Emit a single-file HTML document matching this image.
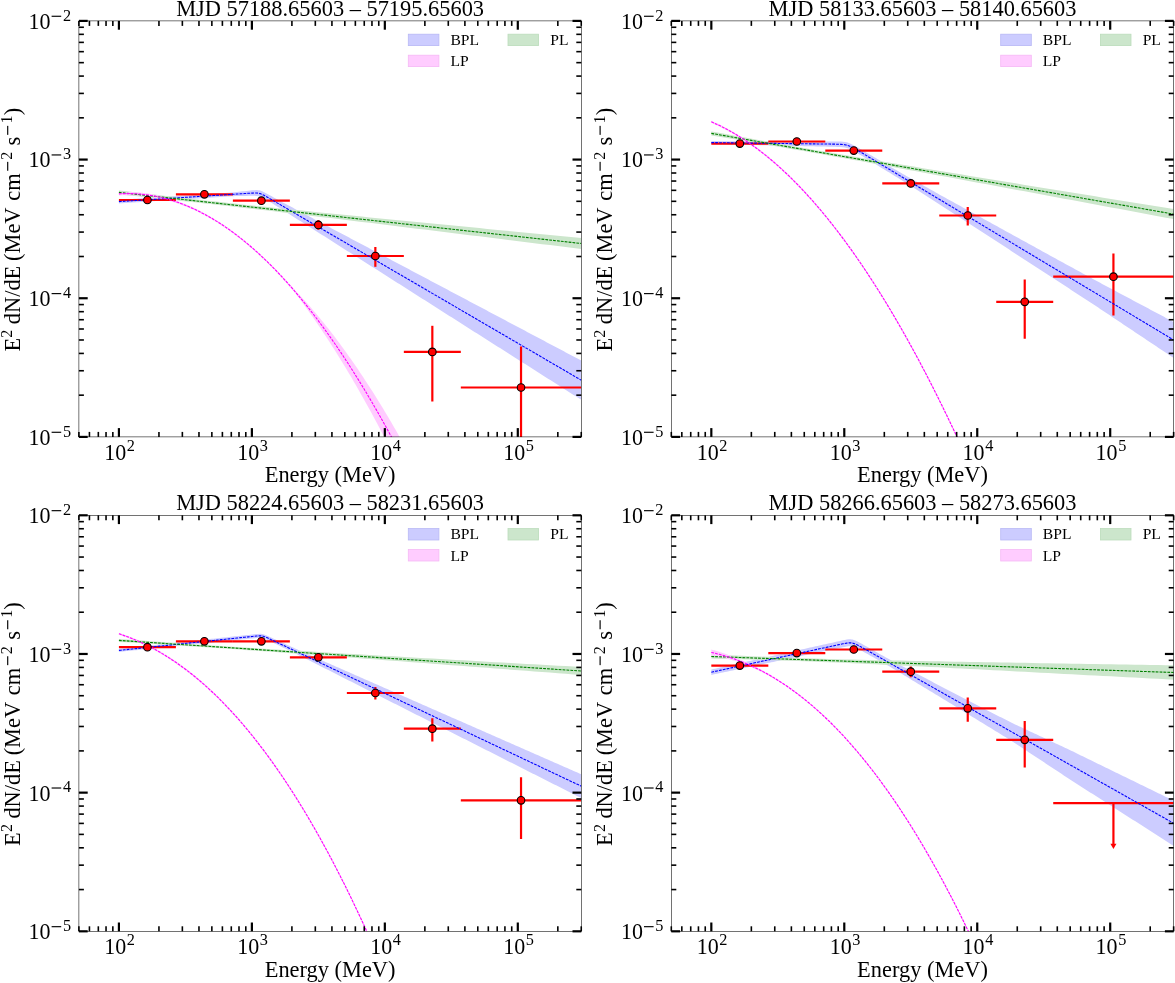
<!DOCTYPE html>
<html><head><meta charset="utf-8"><title>SED</title>
<style>html,body{margin:0;padding:0;background:#fff;}body{width:1175px;height:983px;overflow:hidden;font-family:"Liberation Serif",serif;}svg{display:block;will-change:transform;}</style>
</head><body>
<svg width="1175" height="983" viewBox="0 0 1175 983"><clipPath id="c0"><rect x="78.9" y="20.9" width="502.4" height="416"/></clipPath>
<g clip-path="url(#c0)">
<polygon points="118.92,199.8 120.86,199.67 122.79,199.55 124.73,199.42 126.66,199.3 128.6,199.17 130.53,199.05 132.47,198.92 134.4,198.8 136.34,198.67 138.27,198.54 140.21,198.42 142.14,198.29 144.08,198.17 146.01,198.04 147.94,197.92 149.88,197.79 151.81,197.67 153.75,197.54 155.68,197.41 157.62,197.29 159.55,197.16 161.49,197.04 163.42,196.91 165.36,196.79 167.29,196.66 169.23,196.54 171.16,196.41 173.09,196.28 175.03,196.16 176.96,196.03 178.9,195.91 180.83,195.78 182.77,195.66 184.7,195.53 186.64,195.41 188.57,195.28 190.51,195.15 192.44,195.03 194.38,194.9 196.31,194.78 198.24,194.65 200.18,194.53 202.11,194.4 204.05,194.28 205.98,194.15 207.92,194.03 209.85,193.9 211.79,193.77 213.72,193.65 215.66,193.52 217.59,193.4 219.53,193.27 221.46,193.15 223.39,193.02 225.33,192.9 227.26,192.77 229.2,192.64 231.13,192.52 233.07,192.39 235,192.22 236.94,192.01 238.87,191.8 240.81,191.58 242.74,191.37 244.68,191.16 246.61,190.95 248.54,190.74 250.48,190.53 252.41,190.33 254.35,190.16 256.28,190.06 258.22,190.14 259.5,190.37 260.15,190.54 262.09,191.24 264.02,192.16 265.96,193.18 267.89,194.23 269.83,195.3 271.76,196.37 273.69,197.45 275.63,198.52 277.56,199.6 279.5,200.67 281.43,201.71 283.37,202.74 285.3,203.76 287.24,204.79 289.17,205.81 291.11,206.84 293.04,207.86 294.98,208.89 296.91,209.92 298.84,210.94 300.78,211.97 302.71,212.99 304.65,214.02 306.58,215.04 308.52,216.07 310.45,217.09 312.39,218.12 314.32,219.15 316.26,220.17 318.19,221.2 320.13,222.22 322.06,223.25 324,224.27 325.93,225.3 327.86,226.32 329.8,227.35 331.73,228.38 333.67,229.4 335.6,230.43 337.54,231.45 339.47,232.48 341.41,233.5 343.34,234.53 345.28,235.55 347.21,236.58 349.15,237.61 351.08,238.63 353.01,239.66 354.95,240.68 356.88,241.7 358.82,242.73 360.75,243.75 362.69,244.78 364.62,245.8 366.56,246.83 368.49,247.85 370.43,248.88 372.36,249.9 374.3,250.93 376.23,251.95 378.16,252.98 380.1,254 382.03,255.03 383.97,256.05 385.9,257.07 387.84,258.1 389.77,259.12 391.71,260.15 393.64,261.17 395.58,262.2 397.51,263.22 399.45,264.25 401.38,265.27 403.31,266.3 405.25,267.32 407.18,268.35 409.12,269.37 411.05,270.39 412.99,271.42 414.92,272.44 416.86,273.47 418.79,274.49 420.73,275.52 422.66,276.54 424.6,277.57 426.53,278.59 428.46,279.62 430.4,280.64 432.33,281.67 434.27,282.69 436.2,283.72 438.14,284.74 440.07,285.76 442.01,286.79 443.94,287.81 445.88,288.84 447.81,289.86 449.75,290.89 451.68,291.91 453.61,292.94 455.55,293.96 457.48,294.99 459.42,296.01 461.35,297.04 463.29,298.06 465.22,299.09 467.16,300.11 469.09,301.13 471.03,302.16 472.96,303.18 474.9,304.21 476.83,305.24 478.76,306.26 480.7,307.29 482.63,308.31 484.57,309.34 486.5,310.36 488.44,311.39 490.37,312.41 492.31,313.44 494.24,314.46 496.18,315.49 498.11,316.51 500.05,317.54 501.98,318.56 503.92,319.59 505.85,320.61 507.78,321.64 509.72,322.66 511.65,323.69 513.59,324.72 515.52,325.74 517.46,326.77 519.39,327.79 521.33,328.82 523.26,329.84 525.2,330.87 527.13,331.89 529.07,332.92 531,333.94 532.93,334.97 534.87,335.99 536.8,337.02 538.74,338.04 540.67,339.07 542.61,340.09 544.54,341.12 546.48,342.15 548.41,343.17 550.35,344.2 552.28,345.22 554.22,346.25 556.15,347.27 558.08,348.3 560.02,349.32 561.95,350.35 563.89,351.37 565.82,352.4 567.76,353.42 569.69,354.45 571.63,355.47 573.56,356.5 575.5,357.52 577.43,358.55 579.37,359.57 581.3,360.6 581.3,399.8 579.37,398.57 577.43,397.34 575.5,396.11 573.56,394.88 571.63,393.65 569.69,392.42 567.76,391.19 565.82,389.96 563.89,388.73 561.95,387.5 560.02,386.27 558.08,385.04 556.15,383.81 554.22,382.57 552.28,381.34 550.35,380.11 548.41,378.88 546.48,377.65 544.54,376.42 542.61,375.19 540.67,373.96 538.74,372.73 536.8,371.5 534.87,370.27 532.93,369.04 531,367.81 529.07,366.58 527.13,365.35 525.2,364.12 523.26,362.89 521.33,361.66 519.39,360.43 517.46,359.2 515.52,357.97 513.59,356.74 511.65,355.51 509.72,354.28 507.78,353.05 505.85,351.82 503.92,350.58 501.98,349.35 500.05,348.12 498.11,346.89 496.18,345.66 494.24,344.43 492.31,343.2 490.37,341.97 488.44,340.74 486.5,339.51 484.57,338.28 482.63,337.05 480.7,335.82 478.76,334.59 476.83,333.36 474.9,332.13 472.96,330.9 471.03,329.67 469.09,328.44 467.16,327.21 465.22,325.98 463.29,324.74 461.35,323.51 459.42,322.28 457.48,321.05 455.55,319.82 453.61,318.59 451.68,317.36 449.75,316.13 447.81,314.9 445.88,313.67 443.94,312.43 442.01,311.2 440.07,309.97 438.14,308.74 436.2,307.51 434.27,306.28 432.33,305.05 430.4,303.82 428.46,302.59 426.53,301.36 424.6,300.12 422.66,298.89 420.73,297.66 418.79,296.43 416.86,295.2 414.92,293.97 412.99,292.74 411.05,291.51 409.12,290.28 407.18,289.05 405.25,287.81 403.31,286.58 401.38,285.35 399.45,284.12 397.51,282.89 395.58,281.66 393.64,280.43 391.71,279.2 389.77,277.97 387.84,276.74 385.9,275.5 383.97,274.27 382.03,273.04 380.1,271.81 378.16,270.58 376.23,269.35 374.3,268.12 372.36,266.89 370.43,265.66 368.49,264.43 366.56,263.19 364.62,261.96 362.69,260.73 360.75,259.5 358.82,258.27 356.88,257.04 354.95,255.81 353.01,254.58 351.08,253.35 349.15,252.12 347.21,250.89 345.28,249.66 343.34,248.43 341.41,247.19 339.47,245.96 337.54,244.73 335.6,243.5 333.67,242.27 331.73,241.04 329.8,239.81 327.86,238.58 325.93,237.35 324,236.12 322.06,234.89 320.13,233.66 318.19,232.43 316.26,231.2 314.32,229.97 312.39,228.74 310.45,227.51 308.52,226.28 306.58,225.05 304.65,223.82 302.71,222.59 300.78,221.36 298.84,220.13 296.91,218.9 294.98,217.67 293.04,216.44 291.11,215.21 289.17,213.98 287.24,212.75 285.3,211.52 283.37,210.29 281.43,209.06 279.5,207.85 277.56,206.66 275.63,205.48 273.69,204.3 271.76,203.12 269.83,201.95 267.89,200.77 265.96,199.61 264.02,198.49 262.09,197.47 260.15,196.65 259.5,196.45 258.22,196.15 256.28,195.91 254.35,195.83 252.41,195.82 250.48,195.84 248.54,195.87 246.61,195.9 244.68,195.94 242.74,195.97 240.81,196.01 238.87,196.04 236.94,196.08 235,196.11 233.07,196.19 231.13,196.31 229.2,196.44 227.26,196.56 225.33,196.68 223.39,196.8 221.46,196.92 219.53,197.05 217.59,197.17 215.66,197.29 213.72,197.41 211.79,197.54 209.85,197.66 207.92,197.78 205.98,197.9 204.05,198.02 202.11,198.15 200.18,198.27 198.24,198.39 196.31,198.51 194.38,198.64 192.44,198.76 190.51,198.88 188.57,199 186.64,199.12 184.7,199.25 182.77,199.37 180.83,199.49 178.9,199.61 176.96,199.73 175.03,199.86 173.09,199.98 171.16,200.1 169.23,200.22 167.29,200.35 165.36,200.47 163.42,200.59 161.49,200.71 159.55,200.83 157.62,200.96 155.68,201.08 153.75,201.2 151.81,201.32 149.88,201.45 147.94,201.57 146.01,201.69 144.08,201.81 142.14,201.93 140.21,202.06 138.27,202.18 136.34,202.3 134.4,202.42 132.47,202.54 130.53,202.67 128.6,202.79 126.66,202.91 124.73,203.03 122.79,203.16 120.86,203.28 118.92,203.4" fill="#ccccff"/>
<polygon points="118.92,190.4 126.76,191.33 134.6,192.26 142.44,193.18 150.27,194.1 158.11,195.02 165.95,195.93 173.78,196.83 181.62,197.73 189.46,198.62 197.29,199.5 205.13,200.38 212.97,201.24 220.8,202.1 228.64,202.96 236.48,203.8 244.31,204.64 252.15,205.47 259.99,206.29 267.83,207.11 275.66,207.92 283.5,208.73 291.34,209.53 299.17,210.33 307.01,211.12 314.85,211.91 322.68,212.7 330.52,213.49 338.36,214.27 346.19,215.05 354.03,215.83 361.87,216.6 369.7,217.38 377.54,218.15 385.38,218.92 393.22,219.69 401.05,220.46 408.89,221.23 416.73,222 424.56,222.76 432.4,223.53 440.24,224.3 448.07,225.06 455.91,225.83 463.75,226.59 471.58,227.35 479.42,228.11 487.26,228.88 495.09,229.64 502.93,230.4 510.77,231.16 518.61,231.92 526.44,232.68 534.28,233.44 542.12,234.2 549.95,234.96 557.79,235.72 565.63,236.48 573.46,237.24 581.3,238 581.3,249 573.46,248.03 565.63,247.05 557.79,246.08 549.95,245.11 542.12,244.14 534.28,243.16 526.44,242.19 518.61,241.22 510.77,240.25 502.93,239.28 495.09,238.31 487.26,237.34 479.42,236.37 471.58,235.4 463.75,234.43 455.91,233.46 448.07,232.49 440.24,231.52 432.4,230.56 424.56,229.59 416.73,228.63 408.89,227.66 401.05,226.7 393.22,225.73 385.38,224.77 377.54,223.81 369.7,222.85 361.87,221.9 354.03,220.94 346.19,219.99 338.36,219.03 330.52,218.08 322.68,217.14 314.85,216.19 307.01,215.25 299.17,214.31 291.34,213.38 283.5,212.45 275.66,211.52 267.83,210.6 259.99,209.69 252.15,208.78 244.31,207.88 236.48,206.98 228.64,206.09 220.8,205.21 212.97,204.34 205.13,203.48 197.29,202.62 189.46,201.77 181.62,200.93 173.78,200.1 165.95,199.27 158.11,198.44 150.27,197.62 142.44,196.81 134.6,196 126.76,195.2 118.92,194.4" fill="#cce6cc"/>
<polygon points="118.92,192.14 120.47,192.07 122.02,192.01 123.56,191.97 125.11,191.95 126.66,191.95 128.2,191.96 129.75,191.99 131.3,192.03 132.84,192.09 134.39,192.17 135.94,192.27 137.48,192.38 139.03,192.51 140.57,192.65 142.12,192.81 143.67,192.99 145.21,193.19 146.76,193.4 148.31,193.63 149.85,193.87 151.4,194.14 152.95,194.41 154.49,194.71 156.04,195.02 157.59,195.35 159.13,195.7 160.68,196.06 162.22,196.44 163.77,196.84 165.32,197.25 166.86,197.68 168.41,198.12 169.96,198.59 171.5,199.07 173.05,199.56 174.6,200.08 176.14,200.61 177.69,201.15 179.23,201.72 180.78,202.3 182.33,202.89 183.87,203.51 185.42,204.14 186.97,204.78 188.51,205.45 190.06,206.13 191.61,206.82 193.15,207.54 194.7,208.27 196.25,209.01 197.79,209.78 199.34,210.56 200.88,211.35 202.43,212.15 203.98,212.97 205.52,213.8 207.07,214.65 208.62,215.52 210.16,216.4 211.71,217.3 213.26,218.22 214.8,219.16 216.35,220.11 217.89,221.07 219.44,222.06 220.99,223.06 222.53,224.08 224.08,225.11 225.63,226.16 227.17,227.23 228.72,228.32 230.27,229.42 231.81,230.54 233.36,231.67 234.91,232.82 236.45,233.99 238,235.18 239.54,236.38 241.09,237.6 242.64,238.83 244.18,240.09 245.73,241.35 247.28,242.64 248.82,243.94 250.37,245.26 251.92,246.6 253.46,247.95 255.01,249.32 256.55,250.7 258.1,252.11 259.65,253.53 261.19,254.96 262.74,256.41 264.29,257.88 265.83,259.37 267.38,260.87 268.93,262.39 270.47,263.92 272.02,265.46 273.57,267.01 275.11,268.58 276.66,270.16 278.2,271.76 279.75,273.38 281.3,275.02 282.84,276.67 284.39,278.33 285.94,280.02 287.48,281.72 289.03,283.44 290.58,285.17 292.12,286.93 293.67,288.7 295.22,290.45 296.76,292.07 298.31,293.7 299.85,295.35 301.4,297.01 302.95,298.69 304.49,300.39 306.04,302.1 307.59,303.83 309.13,305.58 310.68,307.34 312.23,309.13 313.77,310.92 315.32,312.74 316.86,314.57 318.41,316.42 319.96,318.28 321.5,320.16 323.05,322.06 324.6,323.97 326.14,325.91 327.69,327.85 329.24,329.82 330.78,331.8 332.33,333.8 333.88,335.81 335.42,337.85 336.97,339.89 338.51,341.96 340.06,344.04 341.61,346.14 343.15,348.26 344.7,350.39 346.25,352.54 347.79,354.7 349.34,356.88 350.89,359.08 352.43,361.3 353.98,363.53 355.52,365.78 357.07,368.05 358.62,370.33 360.16,372.63 361.71,374.94 363.26,377.28 364.8,379.63 366.35,381.99 367.9,384.38 369.44,386.77 370.99,389.19 372.54,391.62 374.08,394.07 375.63,396.54 377.17,399.02 378.72,401.52 380.27,404.04 381.81,406.57 383.36,409.12 384.91,411.69 386.45,414.27 388,416.87 389.55,419.49 391.09,422.12 392.64,424.77 394.19,427.44 395.73,430.12 397.28,432.82 398.82,435.53 400.37,438.26 401.92,441.01 403.46,443.77 405.01,446.55 406.56,449.35 408.1,452.16 409.65,454.99 411.2,457.84 412.74,460.71 414.29,463.59 415.83,466.48 417.38,469.4 418.93,472.33 420.47,475.28 422.02,478.24 423.57,481.22 425.11,484.22 426.66,487.24 428.21,490.27 429.75,493.32 431.3,496.38 432.85,499.46 434.39,502.56 435.94,505.67 437.48,508.81 439.03,511.95 440.58,515.12 442.12,518.3 443.67,521.5 445.22,524.72 446.76,527.95 448.31,531.2 449.86,534.46 451.4,537.74 452.95,541.04 454.49,544.36 456.04,547.69 457.59,551.04 459.13,554.41 460.68,557.79 462.23,561.19 463.77,564.6 465.32,568.04 466.87,571.48 468.41,574.95 469.96,578.43 471.51,581.93 473.05,585.45 474.6,588.98 476.14,592.53 477.69,596.1 479.24,599.68 480.78,603.28 482.33,606.9 483.88,610.53 485.42,614.18 486.97,617.85 488.52,621.53 490.06,625.23 491.61,628.95 493.15,632.68 494.7,636.43 496.25,640.2 497.79,643.98 499.34,647.78 500.89,651.6 502.43,655.43 503.98,659.28 505.53,663.15 507.07,667.04 508.62,670.94 510.17,674.85 511.71,678.79 513.26,682.74 514.8,686.71 516.35,690.69 517.9,694.69 519.44,698.71 520.99,702.74 522.54,706.8 524.08,710.86 525.63,714.95 527.18,719.05 528.72,723.17 530.27,727.3 531.82,731.45 533.36,735.62 534.91,739.81 536.45,744.01 538,748.23 539.55,752.46 541.09,756.71 542.64,760.98 544.19,765.27 545.73,769.57 547.28,773.89 548.83,778.22 550.37,782.58 551.92,786.95 553.46,791.33 555.01,795.73 556.56,800.15 558.1,804.59 559.65,809.04 561.2,813.51 562.74,818 564.29,822.5 565.84,827.02 567.38,831.55 568.93,836.11 570.48,840.68 572.02,845.26 573.57,849.87 575.11,854.49 576.66,859.12 578.21,863.77 579.75,868.44 581.3,873.13 581.3,953.13 579.75,948.02 578.21,942.93 576.66,937.86 575.11,932.8 573.57,927.76 572.02,922.74 570.48,917.73 568.93,912.74 567.38,907.77 565.84,902.81 564.29,897.87 562.74,892.95 561.2,888.04 559.65,883.15 558.1,878.28 556.56,873.42 555.01,868.59 553.46,863.76 551.92,858.96 550.37,854.17 548.83,849.39 547.28,844.64 545.73,839.9 544.19,835.18 542.64,830.47 541.09,825.78 539.55,821.11 538,816.45 536.45,811.82 534.91,807.19 533.36,802.59 531.82,798 530.27,793.43 528.72,788.87 527.18,784.33 525.63,779.81 524.08,775.31 522.54,770.82 520.99,766.35 519.44,761.89 517.9,757.45 516.35,753.03 514.8,748.63 513.26,744.24 511.71,739.87 510.17,735.51 508.62,731.17 507.07,726.85 505.53,722.55 503.98,718.26 502.43,713.99 500.89,709.74 499.34,705.5 497.79,701.28 496.25,697.07 494.7,692.89 493.15,688.71 491.61,684.56 490.06,680.42 488.52,676.3 486.97,672.2 485.42,668.11 483.88,664.04 482.33,659.99 480.78,655.95 479.24,651.93 477.69,647.93 476.14,643.94 474.6,639.97 473.05,636.02 471.51,632.08 469.96,628.16 468.41,624.26 466.87,620.37 465.32,616.5 463.77,612.65 462.23,608.81 460.68,604.99 459.13,601.19 457.59,597.4 456.04,593.63 454.49,589.88 452.95,586.14 451.4,582.42 449.86,578.72 448.31,575.04 446.76,571.37 445.22,567.71 443.67,564.08 442.12,560.46 440.58,556.86 439.03,553.27 437.48,549.7 435.94,546.15 434.39,542.61 432.85,539.1 431.3,535.59 429.75,532.11 428.21,528.64 426.66,525.19 425.11,521.75 423.57,518.33 422.02,514.93 420.47,511.55 418.93,508.18 417.38,504.83 415.83,501.49 414.29,498.17 412.74,494.87 411.2,491.59 409.65,488.32 408.1,485.07 406.56,481.84 405.01,478.62 403.46,475.42 401.92,472.23 400.37,469.06 398.82,465.91 397.28,462.78 395.73,459.66 394.19,456.56 392.64,453.48 391.09,450.41 389.55,447.37 388,444.34 386.45,441.32 384.91,438.33 383.36,435.35 381.81,432.38 380.27,429.44 378.72,426.51 377.17,423.59 375.63,420.7 374.08,417.82 372.54,414.95 370.99,412.11 369.44,409.28 367.9,406.46 366.35,403.67 364.8,400.89 363.26,398.13 361.71,395.38 360.16,392.65 358.62,389.94 357.07,387.24 355.52,384.56 353.98,381.9 352.43,379.25 350.89,376.62 349.34,374.01 347.79,371.42 346.25,368.84 344.7,366.27 343.15,363.73 341.61,361.2 340.06,358.69 338.51,356.19 336.97,353.71 335.42,351.25 333.88,348.81 332.33,346.38 330.78,343.97 329.24,341.57 327.69,339.19 326.14,336.83 324.6,334.49 323.05,332.16 321.5,329.85 319.96,327.55 318.41,325.28 316.86,323.01 315.32,320.77 313.77,318.54 312.23,316.33 310.68,314.14 309.13,311.96 307.59,309.8 306.04,307.65 304.49,305.53 302.95,303.41 301.4,301.32 299.85,299.24 298.31,297.18 296.76,295.14 295.22,293.11 293.67,291.26 292.12,289.46 290.58,287.67 289.03,285.9 287.48,284.14 285.94,282.4 284.39,280.68 282.84,278.97 281.3,277.29 279.75,275.61 278.2,273.96 276.66,272.32 275.11,270.7 273.57,269.09 272.02,267.51 270.47,265.93 268.93,264.39 267.38,262.87 265.83,261.37 264.29,259.88 262.74,258.41 261.19,256.96 259.65,255.53 258.1,254.11 256.55,252.7 255.01,251.32 253.46,249.95 251.92,248.6 250.37,247.26 248.82,245.94 247.28,244.64 245.73,243.35 244.18,242.09 242.64,240.83 241.09,239.6 239.54,238.38 238,237.18 236.45,235.99 234.91,234.82 233.36,233.67 231.81,232.54 230.27,231.42 228.72,230.32 227.17,229.23 225.63,228.16 224.08,227.11 222.53,226.08 220.99,225.06 219.44,224.06 217.89,223.07 216.35,222.11 214.8,221.16 213.26,220.22 211.71,219.3 210.16,218.4 208.62,217.52 207.07,216.65 205.52,215.8 203.98,214.97 202.43,214.15 200.88,213.35 199.34,212.57 197.79,211.82 196.25,211.08 194.7,210.36 193.15,209.65 191.61,208.97 190.06,208.3 188.51,207.64 186.97,207.01 185.42,206.39 183.87,205.78 182.33,205.2 180.78,204.63 179.23,204.07 177.69,203.54 176.14,203.02 174.6,202.51 173.05,202.03 171.5,201.56 169.96,201.11 168.41,200.67 166.86,200.25 165.32,199.85 163.77,199.46 162.22,199.09 160.68,198.74 159.13,198.4 157.59,198.08 156.04,197.78 154.49,197.5 152.95,197.23 151.4,196.97 149.85,196.74 148.31,196.52 146.76,196.32 145.21,196.13 143.67,195.96 142.12,195.81 140.57,195.68 139.03,195.56 137.48,195.46 135.94,195.37 134.39,195.3 132.84,195.25 131.3,195.22 129.75,195.2 128.2,195.2 126.66,195.21 125.11,195.24 123.56,195.29 122.02,195.36 120.47,195.44 118.92,195.54" fill="#ffccff"/>
<line x1="118.92" y1="200" x2="175.91" y2="200" stroke="#ff0000" stroke-width="2.2"/>
<line x1="175.91" y1="194.3" x2="232.89" y2="194.3" stroke="#ff0000" stroke-width="2.2"/>
<line x1="232.89" y1="200.7" x2="289.87" y2="200.7" stroke="#ff0000" stroke-width="2.2"/>
<line x1="289.87" y1="224.9" x2="346.86" y2="224.9" stroke="#ff0000" stroke-width="2.2"/>
<line x1="318.36" y1="220.1" x2="318.36" y2="229.8" stroke="#ff0000" stroke-width="2.2"/>
<line x1="346.86" y1="256" x2="403.84" y2="256" stroke="#ff0000" stroke-width="2.2"/>
<line x1="375.35" y1="246.9" x2="375.35" y2="266.8" stroke="#ff0000" stroke-width="2.2"/>
<line x1="403.84" y1="351.9" x2="460.82" y2="351.9" stroke="#ff0000" stroke-width="2.2"/>
<line x1="432.33" y1="325.8" x2="432.33" y2="401.5" stroke="#ff0000" stroke-width="2.2"/>
<line x1="460.82" y1="387.5" x2="581.24" y2="387.5" stroke="#ff0000" stroke-width="2.2"/>
<line x1="521.03" y1="346.5" x2="521.03" y2="445" stroke="#ff0000" stroke-width="2.2"/>
<path d="M118.92,201.6 L120.86,201.48 L122.79,201.35 L124.73,201.23 L126.66,201.1 L128.6,200.98 L130.53,200.86 L132.47,200.73 L134.4,200.61 L136.34,200.49 L138.27,200.36 L140.21,200.24 L142.14,200.11 L144.08,199.99 L146.01,199.87 L147.94,199.74 L149.88,199.62 L151.81,199.49 L153.75,199.37 L155.68,199.25 L157.62,199.12 L159.55,199 L161.49,198.88 L163.42,198.75 L165.36,198.63 L167.29,198.5 L169.23,198.38 L171.16,198.26 L173.09,198.13 L175.03,198.01 L176.96,197.88 L178.9,197.76 L180.83,197.64 L182.77,197.51 L184.7,197.39 L186.64,197.26 L188.57,197.14 L190.51,197.02 L192.44,196.89 L194.38,196.77 L196.31,196.65 L198.24,196.52 L200.18,196.4 L202.11,196.27 L204.05,196.15 L205.98,196.03 L207.92,195.9 L209.85,195.78 L211.79,195.65 L213.72,195.53 L215.66,195.41 L217.59,195.28 L219.53,195.16 L221.46,195.04 L223.39,194.91 L225.33,194.79 L227.26,194.66 L229.2,194.54 L231.13,194.42 L233.07,194.29 L235,194.17 L236.94,194.04 L238.87,193.92 L240.81,193.8 L242.74,193.67 L244.68,193.55 L246.61,193.43 L248.54,193.3 L250.48,193.19 L252.41,193.08 L254.35,192.99 L256.28,192.99 L258.22,193.15 L259.5,193.41 L260.15,193.6 L262.09,194.36 L264.02,195.33 L265.96,196.4 L267.89,197.5 L269.83,198.62 L271.76,199.75 L273.69,200.88 L275.63,202 L277.56,203.13 L279.5,204.26 L281.43,205.39 L283.37,206.51 L285.3,207.64 L287.24,208.77 L289.17,209.9 L291.11,211.03 L293.04,212.15 L294.98,213.28 L296.91,214.41 L298.84,215.54 L300.78,216.66 L302.71,217.79 L304.65,218.92 L306.58,220.05 L308.52,221.18 L310.45,222.3 L312.39,223.43 L314.32,224.56 L316.26,225.69 L318.19,226.82 L320.13,227.94 L322.06,229.07 L324,230.2 L325.93,231.33 L327.86,232.45 L329.8,233.58 L331.73,234.71 L333.67,235.84 L335.6,236.97 L337.54,238.09 L339.47,239.22 L341.41,240.35 L343.34,241.48 L345.28,242.6 L347.21,243.73 L349.15,244.86 L351.08,245.99 L353.01,247.12 L354.95,248.24 L356.88,249.37 L358.82,250.5 L360.75,251.63 L362.69,252.76 L364.62,253.88 L366.56,255.01 L368.49,256.14 L370.43,257.27 L372.36,258.39 L374.3,259.52 L376.23,260.65 L378.16,261.78 L380.1,262.91 L382.03,264.03 L383.97,265.16 L385.9,266.29 L387.84,267.42 L389.77,268.54 L391.71,269.67 L393.64,270.8 L395.58,271.93 L397.51,273.06 L399.45,274.18 L401.38,275.31 L403.31,276.44 L405.25,277.57 L407.18,278.7 L409.12,279.82 L411.05,280.95 L412.99,282.08 L414.92,283.21 L416.86,284.33 L418.79,285.46 L420.73,286.59 L422.66,287.72 L424.6,288.85 L426.53,289.97 L428.46,291.1 L430.4,292.23 L432.33,293.36 L434.27,294.48 L436.2,295.61 L438.14,296.74 L440.07,297.87 L442.01,299 L443.94,300.12 L445.88,301.25 L447.81,302.38 L449.75,303.51 L451.68,304.64 L453.61,305.76 L455.55,306.89 L457.48,308.02 L459.42,309.15 L461.35,310.27 L463.29,311.4 L465.22,312.53 L467.16,313.66 L469.09,314.79 L471.03,315.91 L472.96,317.04 L474.9,318.17 L476.83,319.3 L478.76,320.43 L480.7,321.55 L482.63,322.68 L484.57,323.81 L486.5,324.94 L488.44,326.06 L490.37,327.19 L492.31,328.32 L494.24,329.45 L496.18,330.58 L498.11,331.7 L500.05,332.83 L501.98,333.96 L503.92,335.09 L505.85,336.21 L507.78,337.34 L509.72,338.47 L511.65,339.6 L513.59,340.73 L515.52,341.85 L517.46,342.98 L519.39,344.11 L521.33,345.24 L523.26,346.37 L525.2,347.49 L527.13,348.62 L529.07,349.75 L531,350.88 L532.93,352 L534.87,353.13 L536.8,354.26 L538.74,355.39 L540.67,356.52 L542.61,357.64 L544.54,358.77 L546.48,359.9 L548.41,361.03 L550.35,362.15 L552.28,363.28 L554.22,364.41 L556.15,365.54 L558.08,366.67 L560.02,367.79 L561.95,368.92 L563.89,370.05 L565.82,371.18 L567.76,372.31 L569.69,373.43 L571.63,374.56 L573.56,375.69 L575.5,376.82 L577.43,377.94 L579.37,379.07 L581.3,380.2" fill="none" stroke="#0000ff" stroke-width="1.1" stroke-dasharray="2.8,1.1"/>
<path d="M118.92,192.4 L581.3,243.5" fill="none" stroke="#008000" stroke-width="1.1" stroke-dasharray="2.8,1.1"/>
<path d="M118.92,193.84 L120.47,193.75 L122.02,193.68 L123.56,193.63 L125.11,193.6 L126.66,193.58 L128.2,193.58 L129.75,193.59 L131.3,193.62 L132.84,193.67 L134.39,193.74 L135.94,193.82 L137.48,193.92 L139.03,194.03 L140.57,194.16 L142.12,194.31 L143.67,194.48 L145.21,194.66 L146.76,194.86 L148.31,195.07 L149.85,195.31 L151.4,195.56 L152.95,195.82 L154.49,196.1 L156.04,196.4 L157.59,196.72 L159.13,197.05 L160.68,197.4 L162.22,197.77 L163.77,198.15 L165.32,198.55 L166.86,198.96 L168.41,199.4 L169.96,199.85 L171.5,200.31 L173.05,200.8 L174.6,201.3 L176.14,201.81 L177.69,202.34 L179.23,202.89 L180.78,203.46 L182.33,204.04 L183.87,204.64 L185.42,205.26 L186.97,205.89 L188.51,206.54 L190.06,207.21 L191.61,207.9 L193.15,208.6 L194.7,209.31 L196.25,210.05 L197.79,210.8 L199.34,211.56 L200.88,212.35 L202.43,213.15 L203.98,213.97 L205.52,214.8 L207.07,215.65 L208.62,216.52 L210.16,217.4 L211.71,218.3 L213.26,219.22 L214.8,220.16 L216.35,221.11 L217.89,222.07 L219.44,223.06 L220.99,224.06 L222.53,225.08 L224.08,226.11 L225.63,227.16 L227.17,228.23 L228.72,229.32 L230.27,230.42 L231.81,231.54 L233.36,232.67 L234.91,233.82 L236.45,234.99 L238,236.18 L239.54,237.38 L241.09,238.6 L242.64,239.83 L244.18,241.09 L245.73,242.35 L247.28,243.64 L248.82,244.94 L250.37,246.26 L251.92,247.6 L253.46,248.95 L255.01,250.32 L256.55,251.7 L258.1,253.11 L259.65,254.53 L261.19,255.96 L262.74,257.41 L264.29,258.88 L265.83,260.37 L267.38,261.87 L268.93,263.39 L270.47,264.93 L272.02,266.48 L273.57,268.05 L275.11,269.64 L276.66,271.24 L278.2,272.86 L279.75,274.5 L281.3,276.15 L282.84,277.82 L284.39,279.51 L285.94,281.21 L287.48,282.93 L289.03,284.67 L290.58,286.42 L292.12,288.19 L293.67,289.98 L295.22,291.78 L296.76,293.6 L298.31,295.44 L299.85,297.29 L301.4,299.17 L302.95,301.05 L304.49,302.96 L306.04,304.88 L307.59,306.82 L309.13,308.77 L310.68,310.74 L312.23,312.73 L313.77,314.73 L315.32,316.75 L316.86,318.79 L318.41,320.85 L319.96,322.92 L321.5,325.01 L323.05,327.11 L324.6,329.23 L326.14,331.37 L327.69,333.52 L329.24,335.7 L330.78,337.88 L332.33,340.09 L333.88,342.31 L335.42,344.55 L336.97,346.8 L338.51,349.08 L340.06,351.37 L341.61,353.67 L343.15,355.99 L344.7,358.33 L346.25,360.69 L347.79,363.06 L349.34,365.45 L350.89,367.85 L352.43,370.28 L353.98,372.72 L355.52,375.17 L357.07,377.64 L358.62,380.13 L360.16,382.64 L361.71,385.16 L363.26,387.7 L364.8,390.26 L366.35,392.83 L367.9,395.42 L369.44,398.03 L370.99,400.65 L372.54,403.29 L374.08,405.94 L375.63,408.62 L377.17,411.31 L378.72,414.01 L380.27,416.74 L381.81,419.48 L383.36,422.23 L384.91,425.01 L386.45,427.8 L388,430.61 L389.55,433.43 L391.09,436.27 L392.64,439.13 L394.19,442 L395.73,444.89 L397.28,447.8 L398.82,450.72 L400.37,453.66 L401.92,456.62 L403.46,459.59 L405.01,462.58 L406.56,465.59 L408.1,468.62 L409.65,471.66 L411.2,474.72 L412.74,477.79 L414.29,480.88 L415.83,483.99 L417.38,487.11 L418.93,490.25 L420.47,493.41 L422.02,496.59 L423.57,499.78 L425.11,502.99 L426.66,506.21 L428.21,509.45 L429.75,512.71 L431.3,515.99 L432.85,519.28 L434.39,522.59 L435.94,525.91 L437.48,529.25 L439.03,532.61 L440.58,535.99 L442.12,539.38 L443.67,542.79 L445.22,546.21 L446.76,549.66 L448.31,553.12 L449.86,556.59 L451.4,560.08 L452.95,563.59 L454.49,567.12 L456.04,570.66 L457.59,574.22 L459.13,577.8 L460.68,581.39 L462.23,585 L463.77,588.62 L465.32,592.27 L466.87,595.93 L468.41,599.6 L469.96,603.3 L471.51,607.01 L473.05,610.73 L474.6,614.48 L476.14,618.24 L477.69,622.01 L479.24,625.81 L480.78,629.62 L482.33,633.44 L483.88,637.29 L485.42,641.15 L486.97,645.02 L488.52,648.92 L490.06,652.83 L491.61,656.75 L493.15,660.7 L494.7,664.66 L496.25,668.64 L497.79,672.63 L499.34,676.64 L500.89,680.67 L502.43,684.71 L503.98,688.77 L505.53,692.85 L507.07,696.94 L508.62,701.06 L510.17,705.18 L511.71,709.33 L513.26,713.49 L514.8,717.67 L516.35,721.86 L517.9,726.07 L519.44,730.3 L520.99,734.55 L522.54,738.81 L524.08,743.08 L525.63,747.38 L527.18,751.69 L528.72,756.02 L530.27,760.36 L531.82,764.73 L533.36,769.11 L534.91,773.5 L536.45,777.91 L538,782.34 L539.55,786.79 L541.09,791.25 L542.64,795.73 L544.19,800.22 L545.73,804.73 L547.28,809.26 L548.83,813.81 L550.37,818.37 L551.92,822.95 L553.46,827.55 L555.01,832.16 L556.56,836.79 L558.1,841.43 L559.65,846.1 L561.2,850.78 L562.74,855.47 L564.29,860.19 L565.84,864.92 L567.38,869.66 L568.93,874.42 L570.48,879.2 L572.02,884 L573.57,888.81 L575.11,893.64 L576.66,898.49 L578.21,903.35 L579.75,908.23 L581.3,913.13" fill="none" stroke="#ff00ff" stroke-width="1.1" stroke-dasharray="2.8,1.1"/>
<circle cx="147.42" cy="200" r="3.8" fill="#ff0000" stroke="#000" stroke-width="1.1"/>
<circle cx="204.4" cy="194.3" r="3.8" fill="#ff0000" stroke="#000" stroke-width="1.1"/>
<circle cx="261.38" cy="200.7" r="3.8" fill="#ff0000" stroke="#000" stroke-width="1.1"/>
<circle cx="318.36" cy="224.9" r="3.8" fill="#ff0000" stroke="#000" stroke-width="1.1"/>
<circle cx="375.35" cy="256" r="3.8" fill="#ff0000" stroke="#000" stroke-width="1.1"/>
<circle cx="432.33" cy="351.9" r="3.8" fill="#ff0000" stroke="#000" stroke-width="1.1"/>
<circle cx="521.03" cy="387.5" r="3.8" fill="#ff0000" stroke="#000" stroke-width="1.1"/>
</g>
<rect x="78.9" y="20.9" width="502.4" height="416" fill="none" stroke="#000" stroke-width="0.55"/>
<g stroke="#000">
<line x1="78.9" y1="436.9" x2="78.9" y2="431.9" stroke-width="1.6"/>
<line x1="78.9" y1="20.9" x2="78.9" y2="25.9" stroke-width="1.6"/>
<line x1="89.43" y1="436.9" x2="89.43" y2="431.9" stroke-width="1.6"/>
<line x1="89.43" y1="20.9" x2="89.43" y2="25.9" stroke-width="1.6"/>
<line x1="98.33" y1="436.9" x2="98.33" y2="431.9" stroke-width="1.6"/>
<line x1="98.33" y1="20.9" x2="98.33" y2="25.9" stroke-width="1.6"/>
<line x1="106.04" y1="436.9" x2="106.04" y2="431.9" stroke-width="1.6"/>
<line x1="106.04" y1="20.9" x2="106.04" y2="25.9" stroke-width="1.6"/>
<line x1="112.84" y1="436.9" x2="112.84" y2="431.9" stroke-width="1.6"/>
<line x1="112.84" y1="20.9" x2="112.84" y2="25.9" stroke-width="1.6"/>
<line x1="118.92" y1="436.9" x2="118.92" y2="428.1" stroke-width="2.2"/>
<line x1="118.92" y1="20.9" x2="118.92" y2="29.7" stroke-width="2.2"/>
<line x1="158.95" y1="436.9" x2="158.95" y2="431.9" stroke-width="1.6"/>
<line x1="158.95" y1="20.9" x2="158.95" y2="25.9" stroke-width="1.6"/>
<line x1="182.36" y1="436.9" x2="182.36" y2="431.9" stroke-width="1.6"/>
<line x1="182.36" y1="20.9" x2="182.36" y2="25.9" stroke-width="1.6"/>
<line x1="198.97" y1="436.9" x2="198.97" y2="431.9" stroke-width="1.6"/>
<line x1="198.97" y1="20.9" x2="198.97" y2="25.9" stroke-width="1.6"/>
<line x1="211.86" y1="436.9" x2="211.86" y2="431.9" stroke-width="1.6"/>
<line x1="211.86" y1="20.9" x2="211.86" y2="25.9" stroke-width="1.6"/>
<line x1="222.39" y1="436.9" x2="222.39" y2="431.9" stroke-width="1.6"/>
<line x1="222.39" y1="20.9" x2="222.39" y2="25.9" stroke-width="1.6"/>
<line x1="231.29" y1="436.9" x2="231.29" y2="431.9" stroke-width="1.6"/>
<line x1="231.29" y1="20.9" x2="231.29" y2="25.9" stroke-width="1.6"/>
<line x1="239" y1="436.9" x2="239" y2="431.9" stroke-width="1.6"/>
<line x1="239" y1="20.9" x2="239" y2="25.9" stroke-width="1.6"/>
<line x1="245.8" y1="436.9" x2="245.8" y2="431.9" stroke-width="1.6"/>
<line x1="245.8" y1="20.9" x2="245.8" y2="25.9" stroke-width="1.6"/>
<line x1="251.88" y1="436.9" x2="251.88" y2="428.1" stroke-width="2.2"/>
<line x1="251.88" y1="20.9" x2="251.88" y2="29.7" stroke-width="2.2"/>
<line x1="291.91" y1="436.9" x2="291.91" y2="431.9" stroke-width="1.6"/>
<line x1="291.91" y1="20.9" x2="291.91" y2="25.9" stroke-width="1.6"/>
<line x1="315.32" y1="436.9" x2="315.32" y2="431.9" stroke-width="1.6"/>
<line x1="315.32" y1="20.9" x2="315.32" y2="25.9" stroke-width="1.6"/>
<line x1="331.93" y1="436.9" x2="331.93" y2="431.9" stroke-width="1.6"/>
<line x1="331.93" y1="20.9" x2="331.93" y2="25.9" stroke-width="1.6"/>
<line x1="344.82" y1="436.9" x2="344.82" y2="431.9" stroke-width="1.6"/>
<line x1="344.82" y1="20.9" x2="344.82" y2="25.9" stroke-width="1.6"/>
<line x1="355.35" y1="436.9" x2="355.35" y2="431.9" stroke-width="1.6"/>
<line x1="355.35" y1="20.9" x2="355.35" y2="25.9" stroke-width="1.6"/>
<line x1="364.25" y1="436.9" x2="364.25" y2="431.9" stroke-width="1.6"/>
<line x1="364.25" y1="20.9" x2="364.25" y2="25.9" stroke-width="1.6"/>
<line x1="371.96" y1="436.9" x2="371.96" y2="431.9" stroke-width="1.6"/>
<line x1="371.96" y1="20.9" x2="371.96" y2="25.9" stroke-width="1.6"/>
<line x1="378.76" y1="436.9" x2="378.76" y2="431.9" stroke-width="1.6"/>
<line x1="378.76" y1="20.9" x2="378.76" y2="25.9" stroke-width="1.6"/>
<line x1="384.84" y1="436.9" x2="384.84" y2="428.1" stroke-width="2.2"/>
<line x1="384.84" y1="20.9" x2="384.84" y2="29.7" stroke-width="2.2"/>
<line x1="424.87" y1="436.9" x2="424.87" y2="431.9" stroke-width="1.6"/>
<line x1="424.87" y1="20.9" x2="424.87" y2="25.9" stroke-width="1.6"/>
<line x1="448.28" y1="436.9" x2="448.28" y2="431.9" stroke-width="1.6"/>
<line x1="448.28" y1="20.9" x2="448.28" y2="25.9" stroke-width="1.6"/>
<line x1="464.89" y1="436.9" x2="464.89" y2="431.9" stroke-width="1.6"/>
<line x1="464.89" y1="20.9" x2="464.89" y2="25.9" stroke-width="1.6"/>
<line x1="477.78" y1="436.9" x2="477.78" y2="431.9" stroke-width="1.6"/>
<line x1="477.78" y1="20.9" x2="477.78" y2="25.9" stroke-width="1.6"/>
<line x1="488.31" y1="436.9" x2="488.31" y2="431.9" stroke-width="1.6"/>
<line x1="488.31" y1="20.9" x2="488.31" y2="25.9" stroke-width="1.6"/>
<line x1="497.21" y1="436.9" x2="497.21" y2="431.9" stroke-width="1.6"/>
<line x1="497.21" y1="20.9" x2="497.21" y2="25.9" stroke-width="1.6"/>
<line x1="504.92" y1="436.9" x2="504.92" y2="431.9" stroke-width="1.6"/>
<line x1="504.92" y1="20.9" x2="504.92" y2="25.9" stroke-width="1.6"/>
<line x1="511.72" y1="436.9" x2="511.72" y2="431.9" stroke-width="1.6"/>
<line x1="511.72" y1="20.9" x2="511.72" y2="25.9" stroke-width="1.6"/>
<line x1="517.8" y1="436.9" x2="517.8" y2="428.1" stroke-width="2.2"/>
<line x1="517.8" y1="20.9" x2="517.8" y2="29.7" stroke-width="2.2"/>
<line x1="557.83" y1="436.9" x2="557.83" y2="431.9" stroke-width="1.6"/>
<line x1="557.83" y1="20.9" x2="557.83" y2="25.9" stroke-width="1.6"/>
<line x1="581.24" y1="436.9" x2="581.24" y2="431.9" stroke-width="1.6"/>
<line x1="581.24" y1="20.9" x2="581.24" y2="25.9" stroke-width="1.6"/>
<line x1="78.9" y1="436.91" x2="87.7" y2="436.91" stroke-width="2.2"/>
<line x1="581.3" y1="436.91" x2="572.5" y2="436.91" stroke-width="2.2"/>
<line x1="78.9" y1="395.17" x2="83.9" y2="395.17" stroke-width="1.6"/>
<line x1="581.3" y1="395.17" x2="576.3" y2="395.17" stroke-width="1.6"/>
<line x1="78.9" y1="370.75" x2="83.9" y2="370.75" stroke-width="1.6"/>
<line x1="581.3" y1="370.75" x2="576.3" y2="370.75" stroke-width="1.6"/>
<line x1="78.9" y1="353.42" x2="83.9" y2="353.42" stroke-width="1.6"/>
<line x1="581.3" y1="353.42" x2="576.3" y2="353.42" stroke-width="1.6"/>
<line x1="78.9" y1="339.98" x2="83.9" y2="339.98" stroke-width="1.6"/>
<line x1="581.3" y1="339.98" x2="576.3" y2="339.98" stroke-width="1.6"/>
<line x1="78.9" y1="329" x2="83.9" y2="329" stroke-width="1.6"/>
<line x1="581.3" y1="329" x2="576.3" y2="329" stroke-width="1.6"/>
<line x1="78.9" y1="319.72" x2="83.9" y2="319.72" stroke-width="1.6"/>
<line x1="581.3" y1="319.72" x2="576.3" y2="319.72" stroke-width="1.6"/>
<line x1="78.9" y1="311.68" x2="83.9" y2="311.68" stroke-width="1.6"/>
<line x1="581.3" y1="311.68" x2="576.3" y2="311.68" stroke-width="1.6"/>
<line x1="78.9" y1="304.59" x2="83.9" y2="304.59" stroke-width="1.6"/>
<line x1="581.3" y1="304.59" x2="576.3" y2="304.59" stroke-width="1.6"/>
<line x1="78.9" y1="298.24" x2="87.7" y2="298.24" stroke-width="2.2"/>
<line x1="581.3" y1="298.24" x2="572.5" y2="298.24" stroke-width="2.2"/>
<line x1="78.9" y1="256.5" x2="83.9" y2="256.5" stroke-width="1.6"/>
<line x1="581.3" y1="256.5" x2="576.3" y2="256.5" stroke-width="1.6"/>
<line x1="78.9" y1="232.08" x2="83.9" y2="232.08" stroke-width="1.6"/>
<line x1="581.3" y1="232.08" x2="576.3" y2="232.08" stroke-width="1.6"/>
<line x1="78.9" y1="214.75" x2="83.9" y2="214.75" stroke-width="1.6"/>
<line x1="581.3" y1="214.75" x2="576.3" y2="214.75" stroke-width="1.6"/>
<line x1="78.9" y1="201.31" x2="83.9" y2="201.31" stroke-width="1.6"/>
<line x1="581.3" y1="201.31" x2="576.3" y2="201.31" stroke-width="1.6"/>
<line x1="78.9" y1="190.33" x2="83.9" y2="190.33" stroke-width="1.6"/>
<line x1="581.3" y1="190.33" x2="576.3" y2="190.33" stroke-width="1.6"/>
<line x1="78.9" y1="181.05" x2="83.9" y2="181.05" stroke-width="1.6"/>
<line x1="581.3" y1="181.05" x2="576.3" y2="181.05" stroke-width="1.6"/>
<line x1="78.9" y1="173.01" x2="83.9" y2="173.01" stroke-width="1.6"/>
<line x1="581.3" y1="173.01" x2="576.3" y2="173.01" stroke-width="1.6"/>
<line x1="78.9" y1="165.92" x2="83.9" y2="165.92" stroke-width="1.6"/>
<line x1="581.3" y1="165.92" x2="576.3" y2="165.92" stroke-width="1.6"/>
<line x1="78.9" y1="159.57" x2="87.7" y2="159.57" stroke-width="2.2"/>
<line x1="581.3" y1="159.57" x2="572.5" y2="159.57" stroke-width="2.2"/>
<line x1="78.9" y1="117.83" x2="83.9" y2="117.83" stroke-width="1.6"/>
<line x1="581.3" y1="117.83" x2="576.3" y2="117.83" stroke-width="1.6"/>
<line x1="78.9" y1="93.41" x2="83.9" y2="93.41" stroke-width="1.6"/>
<line x1="581.3" y1="93.41" x2="576.3" y2="93.41" stroke-width="1.6"/>
<line x1="78.9" y1="76.08" x2="83.9" y2="76.08" stroke-width="1.6"/>
<line x1="581.3" y1="76.08" x2="576.3" y2="76.08" stroke-width="1.6"/>
<line x1="78.9" y1="62.64" x2="83.9" y2="62.64" stroke-width="1.6"/>
<line x1="581.3" y1="62.64" x2="576.3" y2="62.64" stroke-width="1.6"/>
<line x1="78.9" y1="51.66" x2="83.9" y2="51.66" stroke-width="1.6"/>
<line x1="581.3" y1="51.66" x2="576.3" y2="51.66" stroke-width="1.6"/>
<line x1="78.9" y1="42.38" x2="83.9" y2="42.38" stroke-width="1.6"/>
<line x1="581.3" y1="42.38" x2="576.3" y2="42.38" stroke-width="1.6"/>
<line x1="78.9" y1="34.34" x2="83.9" y2="34.34" stroke-width="1.6"/>
<line x1="581.3" y1="34.34" x2="576.3" y2="34.34" stroke-width="1.6"/>
<line x1="78.9" y1="27.25" x2="83.9" y2="27.25" stroke-width="1.6"/>
<line x1="581.3" y1="27.25" x2="576.3" y2="27.25" stroke-width="1.6"/>
<line x1="78.9" y1="20.9" x2="87.7" y2="20.9" stroke-width="2.2"/>
<line x1="581.3" y1="20.9" x2="572.5" y2="20.9" stroke-width="2.2"/>
</g>
<g transform="translate(104.29,459.9) scale(1,1.08)"><text x="0" y="0" font-family='"Liberation Serif", serif' font-size="22.0">10<tspan font-size="16.3" dx="0.6" dy="-8.24">2</tspan></text></g>
<g transform="translate(237.25,459.9) scale(1,1.08)"><text x="0" y="0" font-family='"Liberation Serif", serif' font-size="22.0">10<tspan font-size="16.3" dx="0.6" dy="-8.24">3</tspan></text></g>
<g transform="translate(370.21,459.9) scale(1,1.08)"><text x="0" y="0" font-family='"Liberation Serif", serif' font-size="22.0">10<tspan font-size="16.3" dx="0.6" dy="-8.24">4</tspan></text></g>
<g transform="translate(503.17,459.9) scale(1,1.08)"><text x="0" y="0" font-family='"Liberation Serif", serif' font-size="22.0">10<tspan font-size="16.3" dx="0.6" dy="-8.24">5</tspan></text></g>
<g transform="translate(0,444.81) scale(1,1.08)">
<text x="50.54" y="0" text-anchor="end" font-family='"Liberation Serif", serif' font-size="22.0">10</text>
<text x="71.1" y="-7.59" text-anchor="end" font-family='"Liberation Serif", serif' font-size="16.3">5</text>
<rect x="51.6" y="-12.13" width="9.6" height="1.06" fill="#000"/>
</g>
<g transform="translate(0,306.14) scale(1,1.08)">
<text x="50.54" y="0" text-anchor="end" font-family='"Liberation Serif", serif' font-size="22.0">10</text>
<text x="71.1" y="-7.59" text-anchor="end" font-family='"Liberation Serif", serif' font-size="16.3">4</text>
<rect x="51.6" y="-12.13" width="9.6" height="1.06" fill="#000"/>
</g>
<g transform="translate(0,167.47) scale(1,1.08)">
<text x="50.54" y="0" text-anchor="end" font-family='"Liberation Serif", serif' font-size="22.0">10</text>
<text x="71.1" y="-7.59" text-anchor="end" font-family='"Liberation Serif", serif' font-size="16.3">3</text>
<rect x="51.6" y="-12.13" width="9.6" height="1.06" fill="#000"/>
</g>
<g transform="translate(0,28.8) scale(1,1.08)">
<text x="50.54" y="0" text-anchor="end" font-family='"Liberation Serif", serif' font-size="22.0">10</text>
<text x="71.1" y="-7.59" text-anchor="end" font-family='"Liberation Serif", serif' font-size="16.3">2</text>
<rect x="51.6" y="-12.13" width="9.6" height="1.06" fill="#000"/>
</g>
<g font-family='"Liberation Serif", serif' font-size="22.4" fill="#000">
<text x="330.1" y="16" text-anchor="middle">MJD 57188.65603 – 57195.65603</text>
<text x="330.1" y="482.2" text-anchor="middle">Energy (MeV)</text>
<g transform="translate(19.55,351.55) rotate(-90)">
<text x="0" y="0" font-size="22.4">E</text>
<text x="13.9" y="-7.4" font-size="16">2</text>
<text x="27.39" y="0" font-size="22.4">dN/dE</text>
<text x="90.61" y="0" font-size="22.4">(MeV</text>
<text x="150.75" y="0" font-size="22.4">cm</text>
<text x="191.8" y="-7.4" font-size="16">2</text>
<text x="206.18" y="0" font-size="22.4">s</text>
<text x="228.09" y="-7.4" font-size="16">1</text>
<text x="236.21" y="0" font-size="22.4">)</text>
<rect x="180.8" y="-12.42" width="8.9" height="1.15" fill="#000"/>
<rect x="216.7" y="-12.42" width="9" height="1.15" fill="#000"/>
</g>
</g>
<rect x="408.3" y="34.2" width="30.6" height="11.4" fill="#ccccff" stroke="#b8b8f5" stroke-width="0.8"/>
<rect x="408.3" y="55.2" width="30.6" height="11.4" fill="#ffccff" stroke="#f5b8f5" stroke-width="0.8"/>
<rect x="508" y="34.2" width="30.6" height="11.4" fill="#cce6cc" stroke="#bcdcbc" stroke-width="0.8"/>
<g font-family='"Liberation Serif", serif' font-size="15.6" fill="#000">
<text x="450.45" y="45">BPL</text>
<text x="450.45" y="66.4">LP</text>
<text x="550.25" y="45">PL</text>
</g>
<clipPath id="c1"><rect x="671.3" y="20.9" width="502.4" height="416"/></clipPath>
<g clip-path="url(#c1)">
<polygon points="711.32,141.1 713.26,141.11 715.19,141.11 717.13,141.12 719.06,141.12 721,141.13 722.93,141.13 724.87,141.14 726.8,141.15 728.74,141.15 730.67,141.16 732.61,141.16 734.54,141.17 736.48,141.17 738.41,141.18 740.34,141.18 742.28,141.19 744.21,141.2 746.15,141.2 748.08,141.21 750.02,141.21 751.95,141.22 753.89,141.22 755.82,141.23 757.76,141.24 759.69,141.24 761.63,141.25 763.56,141.25 765.49,141.26 767.43,141.26 769.36,141.27 771.3,141.28 773.23,141.28 775.17,141.29 777.1,141.29 779.04,141.3 780.97,141.3 782.91,141.31 784.84,141.32 786.78,141.32 788.71,141.33 790.64,141.33 792.58,141.34 794.51,141.34 796.45,141.35 798.38,141.36 800.32,141.36 802.25,141.37 804.19,141.37 806.12,141.38 808.06,141.38 809.99,141.39 811.93,141.4 813.86,141.4 815.79,141.41 817.73,141.41 819.66,141.42 821.6,141.42 823.53,141.43 825.47,141.44 827.4,141.44 829.34,141.45 831.27,141.46 833.21,141.47 835.14,141.48 837.08,141.5 839.01,141.54 840.94,141.61 842.88,141.74 844.81,141.98 846.75,142.37 847.6,142.6 848.68,142.95 850.62,143.73 852.55,144.65 854.49,145.67 856.42,146.75 858.36,147.86 860.29,148.99 862.23,150.12 864.16,151.25 866.09,152.39 868.03,153.53 869.96,154.67 871.9,155.8 873.83,156.94 875.77,158.08 877.7,159.22 879.64,160.36 881.57,161.5 883.51,162.64 885.44,163.78 887.38,164.91 889.31,166.05 891.24,167.19 893.18,168.33 895.11,169.47 897.05,170.61 898.98,171.75 900.92,172.86 902.85,173.95 904.79,175.04 906.72,176.13 908.66,177.22 910.59,178.31 912.53,179.39 914.46,180.48 916.4,181.57 918.33,182.66 920.26,183.75 922.2,184.84 924.13,185.92 926.07,187.01 928,188.1 929.94,189.19 931.87,190.28 933.81,191.37 935.74,192.46 937.68,193.54 939.61,194.63 941.55,195.7 943.48,196.77 945.41,197.83 947.35,198.9 949.28,199.97 951.22,201.03 953.15,202.1 955.09,203.16 957.02,204.23 958.96,205.3 960.89,206.36 962.83,207.43 964.76,208.49 966.7,209.56 968.63,210.63 970.56,211.69 972.5,212.76 974.43,213.82 976.37,214.89 978.3,215.95 980.24,217.02 982.17,218.09 984.11,219.15 986.04,220.22 987.98,221.28 989.91,222.35 991.85,223.42 993.78,224.48 995.71,225.55 997.65,226.61 999.58,227.68 1001.52,228.75 1003.45,229.81 1005.39,230.88 1007.32,231.94 1009.26,233.01 1011.19,234.07 1013.13,235.14 1015.06,236.21 1017,237.27 1018.93,238.34 1020.86,239.4 1022.8,240.47 1024.73,241.54 1026.67,242.6 1028.6,243.67 1030.54,244.73 1032.47,245.8 1034.41,246.87 1036.34,247.93 1038.28,249 1040.21,250.06 1042.15,251.13 1044.08,252.19 1046.01,253.26 1047.95,254.33 1049.88,255.39 1051.82,256.46 1053.75,257.52 1055.69,258.59 1057.62,259.66 1059.56,260.72 1061.49,261.78 1063.43,262.83 1065.36,263.89 1067.3,264.94 1069.23,266 1071.16,267.05 1073.1,268.11 1075.03,269.16 1076.97,270.22 1078.9,271.27 1080.84,272.33 1082.77,273.38 1084.71,274.43 1086.64,275.49 1088.58,276.54 1090.51,277.6 1092.45,278.65 1094.38,279.71 1096.32,280.76 1098.25,281.82 1100.18,282.87 1102.12,283.9 1104.05,284.93 1105.99,285.96 1107.92,286.99 1109.86,288.02 1111.79,289.05 1113.73,290.08 1115.66,291.11 1117.6,292.14 1119.53,293.17 1121.47,294.2 1123.4,295.23 1125.33,296.26 1127.27,297.29 1129.2,298.32 1131.14,299.35 1133.07,300.38 1135.01,301.4 1136.94,302.43 1138.88,303.46 1140.81,304.49 1142.75,305.52 1144.68,306.55 1146.62,307.58 1148.55,308.61 1150.48,309.64 1152.42,310.67 1154.35,311.7 1156.29,312.73 1158.22,313.76 1160.16,314.79 1162.09,315.82 1164.03,316.85 1165.96,317.88 1167.9,318.91 1169.83,319.94 1171.77,320.97 1173.7,322 1173.7,358 1171.77,356.71 1169.83,355.42 1167.9,354.12 1165.96,352.83 1164.03,351.54 1162.09,350.25 1160.16,348.95 1158.22,347.66 1156.29,346.37 1154.35,345.08 1152.42,343.79 1150.48,342.49 1148.55,341.2 1146.62,339.91 1144.68,338.62 1142.75,337.32 1140.81,336.03 1138.88,334.74 1136.94,333.45 1135.01,332.15 1133.07,330.86 1131.14,329.57 1129.2,328.28 1127.27,326.99 1125.33,325.69 1123.4,324.4 1121.47,323.11 1119.53,321.82 1117.6,320.52 1115.66,319.23 1113.73,317.94 1111.79,316.65 1109.86,315.36 1107.92,314.06 1105.99,312.77 1104.05,311.48 1102.12,310.19 1100.18,308.89 1098.25,307.62 1096.32,306.36 1094.38,305.09 1092.45,303.82 1090.51,302.55 1088.58,301.29 1086.64,300.02 1084.71,298.75 1082.77,297.48 1080.84,296.22 1078.9,294.95 1076.97,293.68 1075.03,292.42 1073.1,291.15 1071.16,289.88 1069.23,288.61 1067.3,287.35 1065.36,286.08 1063.43,284.81 1061.49,283.54 1059.56,282.28 1057.62,281.02 1055.69,279.77 1053.75,278.51 1051.82,277.25 1049.88,276 1047.95,274.74 1046.01,273.49 1044.08,272.23 1042.15,270.97 1040.21,269.72 1038.28,268.46 1036.34,267.2 1034.41,265.95 1032.47,264.69 1030.54,263.44 1028.6,262.18 1026.67,260.92 1024.73,259.67 1022.8,258.41 1020.86,257.16 1018.93,255.9 1017,254.64 1015.06,253.39 1013.13,252.13 1011.19,250.88 1009.26,249.62 1007.32,248.36 1005.39,247.11 1003.45,245.85 1001.52,244.59 999.58,243.34 997.65,242.08 995.71,240.83 993.78,239.57 991.85,238.31 989.91,237.06 987.98,235.8 986.04,234.55 984.11,233.29 982.17,232.03 980.24,230.78 978.3,229.52 976.37,228.26 974.43,227.01 972.5,225.75 970.56,224.5 968.63,223.24 966.7,221.98 964.76,220.73 962.83,219.47 960.89,218.22 958.96,216.96 957.02,215.7 955.09,214.45 953.15,213.19 951.22,211.94 949.28,210.68 947.35,209.42 945.41,208.17 943.48,206.91 941.55,205.65 939.61,204.4 937.68,203.17 935.74,201.94 933.81,200.7 931.87,199.47 929.94,198.24 928,197 926.07,195.77 924.13,194.53 922.2,193.3 920.26,192.07 918.33,190.83 916.4,189.6 914.46,188.37 912.53,187.13 910.59,185.9 908.66,184.67 906.72,183.43 904.79,182.2 902.85,180.97 900.92,179.73 898.98,178.52 897.05,177.34 895.11,176.16 893.18,174.98 891.24,173.79 889.31,172.61 887.38,171.43 885.44,170.24 883.51,169.06 881.57,167.88 879.64,166.69 877.7,165.51 875.77,164.33 873.83,163.14 871.9,161.96 869.96,160.78 868.03,159.59 866.09,158.41 864.16,157.23 862.23,156.05 860.29,154.88 858.36,153.71 856.42,152.55 854.49,151.43 852.55,150.36 850.62,149.39 848.68,148.58 847.6,148.2 846.75,147.95 844.81,147.52 842.88,147.25 840.94,147.08 839.01,146.98 837.08,146.9 835.14,146.84 833.21,146.79 831.27,146.74 829.34,146.7 827.4,146.66 825.47,146.61 823.53,146.57 821.6,146.53 819.66,146.49 817.73,146.44 815.79,146.4 813.86,146.36 811.93,146.31 809.99,146.27 808.06,146.23 806.12,146.19 804.19,146.14 802.25,146.1 800.32,146.06 798.38,146.02 796.45,145.97 794.51,145.93 792.58,145.89 790.64,145.85 788.71,145.8 786.78,145.76 784.84,145.72 782.91,145.68 780.97,145.63 779.04,145.59 777.1,145.55 775.17,145.51 773.23,145.46 771.3,145.42 769.36,145.38 767.43,145.34 765.49,145.29 763.56,145.25 761.63,145.21 759.69,145.16 757.76,145.12 755.82,145.08 753.89,145.04 751.95,144.99 750.02,144.95 748.08,144.91 746.15,144.87 744.21,144.82 742.28,144.78 740.34,144.74 738.41,144.7 736.48,144.65 734.54,144.61 732.61,144.57 730.67,144.53 728.74,144.48 726.8,144.44 724.87,144.4 722.93,144.36 721,144.31 719.06,144.27 717.13,144.23 715.19,144.19 713.26,144.14 711.32,144.1" fill="#ccccff"/>
<polygon points="711.32,131.4 719.16,132.83 727,134.26 734.84,135.69 742.67,137.11 750.51,138.53 758.35,139.94 766.18,141.34 774.02,142.74 781.86,144.13 789.69,145.52 797.53,146.89 805.37,148.26 813.2,149.63 821.04,150.98 828.88,152.33 836.71,153.68 844.55,155.02 852.39,156.35 860.23,157.68 868.06,159 875.9,160.32 883.74,161.63 891.57,162.94 899.41,164.25 907.25,165.55 915.08,166.85 922.92,168.15 930.76,169.45 938.59,170.74 946.43,172.03 954.27,173.32 962.1,174.61 969.94,175.9 977.78,177.18 985.62,178.47 993.45,179.75 1001.29,181.03 1009.13,182.32 1016.96,183.6 1024.8,184.88 1032.64,186.16 1040.47,187.43 1048.31,188.71 1056.15,189.99 1063.98,191.27 1071.82,192.54 1079.66,193.82 1087.49,195.09 1095.33,196.37 1103.17,197.64 1111.01,198.92 1118.84,200.19 1126.68,201.46 1134.52,202.74 1142.35,204.01 1150.19,205.28 1158.03,206.56 1165.86,207.83 1173.7,209.1 1173.7,219.1 1165.86,217.64 1158.03,216.17 1150.19,214.71 1142.35,213.25 1134.52,211.78 1126.68,210.32 1118.84,208.86 1111.01,207.4 1103.17,205.94 1095.33,204.48 1087.49,203.02 1079.66,201.56 1071.82,200.1 1063.98,198.64 1056.15,197.18 1048.31,195.72 1040.47,194.26 1032.64,192.8 1024.8,191.35 1016.96,189.89 1009.13,188.44 1001.29,186.98 993.45,185.53 985.62,184.08 977.78,182.63 969.94,181.18 962.1,179.73 954.27,178.28 946.43,176.83 938.59,175.39 930.76,173.95 922.92,172.51 915.08,171.07 907.25,169.64 899.41,168.2 891.57,166.78 883.74,165.35 875.9,163.93 868.06,162.51 860.23,161.1 852.39,159.69 844.55,158.29 836.71,156.89 828.88,155.5 821.04,154.11 813.2,152.74 805.37,151.36 797.53,150 789.69,148.64 781.86,147.29 774.02,145.94 766.18,144.61 758.35,143.28 750.51,141.95 742.67,140.63 734.84,139.32 727,138.01 719.16,136.7 711.32,135.4" fill="#cce6cc"/>
<polygon points="711.32,120.84 712.87,121.51 714.42,122.2 715.96,122.9 717.51,123.62 719.06,124.35 720.6,125.1 722.15,125.87 723.7,126.65 725.24,127.45 726.79,128.27 728.34,129.11 729.88,129.96 731.43,130.83 732.97,131.71 734.52,132.61 736.07,133.53 737.61,134.46 739.16,135.41 740.71,136.38 742.25,137.36 743.8,138.36 745.35,139.38 746.89,140.42 748.44,141.47 749.99,142.53 751.53,143.62 753.08,144.72 754.62,145.84 756.17,146.97 757.72,148.12 759.26,149.29 760.81,150.47 762.36,151.67 763.9,152.89 765.45,154.12 767,155.37 768.54,156.64 770.09,157.92 771.63,159.22 773.18,160.54 774.73,161.87 776.27,163.22 777.82,164.59 779.37,165.97 780.91,167.37 782.46,168.79 784.01,170.22 785.55,171.67 787.1,173.14 788.65,174.62 790.19,176.12 791.74,177.64 793.28,179.17 794.83,180.72 796.38,182.29 797.92,183.87 799.47,185.47 801.02,187.09 802.56,188.72 804.11,190.37 805.66,192.04 807.2,193.72 808.75,195.42 810.29,197.14 811.84,198.87 813.39,200.62 814.93,202.39 816.48,204.17 818.03,205.97 819.57,207.78 821.12,209.62 822.67,211.47 824.21,213.33 825.76,215.22 827.31,217.11 828.85,219.03 830.4,220.96 831.94,222.91 833.49,224.88 835.04,226.86 836.58,228.86 838.13,230.88 839.68,232.91 841.22,234.96 842.77,237.02 844.32,239.11 845.86,241.2 847.41,243.32 848.95,245.45 850.5,247.6 852.05,249.77 853.59,251.95 855.14,254.15 856.69,256.36 858.23,258.6 859.78,260.84 861.33,263.11 862.87,265.39 864.42,267.69 865.97,270.01 867.51,272.34 869.06,274.69 870.6,277.05 872.15,279.43 873.7,281.83 875.24,284.25 876.79,286.68 878.34,289.13 879.88,291.59 881.43,294.08 882.98,296.57 884.52,299.09 886.07,301.62 887.62,304.17 889.16,306.73 890.71,309.32 892.25,311.91 893.8,314.53 895.35,317.16 896.89,319.81 898.44,322.47 899.99,325.15 901.53,327.85 903.08,330.57 904.63,333.3 906.17,336.05 907.72,338.81 909.26,341.59 910.81,344.39 912.36,347.21 913.9,350.04 915.45,352.88 917,355.75 918.54,358.63 920.09,361.53 921.64,364.44 923.18,367.37 924.73,370.32 926.28,373.29 927.82,376.27 929.37,379.26 930.91,382.28 932.46,385.31 934.01,388.36 935.55,391.42 937.1,394.5 938.65,397.6 940.19,400.71 941.74,403.84 943.29,406.99 944.83,410.16 946.38,413.34 947.92,416.53 949.47,419.75 951.02,422.98 952.56,426.23 954.11,429.49 955.66,432.77 957.2,436.07 958.75,439.38 960.3,442.71 961.84,446.06 963.39,449.42 964.94,452.8 966.48,456.2 968.03,459.61 969.57,463.04 971.12,466.49 972.67,469.96 974.21,473.44 975.76,476.93 977.31,480.45 978.85,483.98 980.4,487.52 981.95,491.09 983.49,494.67 985.04,498.26 986.59,501.88 988.13,505.51 989.68,509.15 991.22,512.82 992.77,516.5 994.32,520.19 995.86,523.91 997.41,527.64 998.96,531.38 1000.5,535.15 1002.05,538.93 1003.6,542.72 1005.14,546.54 1006.69,550.37 1008.23,554.21 1009.78,558.07 1011.33,561.95 1012.87,565.85 1014.42,569.76 1015.97,573.69 1017.51,577.64 1019.06,581.6 1020.61,585.58 1022.15,589.58 1023.7,593.59 1025.25,597.62 1026.79,601.67 1028.34,605.73 1029.88,609.81 1031.43,613.9 1032.98,618.02 1034.52,622.15 1036.07,626.29 1037.62,630.45 1039.16,634.63 1040.71,638.83 1042.26,643.04 1043.8,647.27 1045.35,651.52 1046.89,655.78 1048.44,660.06 1049.99,664.35 1051.53,668.67 1053.08,672.99 1054.63,677.34 1056.17,681.7 1057.72,686.08 1059.27,690.48 1060.81,694.89 1062.36,699.32 1063.91,703.76 1065.45,708.23 1067,712.7 1068.54,717.2 1070.09,721.71 1071.64,726.24 1073.18,730.79 1074.73,735.35 1076.28,739.93 1077.82,744.52 1079.37,749.13 1080.92,753.76 1082.46,758.41 1084.01,763.07 1085.55,767.75 1087.1,772.44 1088.65,777.15 1090.19,781.88 1091.74,786.63 1093.29,791.39 1094.83,796.17 1096.38,800.96 1097.93,805.77 1099.47,810.6 1101.02,815.45 1102.57,820.31 1104.11,825.19 1105.66,830.08 1107.2,834.99 1108.75,839.92 1110.3,844.87 1111.84,849.83 1113.39,854.8 1114.94,859.8 1116.48,864.81 1118.03,869.84 1119.58,874.88 1121.12,879.94 1122.67,885.02 1124.22,890.12 1125.76,895.23 1127.31,900.36 1128.85,905.5 1130.4,910.66 1131.95,915.84 1133.49,921.03 1135.04,926.24 1136.59,931.47 1138.13,936.72 1139.68,941.98 1141.23,947.25 1142.77,952.55 1144.32,957.86 1145.86,963.19 1147.41,968.53 1148.96,973.89 1150.5,979.27 1152.05,984.66 1153.6,990.07 1155.14,995.5 1156.69,1000.94 1158.24,1006.4 1159.78,1011.88 1161.33,1017.38 1162.88,1022.89 1164.42,1028.41 1165.97,1033.96 1167.51,1039.52 1169.06,1045.09 1170.61,1050.69 1172.15,1056.3 1173.7,1061.93 1173.7,1064.93 1172.15,1059.3 1170.61,1053.68 1169.06,1048.08 1167.51,1042.5 1165.97,1036.94 1164.42,1031.39 1162.88,1025.86 1161.33,1020.35 1159.78,1014.85 1158.24,1009.37 1156.69,1003.91 1155.14,998.46 1153.6,993.03 1152.05,987.62 1150.5,982.22 1148.96,976.84 1147.41,971.47 1145.86,966.13 1144.32,960.8 1142.77,955.48 1141.23,950.18 1139.68,944.9 1138.13,939.64 1136.59,934.39 1135.04,929.16 1133.49,923.95 1131.95,918.75 1130.4,913.57 1128.85,908.4 1127.31,903.25 1125.76,898.12 1124.22,893.01 1122.67,887.91 1121.12,882.83 1119.58,877.77 1118.03,872.72 1116.48,867.69 1114.94,862.67 1113.39,857.67 1111.84,852.69 1110.3,847.73 1108.75,842.78 1107.2,837.85 1105.66,832.93 1104.11,828.04 1102.57,823.15 1101.02,818.29 1099.47,813.44 1097.93,808.61 1096.38,803.79 1094.83,799 1093.29,794.22 1091.74,789.45 1090.19,784.7 1088.65,779.97 1087.1,775.26 1085.55,770.56 1084.01,765.87 1082.46,761.21 1080.92,756.56 1079.37,751.93 1077.82,747.31 1076.28,742.72 1074.73,738.13 1073.18,733.57 1071.64,729.02 1070.09,724.49 1068.54,719.97 1067,715.47 1065.45,710.99 1063.91,706.53 1062.36,702.08 1060.81,697.65 1059.27,693.23 1057.72,688.83 1056.17,684.45 1054.63,680.08 1053.08,675.73 1051.53,671.4 1049.99,667.09 1048.44,662.79 1046.89,658.5 1045.35,654.24 1043.8,649.99 1042.26,645.76 1040.71,641.54 1039.16,637.34 1037.62,633.16 1036.07,628.99 1034.52,624.84 1032.98,620.71 1031.43,616.6 1029.88,612.5 1028.34,608.41 1026.79,604.35 1025.25,600.3 1023.7,596.27 1022.15,592.25 1020.61,588.25 1019.06,584.27 1017.51,580.3 1015.97,576.35 1014.42,572.42 1012.87,568.5 1011.33,564.6 1009.78,560.72 1008.23,556.85 1006.69,553 1005.14,549.17 1003.6,545.35 1002.05,541.55 1000.5,537.77 998.96,534 997.41,530.26 995.86,526.52 994.32,522.81 992.77,519.11 991.22,515.42 989.68,511.76 988.13,508.11 986.59,504.47 985.04,500.86 983.49,497.26 981.95,493.67 980.4,490.1 978.85,486.55 977.31,483.02 975.76,479.5 974.21,476 972.67,472.52 971.12,469.05 969.57,465.6 968.03,462.17 966.48,458.75 964.94,455.35 963.39,451.97 961.84,448.6 960.3,445.25 958.75,441.92 957.2,438.6 955.66,435.3 954.11,432.02 952.56,428.75 951.02,425.5 949.47,422.26 947.92,419.05 946.38,415.85 944.83,412.66 943.29,409.49 941.74,406.34 940.19,403.21 938.65,400.09 937.1,396.99 935.55,393.91 934.01,390.84 932.46,387.79 930.91,384.75 929.37,381.74 927.82,378.74 926.28,375.75 924.73,372.78 923.18,369.83 921.64,366.9 920.09,363.98 918.54,361.08 917,358.19 915.45,355.33 913.9,352.48 912.36,349.64 910.81,346.82 909.26,344.02 907.72,341.24 906.17,338.47 904.63,335.72 903.08,332.98 901.53,330.26 899.99,327.56 898.44,324.88 896.89,322.21 895.35,319.56 893.8,316.92 892.25,314.31 890.71,311.7 889.16,309.12 887.62,306.55 886.07,304 884.52,301.46 882.98,298.95 881.43,296.44 879.88,293.96 878.34,291.49 876.79,289.04 875.24,286.6 873.7,284.18 872.15,281.78 870.6,279.4 869.06,277.03 867.51,274.68 865.97,272.34 864.42,270.02 862.87,267.72 861.33,265.43 859.78,263.17 858.23,260.91 856.69,258.68 855.14,256.46 853.59,254.26 852.05,252.07 850.5,249.9 848.95,247.75 847.41,245.61 845.86,243.5 844.32,241.39 842.77,239.31 841.22,237.24 839.68,235.19 838.13,233.15 836.58,231.13 835.04,229.13 833.49,227.14 831.94,225.17 830.4,223.22 828.85,221.29 827.31,219.37 825.76,217.46 824.21,215.58 822.67,213.71 821.12,211.85 819.57,210.02 818.03,208.2 816.48,206.4 814.93,204.61 813.39,202.84 811.84,201.09 810.29,199.35 808.75,197.63 807.2,195.93 805.66,194.24 804.11,192.57 802.56,190.92 801.02,189.28 799.47,187.66 797.92,186.06 796.38,184.47 794.83,182.9 793.28,181.35 791.74,179.81 790.19,178.29 788.65,176.79 787.1,175.3 785.55,173.83 784.01,172.38 782.46,170.94 780.91,169.52 779.37,168.12 777.82,166.73 776.27,165.36 774.73,164.01 773.18,162.67 771.63,161.35 770.09,160.05 768.54,158.76 767,157.49 765.45,156.24 763.9,155 762.36,153.78 760.81,152.58 759.26,151.39 757.72,150.22 756.17,149.07 754.62,147.93 753.08,146.81 751.53,145.7 749.99,144.62 748.44,143.55 746.89,142.49 745.35,141.46 743.8,140.44 742.25,139.43 740.71,138.44 739.16,137.47 737.61,136.52 736.07,135.58 734.52,134.66 732.97,133.76 731.43,132.87 729.88,132 728.34,131.14 726.79,130.31 725.24,129.48 723.7,128.68 722.15,127.89 720.6,127.12 719.06,126.37 717.51,125.63 715.96,124.91 714.42,124.2 712.87,123.52 711.32,122.84" fill="#ffccff"/>
<line x1="711.32" y1="143.6" x2="768.31" y2="143.6" stroke="#ff0000" stroke-width="2.2"/>
<line x1="768.31" y1="141.5" x2="825.29" y2="141.5" stroke="#ff0000" stroke-width="2.2"/>
<line x1="825.29" y1="150.6" x2="882.27" y2="150.6" stroke="#ff0000" stroke-width="2.2"/>
<line x1="882.27" y1="183.4" x2="939.26" y2="183.4" stroke="#ff0000" stroke-width="2.2"/>
<line x1="939.26" y1="215.5" x2="996.24" y2="215.5" stroke="#ff0000" stroke-width="2.2"/>
<line x1="967.75" y1="207" x2="967.75" y2="225.5" stroke="#ff0000" stroke-width="2.2"/>
<line x1="996.24" y1="301.8" x2="1053.22" y2="301.8" stroke="#ff0000" stroke-width="2.2"/>
<line x1="1024.73" y1="279.6" x2="1024.73" y2="338.8" stroke="#ff0000" stroke-width="2.2"/>
<line x1="1053.22" y1="276.7" x2="1173.64" y2="276.7" stroke="#ff0000" stroke-width="2.2"/>
<line x1="1113.43" y1="253.4" x2="1113.43" y2="315.5" stroke="#ff0000" stroke-width="2.2"/>
<path d="M711.32,142.6 L713.26,142.62 L715.19,142.65 L717.13,142.67 L719.06,142.7 L721,142.72 L722.93,142.74 L724.87,142.77 L726.8,142.79 L728.74,142.82 L730.67,142.84 L732.61,142.87 L734.54,142.89 L736.48,142.91 L738.41,142.94 L740.34,142.96 L742.28,142.99 L744.21,143.01 L746.15,143.03 L748.08,143.06 L750.02,143.08 L751.95,143.11 L753.89,143.13 L755.82,143.16 L757.76,143.18 L759.69,143.2 L761.63,143.23 L763.56,143.25 L765.49,143.28 L767.43,143.3 L769.36,143.32 L771.3,143.35 L773.23,143.37 L775.17,143.4 L777.1,143.42 L779.04,143.44 L780.97,143.47 L782.91,143.49 L784.84,143.52 L786.78,143.54 L788.71,143.57 L790.64,143.59 L792.58,143.61 L794.51,143.64 L796.45,143.66 L798.38,143.69 L800.32,143.71 L802.25,143.73 L804.19,143.76 L806.12,143.78 L808.06,143.81 L809.99,143.83 L811.93,143.85 L813.86,143.88 L815.79,143.9 L817.73,143.93 L819.66,143.95 L821.6,143.98 L823.53,144 L825.47,144.02 L827.4,144.05 L829.34,144.07 L831.27,144.1 L833.21,144.13 L835.14,144.16 L837.08,144.2 L839.01,144.26 L840.94,144.35 L842.88,144.5 L844.81,144.75 L846.75,145.16 L847.6,145.4 L848.68,145.76 L850.62,146.56 L852.55,147.51 L854.49,148.55 L856.42,149.65 L858.36,150.78 L860.29,151.93 L862.23,153.08 L864.16,154.24 L866.09,155.4 L868.03,156.56 L869.96,157.72 L871.9,158.88 L873.83,160.04 L875.77,161.2 L877.7,162.37 L879.64,163.53 L881.57,164.69 L883.51,165.85 L885.44,167.01 L887.38,168.17 L889.31,169.33 L891.24,170.49 L893.18,171.65 L895.11,172.81 L897.05,173.98 L898.98,175.14 L900.92,176.3 L902.85,177.46 L904.79,178.62 L906.72,179.78 L908.66,180.94 L910.59,182.1 L912.53,183.26 L914.46,184.42 L916.4,185.59 L918.33,186.75 L920.26,187.91 L922.2,189.07 L924.13,190.23 L926.07,191.39 L928,192.55 L929.94,193.71 L931.87,194.87 L933.81,196.03 L935.74,197.2 L937.68,198.36 L939.61,199.52 L941.55,200.68 L943.48,201.84 L945.41,203 L947.35,204.16 L949.28,205.32 L951.22,206.48 L953.15,207.64 L955.09,208.81 L957.02,209.97 L958.96,211.13 L960.89,212.29 L962.83,213.45 L964.76,214.61 L966.7,215.77 L968.63,216.93 L970.56,218.09 L972.5,219.25 L974.43,220.42 L976.37,221.58 L978.3,222.74 L980.24,223.9 L982.17,225.06 L984.11,226.22 L986.04,227.38 L987.98,228.54 L989.91,229.7 L991.85,230.86 L993.78,232.03 L995.71,233.19 L997.65,234.35 L999.58,235.51 L1001.52,236.67 L1003.45,237.83 L1005.39,238.99 L1007.32,240.15 L1009.26,241.31 L1011.19,242.48 L1013.13,243.64 L1015.06,244.8 L1017,245.96 L1018.93,247.12 L1020.86,248.28 L1022.8,249.44 L1024.73,250.6 L1026.67,251.76 L1028.6,252.92 L1030.54,254.09 L1032.47,255.25 L1034.41,256.41 L1036.34,257.57 L1038.28,258.73 L1040.21,259.89 L1042.15,261.05 L1044.08,262.21 L1046.01,263.37 L1047.95,264.53 L1049.88,265.7 L1051.82,266.86 L1053.75,268.02 L1055.69,269.18 L1057.62,270.34 L1059.56,271.5 L1061.49,272.66 L1063.43,273.82 L1065.36,274.98 L1067.3,276.14 L1069.23,277.31 L1071.16,278.47 L1073.1,279.63 L1075.03,280.79 L1076.97,281.95 L1078.9,283.11 L1080.84,284.27 L1082.77,285.43 L1084.71,286.59 L1086.64,287.75 L1088.58,288.92 L1090.51,290.08 L1092.45,291.24 L1094.38,292.4 L1096.32,293.56 L1098.25,294.72 L1100.18,295.88 L1102.12,297.04 L1104.05,298.2 L1105.99,299.36 L1107.92,300.53 L1109.86,301.69 L1111.79,302.85 L1113.73,304.01 L1115.66,305.17 L1117.6,306.33 L1119.53,307.49 L1121.47,308.65 L1123.4,309.81 L1125.33,310.97 L1127.27,312.14 L1129.2,313.3 L1131.14,314.46 L1133.07,315.62 L1135.01,316.78 L1136.94,317.94 L1138.88,319.1 L1140.81,320.26 L1142.75,321.42 L1144.68,322.58 L1146.62,323.75 L1148.55,324.91 L1150.48,326.07 L1152.42,327.23 L1154.35,328.39 L1156.29,329.55 L1158.22,330.71 L1160.16,331.87 L1162.09,333.03 L1164.03,334.19 L1165.96,335.36 L1167.9,336.52 L1169.83,337.68 L1171.77,338.84 L1173.7,340" fill="none" stroke="#0000ff" stroke-width="1.1" stroke-dasharray="2.8,1.1"/>
<path d="M711.32,133.4 L1173.7,214.1" fill="none" stroke="#008000" stroke-width="1.1" stroke-dasharray="2.8,1.1"/>
<path d="M711.32,121.84 L712.87,122.51 L714.42,123.2 L715.96,123.9 L717.51,124.62 L719.06,125.36 L720.6,126.11 L722.15,126.88 L723.7,127.67 L725.24,128.47 L726.79,129.29 L728.34,130.13 L729.88,130.98 L731.43,131.85 L732.97,132.73 L734.52,133.64 L736.07,134.55 L737.61,135.49 L739.16,136.44 L740.71,137.41 L742.25,138.4 L743.8,139.4 L745.35,140.42 L746.89,141.45 L748.44,142.51 L749.99,143.58 L751.53,144.66 L753.08,145.76 L754.62,146.88 L756.17,148.02 L757.72,149.17 L759.26,150.34 L760.81,151.52 L762.36,152.73 L763.9,153.95 L765.45,155.18 L767,156.43 L768.54,157.7 L770.09,158.99 L771.63,160.29 L773.18,161.61 L774.73,162.94 L776.27,164.29 L777.82,165.66 L779.37,167.05 L780.91,168.45 L782.46,169.87 L784.01,171.3 L785.55,172.75 L787.1,174.22 L788.65,175.71 L790.19,177.21 L791.74,178.73 L793.28,180.26 L794.83,181.81 L796.38,183.38 L797.92,184.97 L799.47,186.57 L801.02,188.19 L802.56,189.82 L804.11,191.47 L805.66,193.14 L807.2,194.83 L808.75,196.53 L810.29,198.24 L811.84,199.98 L813.39,201.73 L814.93,203.5 L816.48,205.28 L818.03,207.08 L819.57,208.9 L821.12,210.74 L822.67,212.59 L824.21,214.45 L825.76,216.34 L827.31,218.24 L828.85,220.16 L830.4,222.09 L831.94,224.04 L833.49,226.01 L835.04,227.99 L836.58,230 L838.13,232.01 L839.68,234.05 L841.22,236.1 L842.77,238.17 L844.32,240.25 L845.86,242.35 L847.41,244.47 L848.95,246.6 L850.5,248.75 L852.05,250.92 L853.59,253.1 L855.14,255.3 L856.69,257.52 L858.23,259.76 L859.78,262.01 L861.33,264.27 L862.87,266.56 L864.42,268.86 L865.97,271.17 L867.51,273.51 L869.06,275.86 L870.6,278.22 L872.15,280.61 L873.7,283.01 L875.24,285.43 L876.79,287.86 L878.34,290.31 L879.88,292.78 L881.43,295.26 L882.98,297.76 L884.52,300.28 L886.07,302.81 L887.62,305.36 L889.16,307.93 L890.71,310.51 L892.25,313.11 L893.8,315.73 L895.35,318.36 L896.89,321.01 L898.44,323.68 L899.99,326.36 L901.53,329.06 L903.08,331.78 L904.63,334.51 L906.17,337.26 L907.72,340.02 L909.26,342.81 L910.81,345.61 L912.36,348.42 L913.9,351.26 L915.45,354.11 L917,356.97 L918.54,359.85 L920.09,362.75 L921.64,365.67 L923.18,368.6 L924.73,371.55 L926.28,374.52 L927.82,377.5 L929.37,380.5 L930.91,383.52 L932.46,386.55 L934.01,389.6 L935.55,392.66 L937.1,395.75 L938.65,398.85 L940.19,401.96 L941.74,405.09 L943.29,408.24 L944.83,411.41 L946.38,414.59 L947.92,417.79 L949.47,421.01 L951.02,424.24 L952.56,427.49 L954.11,430.75 L955.66,434.04 L957.2,437.33 L958.75,440.65 L960.3,443.98 L961.84,447.33 L963.39,450.7 L964.94,454.08 L966.48,457.48 L968.03,460.89 L969.57,464.32 L971.12,467.77 L972.67,471.24 L974.21,474.72 L975.76,478.22 L977.31,481.73 L978.85,485.27 L980.4,488.81 L981.95,492.38 L983.49,495.96 L985.04,499.56 L986.59,503.17 L988.13,506.81 L989.68,510.45 L991.22,514.12 L992.77,517.8 L994.32,521.5 L995.86,525.21 L997.41,528.95 L998.96,532.69 L1000.5,536.46 L1002.05,540.24 L1003.6,544.04 L1005.14,547.85 L1006.69,551.68 L1008.23,555.53 L1009.78,559.4 L1011.33,563.28 L1012.87,567.18 L1014.42,571.09 L1015.97,575.02 L1017.51,578.97 L1019.06,582.93 L1020.61,586.92 L1022.15,590.91 L1023.7,594.93 L1025.25,598.96 L1026.79,603.01 L1028.34,607.07 L1029.88,611.15 L1031.43,615.25 L1032.98,619.36 L1034.52,623.5 L1036.07,627.64 L1037.62,631.81 L1039.16,635.99 L1040.71,640.19 L1042.26,644.4 L1043.8,648.63 L1045.35,652.88 L1046.89,657.14 L1048.44,661.42 L1049.99,665.72 L1051.53,670.03 L1053.08,674.36 L1054.63,678.71 L1056.17,683.08 L1057.72,687.46 L1059.27,691.85 L1060.81,696.27 L1062.36,700.7 L1063.91,705.14 L1065.45,709.61 L1067,714.09 L1068.54,718.59 L1070.09,723.1 L1071.64,727.63 L1073.18,732.18 L1074.73,736.74 L1076.28,741.32 L1077.82,745.92 L1079.37,750.53 L1080.92,755.16 L1082.46,759.81 L1084.01,764.47 L1085.55,769.15 L1087.1,773.85 L1088.65,778.56 L1090.19,783.29 L1091.74,788.04 L1093.29,792.8 L1094.83,797.58 L1096.38,802.38 L1097.93,807.19 L1099.47,812.02 L1101.02,816.87 L1102.57,821.73 L1104.11,826.61 L1105.66,831.51 L1107.2,836.42 L1108.75,841.35 L1110.3,846.3 L1111.84,851.26 L1113.39,856.24 L1114.94,861.24 L1116.48,866.25 L1118.03,871.28 L1119.58,876.32 L1121.12,881.39 L1122.67,886.47 L1124.22,891.56 L1125.76,896.68 L1127.31,901.81 L1128.85,906.95 L1130.4,912.11 L1131.95,917.29 L1133.49,922.49 L1135.04,927.7 L1136.59,932.93 L1138.13,938.18 L1139.68,943.44 L1141.23,948.72 L1142.77,954.01 L1144.32,959.33 L1145.86,964.66 L1147.41,970 L1148.96,975.36 L1150.5,980.74 L1152.05,986.14 L1153.6,991.55 L1155.14,996.98 L1156.69,1002.43 L1158.24,1007.89 L1159.78,1013.37 L1161.33,1018.86 L1162.88,1024.37 L1164.42,1029.9 L1165.97,1035.45 L1167.51,1041.01 L1169.06,1046.59 L1170.61,1052.19 L1172.15,1057.8 L1173.7,1063.43" fill="none" stroke="#ff00ff" stroke-width="1.1" stroke-dasharray="2.8,1.1"/>
<circle cx="739.82" cy="143.6" r="3.8" fill="#ff0000" stroke="#000" stroke-width="1.1"/>
<circle cx="796.8" cy="141.5" r="3.8" fill="#ff0000" stroke="#000" stroke-width="1.1"/>
<circle cx="853.78" cy="150.6" r="3.8" fill="#ff0000" stroke="#000" stroke-width="1.1"/>
<circle cx="910.76" cy="183.4" r="3.8" fill="#ff0000" stroke="#000" stroke-width="1.1"/>
<circle cx="967.75" cy="215.5" r="3.8" fill="#ff0000" stroke="#000" stroke-width="1.1"/>
<circle cx="1024.73" cy="301.8" r="3.8" fill="#ff0000" stroke="#000" stroke-width="1.1"/>
<circle cx="1113.43" cy="276.7" r="3.8" fill="#ff0000" stroke="#000" stroke-width="1.1"/>
</g>
<rect x="671.3" y="20.9" width="502.4" height="416" fill="none" stroke="#000" stroke-width="0.55"/>
<g stroke="#000">
<line x1="671.3" y1="436.9" x2="671.3" y2="431.9" stroke-width="1.6"/>
<line x1="671.3" y1="20.9" x2="671.3" y2="25.9" stroke-width="1.6"/>
<line x1="681.83" y1="436.9" x2="681.83" y2="431.9" stroke-width="1.6"/>
<line x1="681.83" y1="20.9" x2="681.83" y2="25.9" stroke-width="1.6"/>
<line x1="690.73" y1="436.9" x2="690.73" y2="431.9" stroke-width="1.6"/>
<line x1="690.73" y1="20.9" x2="690.73" y2="25.9" stroke-width="1.6"/>
<line x1="698.44" y1="436.9" x2="698.44" y2="431.9" stroke-width="1.6"/>
<line x1="698.44" y1="20.9" x2="698.44" y2="25.9" stroke-width="1.6"/>
<line x1="705.24" y1="436.9" x2="705.24" y2="431.9" stroke-width="1.6"/>
<line x1="705.24" y1="20.9" x2="705.24" y2="25.9" stroke-width="1.6"/>
<line x1="711.32" y1="436.9" x2="711.32" y2="428.1" stroke-width="2.2"/>
<line x1="711.32" y1="20.9" x2="711.32" y2="29.7" stroke-width="2.2"/>
<line x1="751.35" y1="436.9" x2="751.35" y2="431.9" stroke-width="1.6"/>
<line x1="751.35" y1="20.9" x2="751.35" y2="25.9" stroke-width="1.6"/>
<line x1="774.76" y1="436.9" x2="774.76" y2="431.9" stroke-width="1.6"/>
<line x1="774.76" y1="20.9" x2="774.76" y2="25.9" stroke-width="1.6"/>
<line x1="791.37" y1="436.9" x2="791.37" y2="431.9" stroke-width="1.6"/>
<line x1="791.37" y1="20.9" x2="791.37" y2="25.9" stroke-width="1.6"/>
<line x1="804.26" y1="436.9" x2="804.26" y2="431.9" stroke-width="1.6"/>
<line x1="804.26" y1="20.9" x2="804.26" y2="25.9" stroke-width="1.6"/>
<line x1="814.79" y1="436.9" x2="814.79" y2="431.9" stroke-width="1.6"/>
<line x1="814.79" y1="20.9" x2="814.79" y2="25.9" stroke-width="1.6"/>
<line x1="823.69" y1="436.9" x2="823.69" y2="431.9" stroke-width="1.6"/>
<line x1="823.69" y1="20.9" x2="823.69" y2="25.9" stroke-width="1.6"/>
<line x1="831.4" y1="436.9" x2="831.4" y2="431.9" stroke-width="1.6"/>
<line x1="831.4" y1="20.9" x2="831.4" y2="25.9" stroke-width="1.6"/>
<line x1="838.2" y1="436.9" x2="838.2" y2="431.9" stroke-width="1.6"/>
<line x1="838.2" y1="20.9" x2="838.2" y2="25.9" stroke-width="1.6"/>
<line x1="844.28" y1="436.9" x2="844.28" y2="428.1" stroke-width="2.2"/>
<line x1="844.28" y1="20.9" x2="844.28" y2="29.7" stroke-width="2.2"/>
<line x1="884.31" y1="436.9" x2="884.31" y2="431.9" stroke-width="1.6"/>
<line x1="884.31" y1="20.9" x2="884.31" y2="25.9" stroke-width="1.6"/>
<line x1="907.72" y1="436.9" x2="907.72" y2="431.9" stroke-width="1.6"/>
<line x1="907.72" y1="20.9" x2="907.72" y2="25.9" stroke-width="1.6"/>
<line x1="924.33" y1="436.9" x2="924.33" y2="431.9" stroke-width="1.6"/>
<line x1="924.33" y1="20.9" x2="924.33" y2="25.9" stroke-width="1.6"/>
<line x1="937.22" y1="436.9" x2="937.22" y2="431.9" stroke-width="1.6"/>
<line x1="937.22" y1="20.9" x2="937.22" y2="25.9" stroke-width="1.6"/>
<line x1="947.75" y1="436.9" x2="947.75" y2="431.9" stroke-width="1.6"/>
<line x1="947.75" y1="20.9" x2="947.75" y2="25.9" stroke-width="1.6"/>
<line x1="956.65" y1="436.9" x2="956.65" y2="431.9" stroke-width="1.6"/>
<line x1="956.65" y1="20.9" x2="956.65" y2="25.9" stroke-width="1.6"/>
<line x1="964.36" y1="436.9" x2="964.36" y2="431.9" stroke-width="1.6"/>
<line x1="964.36" y1="20.9" x2="964.36" y2="25.9" stroke-width="1.6"/>
<line x1="971.16" y1="436.9" x2="971.16" y2="431.9" stroke-width="1.6"/>
<line x1="971.16" y1="20.9" x2="971.16" y2="25.9" stroke-width="1.6"/>
<line x1="977.24" y1="436.9" x2="977.24" y2="428.1" stroke-width="2.2"/>
<line x1="977.24" y1="20.9" x2="977.24" y2="29.7" stroke-width="2.2"/>
<line x1="1017.27" y1="436.9" x2="1017.27" y2="431.9" stroke-width="1.6"/>
<line x1="1017.27" y1="20.9" x2="1017.27" y2="25.9" stroke-width="1.6"/>
<line x1="1040.68" y1="436.9" x2="1040.68" y2="431.9" stroke-width="1.6"/>
<line x1="1040.68" y1="20.9" x2="1040.68" y2="25.9" stroke-width="1.6"/>
<line x1="1057.29" y1="436.9" x2="1057.29" y2="431.9" stroke-width="1.6"/>
<line x1="1057.29" y1="20.9" x2="1057.29" y2="25.9" stroke-width="1.6"/>
<line x1="1070.18" y1="436.9" x2="1070.18" y2="431.9" stroke-width="1.6"/>
<line x1="1070.18" y1="20.9" x2="1070.18" y2="25.9" stroke-width="1.6"/>
<line x1="1080.71" y1="436.9" x2="1080.71" y2="431.9" stroke-width="1.6"/>
<line x1="1080.71" y1="20.9" x2="1080.71" y2="25.9" stroke-width="1.6"/>
<line x1="1089.61" y1="436.9" x2="1089.61" y2="431.9" stroke-width="1.6"/>
<line x1="1089.61" y1="20.9" x2="1089.61" y2="25.9" stroke-width="1.6"/>
<line x1="1097.32" y1="436.9" x2="1097.32" y2="431.9" stroke-width="1.6"/>
<line x1="1097.32" y1="20.9" x2="1097.32" y2="25.9" stroke-width="1.6"/>
<line x1="1104.12" y1="436.9" x2="1104.12" y2="431.9" stroke-width="1.6"/>
<line x1="1104.12" y1="20.9" x2="1104.12" y2="25.9" stroke-width="1.6"/>
<line x1="1110.2" y1="436.9" x2="1110.2" y2="428.1" stroke-width="2.2"/>
<line x1="1110.2" y1="20.9" x2="1110.2" y2="29.7" stroke-width="2.2"/>
<line x1="1150.23" y1="436.9" x2="1150.23" y2="431.9" stroke-width="1.6"/>
<line x1="1150.23" y1="20.9" x2="1150.23" y2="25.9" stroke-width="1.6"/>
<line x1="1173.64" y1="436.9" x2="1173.64" y2="431.9" stroke-width="1.6"/>
<line x1="1173.64" y1="20.9" x2="1173.64" y2="25.9" stroke-width="1.6"/>
<line x1="671.3" y1="436.91" x2="680.1" y2="436.91" stroke-width="2.2"/>
<line x1="1173.7" y1="436.91" x2="1164.9" y2="436.91" stroke-width="2.2"/>
<line x1="671.3" y1="395.17" x2="676.3" y2="395.17" stroke-width="1.6"/>
<line x1="1173.7" y1="395.17" x2="1168.7" y2="395.17" stroke-width="1.6"/>
<line x1="671.3" y1="370.75" x2="676.3" y2="370.75" stroke-width="1.6"/>
<line x1="1173.7" y1="370.75" x2="1168.7" y2="370.75" stroke-width="1.6"/>
<line x1="671.3" y1="353.42" x2="676.3" y2="353.42" stroke-width="1.6"/>
<line x1="1173.7" y1="353.42" x2="1168.7" y2="353.42" stroke-width="1.6"/>
<line x1="671.3" y1="339.98" x2="676.3" y2="339.98" stroke-width="1.6"/>
<line x1="1173.7" y1="339.98" x2="1168.7" y2="339.98" stroke-width="1.6"/>
<line x1="671.3" y1="329" x2="676.3" y2="329" stroke-width="1.6"/>
<line x1="1173.7" y1="329" x2="1168.7" y2="329" stroke-width="1.6"/>
<line x1="671.3" y1="319.72" x2="676.3" y2="319.72" stroke-width="1.6"/>
<line x1="1173.7" y1="319.72" x2="1168.7" y2="319.72" stroke-width="1.6"/>
<line x1="671.3" y1="311.68" x2="676.3" y2="311.68" stroke-width="1.6"/>
<line x1="1173.7" y1="311.68" x2="1168.7" y2="311.68" stroke-width="1.6"/>
<line x1="671.3" y1="304.59" x2="676.3" y2="304.59" stroke-width="1.6"/>
<line x1="1173.7" y1="304.59" x2="1168.7" y2="304.59" stroke-width="1.6"/>
<line x1="671.3" y1="298.24" x2="680.1" y2="298.24" stroke-width="2.2"/>
<line x1="1173.7" y1="298.24" x2="1164.9" y2="298.24" stroke-width="2.2"/>
<line x1="671.3" y1="256.5" x2="676.3" y2="256.5" stroke-width="1.6"/>
<line x1="1173.7" y1="256.5" x2="1168.7" y2="256.5" stroke-width="1.6"/>
<line x1="671.3" y1="232.08" x2="676.3" y2="232.08" stroke-width="1.6"/>
<line x1="1173.7" y1="232.08" x2="1168.7" y2="232.08" stroke-width="1.6"/>
<line x1="671.3" y1="214.75" x2="676.3" y2="214.75" stroke-width="1.6"/>
<line x1="1173.7" y1="214.75" x2="1168.7" y2="214.75" stroke-width="1.6"/>
<line x1="671.3" y1="201.31" x2="676.3" y2="201.31" stroke-width="1.6"/>
<line x1="1173.7" y1="201.31" x2="1168.7" y2="201.31" stroke-width="1.6"/>
<line x1="671.3" y1="190.33" x2="676.3" y2="190.33" stroke-width="1.6"/>
<line x1="1173.7" y1="190.33" x2="1168.7" y2="190.33" stroke-width="1.6"/>
<line x1="671.3" y1="181.05" x2="676.3" y2="181.05" stroke-width="1.6"/>
<line x1="1173.7" y1="181.05" x2="1168.7" y2="181.05" stroke-width="1.6"/>
<line x1="671.3" y1="173.01" x2="676.3" y2="173.01" stroke-width="1.6"/>
<line x1="1173.7" y1="173.01" x2="1168.7" y2="173.01" stroke-width="1.6"/>
<line x1="671.3" y1="165.92" x2="676.3" y2="165.92" stroke-width="1.6"/>
<line x1="1173.7" y1="165.92" x2="1168.7" y2="165.92" stroke-width="1.6"/>
<line x1="671.3" y1="159.57" x2="680.1" y2="159.57" stroke-width="2.2"/>
<line x1="1173.7" y1="159.57" x2="1164.9" y2="159.57" stroke-width="2.2"/>
<line x1="671.3" y1="117.83" x2="676.3" y2="117.83" stroke-width="1.6"/>
<line x1="1173.7" y1="117.83" x2="1168.7" y2="117.83" stroke-width="1.6"/>
<line x1="671.3" y1="93.41" x2="676.3" y2="93.41" stroke-width="1.6"/>
<line x1="1173.7" y1="93.41" x2="1168.7" y2="93.41" stroke-width="1.6"/>
<line x1="671.3" y1="76.08" x2="676.3" y2="76.08" stroke-width="1.6"/>
<line x1="1173.7" y1="76.08" x2="1168.7" y2="76.08" stroke-width="1.6"/>
<line x1="671.3" y1="62.64" x2="676.3" y2="62.64" stroke-width="1.6"/>
<line x1="1173.7" y1="62.64" x2="1168.7" y2="62.64" stroke-width="1.6"/>
<line x1="671.3" y1="51.66" x2="676.3" y2="51.66" stroke-width="1.6"/>
<line x1="1173.7" y1="51.66" x2="1168.7" y2="51.66" stroke-width="1.6"/>
<line x1="671.3" y1="42.38" x2="676.3" y2="42.38" stroke-width="1.6"/>
<line x1="1173.7" y1="42.38" x2="1168.7" y2="42.38" stroke-width="1.6"/>
<line x1="671.3" y1="34.34" x2="676.3" y2="34.34" stroke-width="1.6"/>
<line x1="1173.7" y1="34.34" x2="1168.7" y2="34.34" stroke-width="1.6"/>
<line x1="671.3" y1="27.25" x2="676.3" y2="27.25" stroke-width="1.6"/>
<line x1="1173.7" y1="27.25" x2="1168.7" y2="27.25" stroke-width="1.6"/>
<line x1="671.3" y1="20.9" x2="680.1" y2="20.9" stroke-width="2.2"/>
<line x1="1173.7" y1="20.9" x2="1164.9" y2="20.9" stroke-width="2.2"/>
</g>
<g transform="translate(696.69,459.9) scale(1,1.08)"><text x="0" y="0" font-family='"Liberation Serif", serif' font-size="22.0">10<tspan font-size="16.3" dx="0.6" dy="-8.24">2</tspan></text></g>
<g transform="translate(829.65,459.9) scale(1,1.08)"><text x="0" y="0" font-family='"Liberation Serif", serif' font-size="22.0">10<tspan font-size="16.3" dx="0.6" dy="-8.24">3</tspan></text></g>
<g transform="translate(962.61,459.9) scale(1,1.08)"><text x="0" y="0" font-family='"Liberation Serif", serif' font-size="22.0">10<tspan font-size="16.3" dx="0.6" dy="-8.24">4</tspan></text></g>
<g transform="translate(1095.57,459.9) scale(1,1.08)"><text x="0" y="0" font-family='"Liberation Serif", serif' font-size="22.0">10<tspan font-size="16.3" dx="0.6" dy="-8.24">5</tspan></text></g>
<g transform="translate(0,444.81) scale(1,1.08)">
<text x="642.94" y="0" text-anchor="end" font-family='"Liberation Serif", serif' font-size="22.0">10</text>
<text x="663.5" y="-7.59" text-anchor="end" font-family='"Liberation Serif", serif' font-size="16.3">5</text>
<rect x="644" y="-12.13" width="9.6" height="1.06" fill="#000"/>
</g>
<g transform="translate(0,306.14) scale(1,1.08)">
<text x="642.94" y="0" text-anchor="end" font-family='"Liberation Serif", serif' font-size="22.0">10</text>
<text x="663.5" y="-7.59" text-anchor="end" font-family='"Liberation Serif", serif' font-size="16.3">4</text>
<rect x="644" y="-12.13" width="9.6" height="1.06" fill="#000"/>
</g>
<g transform="translate(0,167.47) scale(1,1.08)">
<text x="642.94" y="0" text-anchor="end" font-family='"Liberation Serif", serif' font-size="22.0">10</text>
<text x="663.5" y="-7.59" text-anchor="end" font-family='"Liberation Serif", serif' font-size="16.3">3</text>
<rect x="644" y="-12.13" width="9.6" height="1.06" fill="#000"/>
</g>
<g transform="translate(0,28.8) scale(1,1.08)">
<text x="642.94" y="0" text-anchor="end" font-family='"Liberation Serif", serif' font-size="22.0">10</text>
<text x="663.5" y="-7.59" text-anchor="end" font-family='"Liberation Serif", serif' font-size="16.3">2</text>
<rect x="644" y="-12.13" width="9.6" height="1.06" fill="#000"/>
</g>
<g font-family='"Liberation Serif", serif' font-size="22.4" fill="#000">
<text x="922.5" y="16" text-anchor="middle">MJD 58133.65603 – 58140.65603</text>
<text x="922.5" y="482.2" text-anchor="middle">Energy (MeV)</text>
<g transform="translate(611.95,351.55) rotate(-90)">
<text x="0" y="0" font-size="22.4">E</text>
<text x="13.9" y="-7.4" font-size="16">2</text>
<text x="27.39" y="0" font-size="22.4">dN/dE</text>
<text x="90.61" y="0" font-size="22.4">(MeV</text>
<text x="150.75" y="0" font-size="22.4">cm</text>
<text x="191.8" y="-7.4" font-size="16">2</text>
<text x="206.18" y="0" font-size="22.4">s</text>
<text x="228.09" y="-7.4" font-size="16">1</text>
<text x="236.21" y="0" font-size="22.4">)</text>
<rect x="180.8" y="-12.42" width="8.9" height="1.15" fill="#000"/>
<rect x="216.7" y="-12.42" width="9" height="1.15" fill="#000"/>
</g>
</g>
<rect x="1000.7" y="34.2" width="30.6" height="11.4" fill="#ccccff" stroke="#b8b8f5" stroke-width="0.8"/>
<rect x="1000.7" y="55.2" width="30.6" height="11.4" fill="#ffccff" stroke="#f5b8f5" stroke-width="0.8"/>
<rect x="1100.4" y="34.2" width="30.6" height="11.4" fill="#cce6cc" stroke="#bcdcbc" stroke-width="0.8"/>
<g font-family='"Liberation Serif", serif' font-size="15.6" fill="#000">
<text x="1042.85" y="45">BPL</text>
<text x="1042.85" y="66.4">LP</text>
<text x="1142.65" y="45">PL</text>
</g>
<clipPath id="c2"><rect x="78.9" y="515.3" width="502.4" height="416"/></clipPath>
<g clip-path="url(#c2)">
<polygon points="118.92,648.9 120.86,648.69 122.79,648.48 124.73,648.27 126.66,648.06 128.6,647.85 130.53,647.64 132.47,647.43 134.4,647.23 136.34,647.02 138.27,646.81 140.21,646.6 142.14,646.39 144.08,646.18 146.01,645.97 147.94,645.76 149.88,645.55 151.81,645.34 153.75,645.13 155.68,644.92 157.62,644.71 159.55,644.5 161.49,644.3 163.42,644.09 165.36,643.88 167.29,643.67 169.23,643.46 171.16,643.25 173.09,643.04 175.03,642.83 176.96,642.62 178.9,642.41 180.83,642.2 182.77,641.99 184.7,641.78 186.64,641.57 188.57,641.37 190.51,641.16 192.44,640.95 194.38,640.74 196.31,640.53 198.24,640.32 200.18,640.11 202.11,639.9 204.05,639.69 205.98,639.48 207.92,639.27 209.85,639.06 211.79,638.85 213.72,638.64 215.66,638.43 217.59,638.23 219.53,638.02 221.46,637.81 223.39,637.6 225.33,637.39 227.26,637.18 229.2,636.97 231.13,636.76 233.07,636.55 235,636.34 236.94,636.13 238.87,635.92 240.81,635.71 242.74,635.5 244.68,635.3 246.61,635.09 248.54,634.88 250.48,634.67 252.41,634.46 254.35,634.25 256.28,634.06 258.22,633.89 260.15,633.82 262.09,633.98 262.2,634 264.02,634.46 265.96,635.19 267.89,636.03 269.83,636.91 271.76,637.79 273.69,638.68 275.63,639.57 277.56,640.46 279.5,641.34 281.43,642.23 283.37,643.12 285.3,644.01 287.24,644.9 289.17,645.79 291.11,646.68 293.04,647.57 294.98,648.46 296.91,649.34 298.84,650.23 300.78,651.11 302.71,651.96 304.65,652.81 306.58,653.65 308.52,654.5 310.45,655.35 312.39,656.2 314.32,657.05 316.26,657.9 318.19,658.75 320.13,659.6 322.06,660.45 324,661.3 325.93,662.15 327.86,663 329.8,663.85 331.73,664.7 333.67,665.55 335.6,666.4 337.54,667.25 339.47,668.1 341.41,668.95 343.34,669.8 345.28,670.65 347.21,671.5 349.15,672.35 351.08,673.2 353.01,674.05 354.95,674.9 356.88,675.74 358.82,676.59 360.75,677.44 362.69,678.29 364.62,679.14 366.56,679.99 368.49,680.84 370.43,681.69 372.36,682.54 374.3,683.39 376.23,684.24 378.16,685.09 380.1,685.94 382.03,686.79 383.97,687.64 385.9,688.49 387.84,689.34 389.77,690.19 391.71,691.04 393.64,691.89 395.58,692.74 397.51,693.59 399.45,694.44 401.38,695.29 403.31,696.14 405.25,696.99 407.18,697.83 409.12,698.68 411.05,699.53 412.99,700.38 414.92,701.23 416.86,702.08 418.79,702.93 420.73,703.78 422.66,704.63 424.6,705.48 426.53,706.33 428.46,707.18 430.4,708.03 432.33,708.88 434.27,709.73 436.2,710.58 438.14,711.43 440.07,712.28 442.01,713.13 443.94,713.98 445.88,714.83 447.81,715.68 449.75,716.53 451.68,717.38 453.61,718.23 455.55,719.08 457.48,719.92 459.42,720.77 461.35,721.62 463.29,722.47 465.22,723.32 467.16,724.17 469.09,725.02 471.03,725.87 472.96,726.72 474.9,727.57 476.83,728.42 478.76,729.27 480.7,730.12 482.63,730.97 484.57,731.82 486.5,732.67 488.44,733.52 490.37,734.37 492.31,735.22 494.24,736.07 496.18,736.92 498.11,737.77 500.05,738.62 501.98,739.47 503.92,740.32 505.85,741.17 507.78,742.01 509.72,742.86 511.65,743.71 513.59,744.56 515.52,745.41 517.46,746.26 519.39,747.11 521.33,747.96 523.26,748.81 525.2,749.66 527.13,750.51 529.07,751.36 531,752.21 532.93,753.06 534.87,753.91 536.8,754.76 538.74,755.61 540.67,756.46 542.61,757.31 544.54,758.16 546.48,759.01 548.41,759.86 550.35,760.71 552.28,761.56 554.22,762.41 556.15,763.26 558.08,764.1 560.02,764.95 561.95,765.8 563.89,766.65 565.82,767.5 567.76,768.35 569.69,769.2 571.63,770.05 573.56,770.9 575.5,771.75 577.43,772.6 579.37,773.45 581.3,774.3 581.3,798.1 579.37,797.12 577.43,796.14 575.5,795.16 573.56,794.18 571.63,793.21 569.69,792.23 567.76,791.25 565.82,790.27 563.89,789.29 561.95,788.31 560.02,787.33 558.08,786.35 556.15,785.37 554.22,784.4 552.28,783.42 550.35,782.44 548.41,781.46 546.48,780.48 544.54,779.5 542.61,778.52 540.67,777.54 538.74,776.56 536.8,775.59 534.87,774.61 532.93,773.63 531,772.65 529.07,771.67 527.13,770.69 525.2,769.71 523.26,768.73 521.33,767.75 519.39,766.77 517.46,765.8 515.52,764.82 513.59,763.84 511.65,762.86 509.72,761.88 507.78,760.9 505.85,759.92 503.92,758.94 501.98,757.96 500.05,756.99 498.11,756.01 496.18,755.03 494.24,754.05 492.31,753.07 490.37,752.09 488.44,751.11 486.5,750.13 484.57,749.15 482.63,748.18 480.7,747.2 478.76,746.22 476.83,745.24 474.9,744.26 472.96,743.28 471.03,742.3 469.09,741.32 467.16,740.34 465.22,739.37 463.29,738.39 461.35,737.41 459.42,736.43 457.48,735.45 455.55,734.47 453.61,733.49 451.68,732.51 449.75,731.53 447.81,730.56 445.88,729.58 443.94,728.6 442.01,727.62 440.07,726.64 438.14,725.66 436.2,724.68 434.27,723.7 432.33,722.72 430.4,721.74 428.46,720.77 426.53,719.79 424.6,718.81 422.66,717.83 420.73,716.85 418.79,715.87 416.86,714.89 414.92,713.91 412.99,712.93 411.05,711.96 409.12,710.98 407.18,710 405.25,709.02 403.31,708.04 401.38,707.06 399.45,706.08 397.51,705.1 395.58,704.12 393.64,703.15 391.71,702.17 389.77,701.19 387.84,700.21 385.9,699.23 383.97,698.25 382.03,697.27 380.1,696.29 378.16,695.31 376.23,694.34 374.3,693.36 372.36,692.38 370.43,691.4 368.49,690.42 366.56,689.44 364.62,688.46 362.69,687.48 360.75,686.5 358.82,685.53 356.88,684.55 354.95,683.57 353.01,682.59 351.08,681.61 349.15,680.63 347.21,679.65 345.28,678.67 343.34,677.69 341.41,676.72 339.47,675.74 337.54,674.76 335.6,673.78 333.67,672.8 331.73,671.82 329.8,670.84 327.86,669.86 325.93,668.88 324,667.9 322.06,666.93 320.13,665.95 318.19,664.97 316.26,663.99 314.32,663.01 312.39,662.03 310.45,661.05 308.52,660.07 306.58,659.09 304.65,658.12 302.71,657.14 300.78,656.16 298.84,655.2 296.91,654.26 294.98,653.32 293.04,652.38 291.11,651.44 289.17,650.5 287.24,649.56 285.3,648.62 283.37,647.68 281.43,646.74 279.5,645.81 277.56,644.87 275.63,643.93 273.69,642.99 271.76,642.05 269.83,641.11 267.89,640.19 265.96,639.3 264.02,638.51 262.2,638 262.09,637.98 260.15,637.8 258.22,637.86 256.28,638.02 254.35,638.2 252.41,638.39 250.48,638.59 248.54,638.78 246.61,638.98 244.68,639.17 242.74,639.37 240.81,639.57 238.87,639.76 236.94,639.96 235,640.15 233.07,640.35 231.13,640.54 229.2,640.74 227.26,640.94 225.33,641.13 223.39,641.33 221.46,641.52 219.53,641.72 217.59,641.92 215.66,642.11 213.72,642.31 211.79,642.5 209.85,642.7 207.92,642.89 205.98,643.09 204.05,643.29 202.11,643.48 200.18,643.68 198.24,643.87 196.31,644.07 194.38,644.26 192.44,644.46 190.51,644.66 188.57,644.85 186.64,645.05 184.7,645.24 182.77,645.44 180.83,645.64 178.9,645.83 176.96,646.03 175.03,646.22 173.09,646.42 171.16,646.61 169.23,646.81 167.29,647.01 165.36,647.2 163.42,647.4 161.49,647.59 159.55,647.79 157.62,647.98 155.68,648.18 153.75,648.38 151.81,648.57 149.88,648.77 147.94,648.96 146.01,649.16 144.08,649.35 142.14,649.55 140.21,649.75 138.27,649.94 136.34,650.14 134.4,650.33 132.47,650.53 130.53,650.73 128.6,650.92 126.66,651.12 124.73,651.31 122.79,651.51 120.86,651.7 118.92,651.9" fill="#ccccff"/>
<polygon points="118.92,638.9 126.76,639.47 134.6,640.03 142.44,640.6 150.27,641.15 158.11,641.71 165.95,642.26 173.78,642.81 181.62,643.35 189.46,643.88 197.29,644.42 205.13,644.94 212.97,645.46 220.8,645.98 228.64,646.49 236.48,646.99 244.31,647.49 252.15,647.98 259.99,648.47 267.83,648.95 275.66,649.43 283.5,649.91 291.34,650.38 299.17,650.85 307.01,651.32 314.85,651.79 322.68,652.25 330.52,652.71 338.36,653.17 346.19,653.63 354.03,654.08 361.87,654.54 369.7,654.99 377.54,655.44 385.38,655.89 393.22,656.34 401.05,656.79 408.89,657.24 416.73,657.69 424.56,658.13 432.4,658.58 440.24,659.03 448.07,659.47 455.91,659.92 463.75,660.36 471.58,660.81 479.42,661.25 487.26,661.69 495.09,662.14 502.93,662.58 510.77,663.02 518.61,663.47 526.44,663.91 534.28,664.35 542.12,664.79 549.95,665.23 557.79,665.68 565.63,666.12 573.46,666.56 581.3,667 581.3,675 573.46,674.4 565.63,673.81 557.79,673.21 549.95,672.62 542.12,672.02 534.28,671.43 526.44,670.83 518.61,670.24 510.77,669.64 502.93,669.05 495.09,668.45 487.26,667.86 479.42,667.26 471.58,666.67 463.75,666.08 455.91,665.49 448.07,664.89 440.24,664.3 432.4,663.71 424.56,663.12 416.73,662.53 408.89,661.94 401.05,661.35 393.22,660.76 385.38,660.18 377.54,659.59 369.7,659 361.87,658.42 354.03,657.84 346.19,657.26 338.36,656.68 330.52,656.1 322.68,655.52 314.85,654.95 307.01,654.37 299.17,653.8 291.34,653.24 283.5,652.67 275.66,652.11 267.83,651.55 259.99,651 252.15,650.45 244.31,649.91 236.48,649.37 228.64,648.84 220.8,648.31 212.97,647.79 205.13,647.27 197.29,646.76 189.46,646.25 181.62,645.75 173.78,645.25 165.95,644.76 158.11,644.28 150.27,643.79 142.44,643.32 134.6,642.84 126.76,642.37 118.92,641.9" fill="#cce6cc"/>
<polygon points="118.92,632.83 120.47,633.33 122.02,633.85 123.56,634.38 125.11,634.92 126.66,635.48 128.2,636.06 129.75,636.65 131.3,637.25 132.84,637.87 134.39,638.51 135.94,639.16 137.48,639.82 139.03,640.5 140.57,641.2 142.12,641.91 143.67,642.63 145.21,643.37 146.76,644.13 148.31,644.9 149.85,645.69 151.4,646.49 152.95,647.31 154.49,648.14 156.04,648.99 157.59,649.86 159.13,650.74 160.68,651.64 162.22,652.55 163.77,653.48 165.32,654.42 166.86,655.38 168.41,656.36 169.96,657.35 171.5,658.36 173.05,659.39 174.6,660.43 176.14,661.49 177.69,662.56 179.23,663.65 180.78,664.76 182.33,665.88 183.87,667.02 185.42,668.17 186.97,669.35 188.51,670.54 190.06,671.74 191.61,672.96 193.15,674.2 194.7,675.46 196.25,676.73 197.79,678.02 199.34,679.32 200.88,680.65 202.43,681.99 203.98,683.34 205.52,684.72 207.07,686.11 208.62,687.52 210.16,688.94 211.71,690.39 213.26,691.85 214.8,693.32 216.35,694.82 217.89,696.33 219.44,697.86 220.99,699.41 222.53,700.97 224.08,702.55 225.63,704.15 227.17,705.77 228.72,707.41 230.27,709.06 231.81,710.73 233.36,712.42 234.91,714.13 236.45,715.85 238,717.59 239.54,719.35 241.09,721.13 242.64,722.93 244.18,724.74 245.73,726.57 247.28,728.43 248.82,730.3 250.37,732.18 251.92,734.09 253.46,736.01 255.01,737.96 256.55,739.92 258.1,741.9 259.65,743.9 261.19,745.91 262.74,747.95 264.29,750 265.83,752.08 267.38,754.17 268.93,756.28 270.47,758.41 272.02,760.56 273.57,762.73 275.11,764.91 276.66,767.12 278.2,769.34 279.75,771.59 281.3,773.85 282.84,776.13 284.39,778.43 285.94,780.75 287.48,783.09 289.03,785.45 290.58,787.83 292.12,790.23 293.67,792.65 295.22,795.09 296.76,797.55 298.31,800.02 299.85,802.52 301.4,805.04 302.95,807.57 304.49,810.13 306.04,812.7 307.59,815.3 309.13,817.92 310.68,820.55 312.23,823.21 313.77,825.88 315.32,828.58 316.86,831.3 318.41,834.03 319.96,836.79 321.5,839.57 323.05,842.37 324.6,845.18 326.14,848.02 327.69,850.88 329.24,853.76 330.78,856.66 332.33,859.58 333.88,862.52 335.42,865.48 336.97,868.47 338.51,871.47 340.06,874.5 341.61,877.54 343.15,880.61 344.7,883.69 346.25,886.8 347.79,889.93 349.34,893.08 350.89,896.25 352.43,899.45 353.98,902.66 355.52,905.9 357.07,909.15 358.62,912.43 360.16,915.73 361.71,919.05 363.26,922.39 364.8,925.76 366.35,929.14 367.9,932.55 369.44,935.98 370.99,939.43 372.54,942.9 374.08,946.39 375.63,949.91 377.17,953.45 378.72,957.01 380.27,960.59 381.81,964.19 383.36,967.82 384.91,971.46 386.45,975.13 388,978.83 389.55,982.54 391.09,986.28 392.64,990.04 394.19,993.82 395.73,997.62 397.28,1001.45 398.82,1005.3 400.37,1009.17 401.92,1013.06 403.46,1016.98 405.01,1020.92 406.56,1024.88 408.1,1028.86 409.65,1032.87 411.2,1036.9 412.74,1040.95 414.29,1045.03 415.83,1049.13 417.38,1053.25 418.93,1057.39 420.47,1061.56 422.02,1065.75 423.57,1069.97 425.11,1074.2 426.66,1078.46 428.21,1082.75 429.75,1087.06 431.3,1091.39 432.85,1095.74 434.39,1100.12 435.94,1104.52 437.48,1108.94 439.03,1113.39 440.58,1117.87 442.12,1122.36 443.67,1126.88 445.22,1131.42 446.76,1135.99 448.31,1140.58 449.86,1145.2 451.4,1149.84 452.95,1154.5 454.49,1159.19 456.04,1163.9 457.59,1168.63 459.13,1173.39 460.68,1178.18 462.23,1182.98 463.77,1187.82 465.32,1192.67 466.87,1197.55 468.41,1202.46 469.96,1207.39 471.51,1212.34 473.05,1217.32 474.6,1222.33 476.14,1227.36 477.69,1232.41 479.24,1237.49 480.78,1242.59 482.33,1247.72 483.88,1252.87 485.42,1258.05 486.97,1263.25 488.52,1268.48 490.06,1273.73 491.61,1279.01 493.15,1284.31 494.7,1289.64 496.25,1294.99 497.79,1300.37 499.34,1305.77 500.89,1311.2 502.43,1316.65 503.98,1322.13 505.53,1327.64 507.07,1333.17 508.62,1338.73 510.17,1344.31 511.71,1349.92 513.26,1355.55 514.8,1361.21 516.35,1366.89 517.9,1372.6 519.44,1378.34 520.99,1384.1 522.54,1389.89 524.08,1395.71 525.63,1401.55 527.18,1407.41 528.72,1413.31 530.27,1419.23 531.82,1425.17 533.36,1431.14 534.91,1437.14 536.45,1443.16 538,1449.21 539.55,1455.29 541.09,1461.4 542.64,1467.53 544.19,1473.68 545.73,1479.87 547.28,1486.07 548.83,1492.31 550.37,1498.57 551.92,1504.86 553.46,1511.18 555.01,1517.53 556.56,1523.9 558.1,1530.29 559.65,1536.72 561.2,1543.17 562.74,1549.65 564.29,1556.16 565.84,1562.69 567.38,1569.25 568.93,1575.84 570.48,1582.45 572.02,1589.09 573.57,1595.76 575.11,1602.46 576.66,1609.19 578.21,1615.94 579.75,1622.72 581.3,1629.53 581.3,1632.53 579.75,1625.71 578.21,1618.93 576.66,1612.18 575.11,1605.45 573.57,1598.75 572.02,1592.07 570.48,1585.43 568.93,1578.81 567.38,1572.22 565.84,1565.66 564.29,1559.12 562.74,1552.61 561.2,1546.13 559.65,1539.67 558.1,1533.24 556.56,1526.84 555.01,1520.47 553.46,1514.12 551.92,1507.8 550.37,1501.51 548.83,1495.24 547.28,1489 545.73,1482.79 544.19,1476.6 542.64,1470.44 541.09,1464.31 539.55,1458.2 538,1452.12 536.45,1446.07 534.91,1440.04 533.36,1434.04 531.82,1428.06 530.27,1422.12 528.72,1416.19 527.18,1410.3 525.63,1404.43 524.08,1398.58 522.54,1392.76 520.99,1386.97 519.44,1381.21 517.9,1375.47 516.35,1369.75 514.8,1364.06 513.26,1358.4 511.71,1352.77 510.17,1347.15 508.62,1341.57 507.07,1336.01 505.53,1330.48 503.98,1324.97 502.43,1319.48 500.89,1314.03 499.34,1308.59 497.79,1303.19 496.25,1297.81 494.7,1292.45 493.15,1287.12 491.61,1281.81 490.06,1276.53 488.52,1271.28 486.97,1266.04 485.42,1260.84 483.88,1255.66 482.33,1250.5 480.78,1245.37 479.24,1240.27 477.69,1235.18 476.14,1230.13 474.6,1225.1 473.05,1220.09 471.51,1215.11 469.96,1210.15 468.41,1205.22 466.87,1200.31 465.32,1195.42 463.77,1190.56 462.23,1185.73 460.68,1180.92 459.13,1176.13 457.59,1171.37 456.04,1166.63 454.49,1161.91 452.95,1157.22 451.4,1152.56 449.86,1147.91 448.31,1143.29 446.76,1138.7 445.22,1134.13 443.67,1129.58 442.12,1125.06 440.58,1120.56 439.03,1116.09 437.48,1111.63 435.94,1107.21 434.39,1102.8 432.85,1098.42 431.3,1094.06 429.75,1089.73 428.21,1085.42 426.66,1081.13 425.11,1076.87 423.57,1072.62 422.02,1068.41 420.47,1064.21 418.93,1060.04 417.38,1055.89 415.83,1051.77 414.29,1047.67 412.74,1043.59 411.2,1039.53 409.65,1035.5 408.1,1031.49 406.56,1027.5 405.01,1023.53 403.46,1019.59 401.92,1015.67 400.37,1011.78 398.82,1007.9 397.28,1004.05 395.73,1000.22 394.19,996.41 392.64,992.63 391.09,988.87 389.55,985.13 388,981.41 386.45,977.71 384.91,974.04 383.36,970.39 381.81,966.76 380.27,963.15 378.72,959.57 377.17,956.01 375.63,952.46 374.08,948.95 372.54,945.45 370.99,941.97 369.44,938.52 367.9,935.09 366.35,931.68 364.8,928.29 363.26,924.92 361.71,921.58 360.16,918.25 358.62,914.95 357.07,911.67 355.52,908.41 353.98,905.17 352.43,901.95 350.89,898.76 349.34,895.58 347.79,892.43 346.25,889.29 344.7,886.18 343.15,883.09 341.61,880.02 340.06,876.97 338.51,873.95 336.97,870.94 335.42,867.95 333.88,864.99 332.33,862.04 330.78,859.12 329.24,856.22 327.69,853.33 326.14,850.47 324.6,847.63 323.05,844.81 321.5,842.01 319.96,839.23 318.41,836.47 316.86,833.73 315.32,831.01 313.77,828.31 312.23,825.63 310.68,822.97 309.13,820.33 307.59,817.71 306.04,815.11 304.49,812.53 302.95,809.97 301.4,807.43 299.85,804.91 298.31,802.41 296.76,799.93 295.22,797.47 293.67,795.03 292.12,792.61 290.58,790.21 289.03,787.82 287.48,785.46 285.94,783.12 284.39,780.79 282.84,778.49 281.3,776.2 279.75,773.93 278.2,771.69 276.66,769.46 275.11,767.25 273.57,765.06 272.02,762.89 270.47,760.74 268.93,758.6 267.38,756.49 265.83,754.39 264.29,752.32 262.74,750.26 261.19,748.22 259.65,746.2 258.1,744.2 256.55,742.22 255.01,740.25 253.46,738.3 251.92,736.38 250.37,734.47 248.82,732.58 247.28,730.7 245.73,728.85 244.18,727.01 242.64,725.19 241.09,723.4 239.54,721.61 238,719.85 236.45,718.1 234.91,716.38 233.36,714.67 231.81,712.97 230.27,711.3 228.72,709.64 227.17,708.01 225.63,706.38 224.08,704.78 222.53,703.2 220.99,701.63 219.44,700.08 217.89,698.55 216.35,697.03 214.8,695.53 213.26,694.05 211.71,692.59 210.16,691.14 208.62,689.71 207.07,688.3 205.52,686.91 203.98,685.53 202.43,684.17 200.88,682.83 199.34,681.5 197.79,680.19 196.25,678.9 194.7,677.62 193.15,676.36 191.61,675.12 190.06,673.89 188.51,672.69 186.97,671.49 185.42,670.32 183.87,669.16 182.33,668.02 180.78,666.89 179.23,665.78 177.69,664.69 176.14,663.61 174.6,662.55 173.05,661.5 171.5,660.48 169.96,659.46 168.41,658.47 166.86,657.49 165.32,656.52 163.77,655.58 162.22,654.64 160.68,653.73 159.13,652.83 157.59,651.94 156.04,651.07 154.49,650.22 152.95,649.38 151.4,648.56 149.85,647.75 148.31,646.96 146.76,646.19 145.21,645.43 143.67,644.68 142.12,643.96 140.57,643.24 139.03,642.54 137.48,641.86 135.94,641.19 134.39,640.54 132.84,639.9 131.3,639.28 129.75,638.67 128.2,638.08 126.66,637.5 125.11,636.94 123.56,636.39 122.02,635.86 120.47,635.34 118.92,634.83" fill="#ffccff"/>
<line x1="118.92" y1="647.2" x2="175.91" y2="647.2" stroke="#ff0000" stroke-width="2.2"/>
<line x1="175.91" y1="641.3" x2="232.89" y2="641.3" stroke="#ff0000" stroke-width="2.2"/>
<line x1="232.89" y1="641.3" x2="289.87" y2="641.3" stroke="#ff0000" stroke-width="2.2"/>
<line x1="289.87" y1="657.3" x2="346.86" y2="657.3" stroke="#ff0000" stroke-width="2.2"/>
<line x1="346.86" y1="693" x2="403.84" y2="693" stroke="#ff0000" stroke-width="2.2"/>
<line x1="375.35" y1="687" x2="375.35" y2="699.5" stroke="#ff0000" stroke-width="2.2"/>
<line x1="403.84" y1="728.7" x2="460.82" y2="728.7" stroke="#ff0000" stroke-width="2.2"/>
<line x1="432.33" y1="718.3" x2="432.33" y2="741.4" stroke="#ff0000" stroke-width="2.2"/>
<line x1="460.82" y1="800.3" x2="581.24" y2="800.3" stroke="#ff0000" stroke-width="2.2"/>
<line x1="521.03" y1="777.3" x2="521.03" y2="839.1" stroke="#ff0000" stroke-width="2.2"/>
<path d="M118.92,650.4 L120.86,650.2 L122.79,649.99 L124.73,649.79 L126.66,649.59 L128.6,649.39 L130.53,649.18 L132.47,648.98 L134.4,648.78 L136.34,648.58 L138.27,648.37 L140.21,648.17 L142.14,647.97 L144.08,647.77 L146.01,647.56 L147.94,647.36 L149.88,647.16 L151.81,646.96 L153.75,646.75 L155.68,646.55 L157.62,646.35 L159.55,646.15 L161.49,645.94 L163.42,645.74 L165.36,645.54 L167.29,645.34 L169.23,645.13 L171.16,644.93 L173.09,644.73 L175.03,644.53 L176.96,644.32 L178.9,644.12 L180.83,643.92 L182.77,643.72 L184.7,643.51 L186.64,643.31 L188.57,643.11 L190.51,642.91 L192.44,642.7 L194.38,642.5 L196.31,642.3 L198.24,642.1 L200.18,641.89 L202.11,641.69 L204.05,641.49 L205.98,641.29 L207.92,641.08 L209.85,640.88 L211.79,640.68 L213.72,640.48 L215.66,640.27 L217.59,640.07 L219.53,639.87 L221.46,639.67 L223.39,639.46 L225.33,639.26 L227.26,639.06 L229.2,638.86 L231.13,638.65 L233.07,638.45 L235,638.25 L236.94,638.04 L238.87,637.84 L240.81,637.64 L242.74,637.44 L244.68,637.23 L246.61,637.03 L248.54,636.83 L250.48,636.63 L252.41,636.43 L254.35,636.23 L256.28,636.04 L258.22,635.88 L260.15,635.81 L262.09,635.98 L262.2,636 L264.02,636.49 L265.96,637.24 L267.89,638.11 L269.83,639.01 L271.76,639.92 L273.69,640.83 L275.63,641.75 L277.56,642.66 L279.5,643.58 L281.43,644.49 L283.37,645.4 L285.3,646.32 L287.24,647.23 L289.17,648.15 L291.11,649.06 L293.04,649.97 L294.98,650.89 L296.91,651.8 L298.84,652.72 L300.78,653.63 L302.71,654.55 L304.65,655.46 L306.58,656.37 L308.52,657.29 L310.45,658.2 L312.39,659.12 L314.32,660.03 L316.26,660.95 L318.19,661.86 L320.13,662.77 L322.06,663.69 L324,664.6 L325.93,665.52 L327.86,666.43 L329.8,667.35 L331.73,668.26 L333.67,669.17 L335.6,670.09 L337.54,671 L339.47,671.92 L341.41,672.83 L343.34,673.75 L345.28,674.66 L347.21,675.57 L349.15,676.49 L351.08,677.4 L353.01,678.32 L354.95,679.23 L356.88,680.15 L358.82,681.06 L360.75,681.97 L362.69,682.89 L364.62,683.8 L366.56,684.72 L368.49,685.63 L370.43,686.55 L372.36,687.46 L374.3,688.37 L376.23,689.29 L378.16,690.2 L380.1,691.12 L382.03,692.03 L383.97,692.95 L385.9,693.86 L387.84,694.77 L389.77,695.69 L391.71,696.6 L393.64,697.52 L395.58,698.43 L397.51,699.35 L399.45,700.26 L401.38,701.17 L403.31,702.09 L405.25,703 L407.18,703.92 L409.12,704.83 L411.05,705.74 L412.99,706.66 L414.92,707.57 L416.86,708.49 L418.79,709.4 L420.73,710.32 L422.66,711.23 L424.6,712.14 L426.53,713.06 L428.46,713.97 L430.4,714.89 L432.33,715.8 L434.27,716.72 L436.2,717.63 L438.14,718.54 L440.07,719.46 L442.01,720.37 L443.94,721.29 L445.88,722.2 L447.81,723.12 L449.75,724.03 L451.68,724.94 L453.61,725.86 L455.55,726.77 L457.48,727.69 L459.42,728.6 L461.35,729.52 L463.29,730.43 L465.22,731.34 L467.16,732.26 L469.09,733.17 L471.03,734.09 L472.96,735 L474.9,735.92 L476.83,736.83 L478.76,737.74 L480.7,738.66 L482.63,739.57 L484.57,740.49 L486.5,741.4 L488.44,742.32 L490.37,743.23 L492.31,744.14 L494.24,745.06 L496.18,745.97 L498.11,746.89 L500.05,747.8 L501.98,748.72 L503.92,749.63 L505.85,750.54 L507.78,751.46 L509.72,752.37 L511.65,753.29 L513.59,754.2 L515.52,755.12 L517.46,756.03 L519.39,756.94 L521.33,757.86 L523.26,758.77 L525.2,759.69 L527.13,760.6 L529.07,761.51 L531,762.43 L532.93,763.34 L534.87,764.26 L536.8,765.17 L538.74,766.09 L540.67,767 L542.61,767.91 L544.54,768.83 L546.48,769.74 L548.41,770.66 L550.35,771.57 L552.28,772.49 L554.22,773.4 L556.15,774.31 L558.08,775.23 L560.02,776.14 L561.95,777.06 L563.89,777.97 L565.82,778.89 L567.76,779.8 L569.69,780.71 L571.63,781.63 L573.56,782.54 L575.5,783.46 L577.43,784.37 L579.37,785.29 L581.3,786.2" fill="none" stroke="#0000ff" stroke-width="1.1" stroke-dasharray="2.8,1.1"/>
<path d="M118.92,640.4 L581.3,671" fill="none" stroke="#008000" stroke-width="1.1" stroke-dasharray="2.8,1.1"/>
<path d="M118.92,633.83 L120.47,634.34 L122.02,634.85 L123.56,635.38 L125.11,635.93 L126.66,636.49 L128.2,637.07 L129.75,637.66 L131.3,638.27 L132.84,638.89 L134.39,639.52 L135.94,640.17 L137.48,640.84 L139.03,641.52 L140.57,642.22 L142.12,642.93 L143.67,643.66 L145.21,644.4 L146.76,645.16 L148.31,645.93 L149.85,646.72 L151.4,647.53 L152.95,648.35 L154.49,649.18 L156.04,650.03 L157.59,650.9 L159.13,651.78 L160.68,652.68 L162.22,653.6 L163.77,654.53 L165.32,655.47 L166.86,656.44 L168.41,657.41 L169.96,658.41 L171.5,659.42 L173.05,660.45 L174.6,661.49 L176.14,662.55 L177.69,663.62 L179.23,664.72 L180.78,665.82 L182.33,666.95 L183.87,668.09 L185.42,669.25 L186.97,670.42 L188.51,671.61 L190.06,672.82 L191.61,674.04 L193.15,675.28 L194.7,676.54 L196.25,677.81 L197.79,679.1 L199.34,680.41 L200.88,681.74 L202.43,683.08 L203.98,684.44 L205.52,685.81 L207.07,687.21 L208.62,688.62 L210.16,690.04 L211.71,691.49 L213.26,692.95 L214.8,694.43 L216.35,695.92 L217.89,697.44 L219.44,698.97 L220.99,700.52 L222.53,702.08 L224.08,703.67 L225.63,705.27 L227.17,706.89 L228.72,708.53 L230.27,710.18 L231.81,711.85 L233.36,713.54 L234.91,715.25 L236.45,716.98 L238,718.72 L239.54,720.48 L241.09,722.26 L242.64,724.06 L244.18,725.88 L245.73,727.71 L247.28,729.56 L248.82,731.44 L250.37,733.33 L251.92,735.23 L253.46,737.16 L255.01,739.1 L256.55,741.07 L258.1,743.05 L259.65,745.05 L261.19,747.07 L262.74,749.1 L264.29,751.16 L265.83,753.24 L267.38,755.33 L268.93,757.44 L270.47,759.57 L272.02,761.72 L273.57,763.89 L275.11,766.08 L276.66,768.29 L278.2,770.51 L279.75,772.76 L281.3,775.03 L282.84,777.31 L284.39,779.61 L285.94,781.94 L287.48,784.28 L289.03,786.64 L290.58,789.02 L292.12,791.42 L293.67,793.84 L295.22,796.28 L296.76,798.74 L298.31,801.22 L299.85,803.72 L301.4,806.23 L302.95,808.77 L304.49,811.33 L306.04,813.91 L307.59,816.5 L309.13,819.12 L310.68,821.76 L312.23,824.42 L313.77,827.1 L315.32,829.79 L316.86,832.51 L318.41,835.25 L319.96,838.01 L321.5,840.79 L323.05,843.59 L324.6,846.41 L326.14,849.25 L327.69,852.11 L329.24,854.99 L330.78,857.89 L332.33,860.81 L333.88,863.76 L335.42,866.72 L336.97,869.7 L338.51,872.71 L340.06,875.73 L341.61,878.78 L343.15,881.85 L344.7,884.94 L346.25,888.05 L347.79,891.18 L349.34,894.33 L350.89,897.5 L352.43,900.7 L353.98,903.91 L355.52,907.15 L357.07,910.41 L358.62,913.69 L360.16,916.99 L361.71,920.31 L363.26,923.66 L364.8,927.02 L366.35,930.41 L367.9,933.82 L369.44,937.25 L370.99,940.7 L372.54,944.17 L374.08,947.67 L375.63,951.19 L377.17,954.73 L378.72,958.29 L380.27,961.87 L381.81,965.48 L383.36,969.1 L384.91,972.75 L386.45,976.42 L388,980.12 L389.55,983.83 L391.09,987.57 L392.64,991.33 L394.19,995.11 L395.73,998.92 L397.28,1002.75 L398.82,1006.6 L400.37,1010.47 L401.92,1014.37 L403.46,1018.28 L405.01,1022.22 L406.56,1026.19 L408.1,1030.17 L409.65,1034.18 L411.2,1038.21 L412.74,1042.27 L414.29,1046.35 L415.83,1050.45 L417.38,1054.57 L418.93,1058.72 L420.47,1062.89 L422.02,1067.08 L423.57,1071.3 L425.11,1075.53 L426.66,1079.8 L428.21,1084.08 L429.75,1088.39 L431.3,1092.72 L432.85,1097.08 L434.39,1101.46 L435.94,1105.86 L437.48,1110.29 L439.03,1114.74 L440.58,1119.21 L442.12,1123.71 L443.67,1128.23 L445.22,1132.78 L446.76,1137.35 L448.31,1141.94 L449.86,1146.56 L451.4,1151.2 L452.95,1155.86 L454.49,1160.55 L456.04,1165.26 L457.59,1170 L459.13,1174.76 L460.68,1179.55 L462.23,1184.36 L463.77,1189.19 L465.32,1194.05 L466.87,1198.93 L468.41,1203.84 L469.96,1208.77 L471.51,1213.73 L473.05,1218.71 L474.6,1223.71 L476.14,1228.74 L477.69,1233.8 L479.24,1238.88 L480.78,1243.98 L482.33,1249.11 L483.88,1254.26 L485.42,1259.44 L486.97,1264.65 L488.52,1269.88 L490.06,1275.13 L491.61,1280.41 L493.15,1285.71 L494.7,1291.04 L496.25,1296.4 L497.79,1301.78 L499.34,1307.18 L500.89,1312.61 L502.43,1318.07 L503.98,1323.55 L505.53,1329.06 L507.07,1334.59 L508.62,1340.15 L510.17,1345.73 L511.71,1351.34 L513.26,1356.98 L514.8,1362.64 L516.35,1368.32 L517.9,1374.04 L519.44,1379.77 L520.99,1385.54 L522.54,1391.33 L524.08,1397.14 L525.63,1402.99 L527.18,1408.86 L528.72,1414.75 L530.27,1420.67 L531.82,1426.62 L533.36,1432.59 L534.91,1438.59 L536.45,1444.62 L538,1450.67 L539.55,1456.75 L541.09,1462.85 L542.64,1468.98 L544.19,1475.14 L545.73,1481.33 L547.28,1487.54 L548.83,1493.78 L550.37,1500.04 L551.92,1506.33 L553.46,1512.65 L555.01,1519 L556.56,1525.37 L558.1,1531.77 L559.65,1538.2 L561.2,1544.65 L562.74,1551.13 L564.29,1557.64 L565.84,1564.17 L567.38,1570.73 L568.93,1577.32 L570.48,1583.94 L572.02,1590.58 L573.57,1597.26 L575.11,1603.95 L576.66,1610.68 L578.21,1617.44 L579.75,1624.22 L581.3,1631.03" fill="none" stroke="#ff00ff" stroke-width="1.1" stroke-dasharray="2.8,1.1"/>
<circle cx="147.42" cy="647.2" r="3.8" fill="#ff0000" stroke="#000" stroke-width="1.1"/>
<circle cx="204.4" cy="641.3" r="3.8" fill="#ff0000" stroke="#000" stroke-width="1.1"/>
<circle cx="261.38" cy="641.3" r="3.8" fill="#ff0000" stroke="#000" stroke-width="1.1"/>
<circle cx="318.36" cy="657.3" r="3.8" fill="#ff0000" stroke="#000" stroke-width="1.1"/>
<circle cx="375.35" cy="693" r="3.8" fill="#ff0000" stroke="#000" stroke-width="1.1"/>
<circle cx="432.33" cy="728.7" r="3.8" fill="#ff0000" stroke="#000" stroke-width="1.1"/>
<circle cx="521.03" cy="800.3" r="3.8" fill="#ff0000" stroke="#000" stroke-width="1.1"/>
</g>
<rect x="78.9" y="515.3" width="502.4" height="416" fill="none" stroke="#000" stroke-width="0.55"/>
<g stroke="#000">
<line x1="78.9" y1="931.3" x2="78.9" y2="926.3" stroke-width="1.6"/>
<line x1="78.9" y1="515.3" x2="78.9" y2="520.3" stroke-width="1.6"/>
<line x1="89.43" y1="931.3" x2="89.43" y2="926.3" stroke-width="1.6"/>
<line x1="89.43" y1="515.3" x2="89.43" y2="520.3" stroke-width="1.6"/>
<line x1="98.33" y1="931.3" x2="98.33" y2="926.3" stroke-width="1.6"/>
<line x1="98.33" y1="515.3" x2="98.33" y2="520.3" stroke-width="1.6"/>
<line x1="106.04" y1="931.3" x2="106.04" y2="926.3" stroke-width="1.6"/>
<line x1="106.04" y1="515.3" x2="106.04" y2="520.3" stroke-width="1.6"/>
<line x1="112.84" y1="931.3" x2="112.84" y2="926.3" stroke-width="1.6"/>
<line x1="112.84" y1="515.3" x2="112.84" y2="520.3" stroke-width="1.6"/>
<line x1="118.92" y1="931.3" x2="118.92" y2="922.5" stroke-width="2.2"/>
<line x1="118.92" y1="515.3" x2="118.92" y2="524.1" stroke-width="2.2"/>
<line x1="158.95" y1="931.3" x2="158.95" y2="926.3" stroke-width="1.6"/>
<line x1="158.95" y1="515.3" x2="158.95" y2="520.3" stroke-width="1.6"/>
<line x1="182.36" y1="931.3" x2="182.36" y2="926.3" stroke-width="1.6"/>
<line x1="182.36" y1="515.3" x2="182.36" y2="520.3" stroke-width="1.6"/>
<line x1="198.97" y1="931.3" x2="198.97" y2="926.3" stroke-width="1.6"/>
<line x1="198.97" y1="515.3" x2="198.97" y2="520.3" stroke-width="1.6"/>
<line x1="211.86" y1="931.3" x2="211.86" y2="926.3" stroke-width="1.6"/>
<line x1="211.86" y1="515.3" x2="211.86" y2="520.3" stroke-width="1.6"/>
<line x1="222.39" y1="931.3" x2="222.39" y2="926.3" stroke-width="1.6"/>
<line x1="222.39" y1="515.3" x2="222.39" y2="520.3" stroke-width="1.6"/>
<line x1="231.29" y1="931.3" x2="231.29" y2="926.3" stroke-width="1.6"/>
<line x1="231.29" y1="515.3" x2="231.29" y2="520.3" stroke-width="1.6"/>
<line x1="239" y1="931.3" x2="239" y2="926.3" stroke-width="1.6"/>
<line x1="239" y1="515.3" x2="239" y2="520.3" stroke-width="1.6"/>
<line x1="245.8" y1="931.3" x2="245.8" y2="926.3" stroke-width="1.6"/>
<line x1="245.8" y1="515.3" x2="245.8" y2="520.3" stroke-width="1.6"/>
<line x1="251.88" y1="931.3" x2="251.88" y2="922.5" stroke-width="2.2"/>
<line x1="251.88" y1="515.3" x2="251.88" y2="524.1" stroke-width="2.2"/>
<line x1="291.91" y1="931.3" x2="291.91" y2="926.3" stroke-width="1.6"/>
<line x1="291.91" y1="515.3" x2="291.91" y2="520.3" stroke-width="1.6"/>
<line x1="315.32" y1="931.3" x2="315.32" y2="926.3" stroke-width="1.6"/>
<line x1="315.32" y1="515.3" x2="315.32" y2="520.3" stroke-width="1.6"/>
<line x1="331.93" y1="931.3" x2="331.93" y2="926.3" stroke-width="1.6"/>
<line x1="331.93" y1="515.3" x2="331.93" y2="520.3" stroke-width="1.6"/>
<line x1="344.82" y1="931.3" x2="344.82" y2="926.3" stroke-width="1.6"/>
<line x1="344.82" y1="515.3" x2="344.82" y2="520.3" stroke-width="1.6"/>
<line x1="355.35" y1="931.3" x2="355.35" y2="926.3" stroke-width="1.6"/>
<line x1="355.35" y1="515.3" x2="355.35" y2="520.3" stroke-width="1.6"/>
<line x1="364.25" y1="931.3" x2="364.25" y2="926.3" stroke-width="1.6"/>
<line x1="364.25" y1="515.3" x2="364.25" y2="520.3" stroke-width="1.6"/>
<line x1="371.96" y1="931.3" x2="371.96" y2="926.3" stroke-width="1.6"/>
<line x1="371.96" y1="515.3" x2="371.96" y2="520.3" stroke-width="1.6"/>
<line x1="378.76" y1="931.3" x2="378.76" y2="926.3" stroke-width="1.6"/>
<line x1="378.76" y1="515.3" x2="378.76" y2="520.3" stroke-width="1.6"/>
<line x1="384.84" y1="931.3" x2="384.84" y2="922.5" stroke-width="2.2"/>
<line x1="384.84" y1="515.3" x2="384.84" y2="524.1" stroke-width="2.2"/>
<line x1="424.87" y1="931.3" x2="424.87" y2="926.3" stroke-width="1.6"/>
<line x1="424.87" y1="515.3" x2="424.87" y2="520.3" stroke-width="1.6"/>
<line x1="448.28" y1="931.3" x2="448.28" y2="926.3" stroke-width="1.6"/>
<line x1="448.28" y1="515.3" x2="448.28" y2="520.3" stroke-width="1.6"/>
<line x1="464.89" y1="931.3" x2="464.89" y2="926.3" stroke-width="1.6"/>
<line x1="464.89" y1="515.3" x2="464.89" y2="520.3" stroke-width="1.6"/>
<line x1="477.78" y1="931.3" x2="477.78" y2="926.3" stroke-width="1.6"/>
<line x1="477.78" y1="515.3" x2="477.78" y2="520.3" stroke-width="1.6"/>
<line x1="488.31" y1="931.3" x2="488.31" y2="926.3" stroke-width="1.6"/>
<line x1="488.31" y1="515.3" x2="488.31" y2="520.3" stroke-width="1.6"/>
<line x1="497.21" y1="931.3" x2="497.21" y2="926.3" stroke-width="1.6"/>
<line x1="497.21" y1="515.3" x2="497.21" y2="520.3" stroke-width="1.6"/>
<line x1="504.92" y1="931.3" x2="504.92" y2="926.3" stroke-width="1.6"/>
<line x1="504.92" y1="515.3" x2="504.92" y2="520.3" stroke-width="1.6"/>
<line x1="511.72" y1="931.3" x2="511.72" y2="926.3" stroke-width="1.6"/>
<line x1="511.72" y1="515.3" x2="511.72" y2="520.3" stroke-width="1.6"/>
<line x1="517.8" y1="931.3" x2="517.8" y2="922.5" stroke-width="2.2"/>
<line x1="517.8" y1="515.3" x2="517.8" y2="524.1" stroke-width="2.2"/>
<line x1="557.83" y1="931.3" x2="557.83" y2="926.3" stroke-width="1.6"/>
<line x1="557.83" y1="515.3" x2="557.83" y2="520.3" stroke-width="1.6"/>
<line x1="581.24" y1="931.3" x2="581.24" y2="926.3" stroke-width="1.6"/>
<line x1="581.24" y1="515.3" x2="581.24" y2="520.3" stroke-width="1.6"/>
<line x1="78.9" y1="931.31" x2="87.7" y2="931.31" stroke-width="2.2"/>
<line x1="581.3" y1="931.31" x2="572.5" y2="931.31" stroke-width="2.2"/>
<line x1="78.9" y1="889.57" x2="83.9" y2="889.57" stroke-width="1.6"/>
<line x1="581.3" y1="889.57" x2="576.3" y2="889.57" stroke-width="1.6"/>
<line x1="78.9" y1="865.15" x2="83.9" y2="865.15" stroke-width="1.6"/>
<line x1="581.3" y1="865.15" x2="576.3" y2="865.15" stroke-width="1.6"/>
<line x1="78.9" y1="847.82" x2="83.9" y2="847.82" stroke-width="1.6"/>
<line x1="581.3" y1="847.82" x2="576.3" y2="847.82" stroke-width="1.6"/>
<line x1="78.9" y1="834.38" x2="83.9" y2="834.38" stroke-width="1.6"/>
<line x1="581.3" y1="834.38" x2="576.3" y2="834.38" stroke-width="1.6"/>
<line x1="78.9" y1="823.4" x2="83.9" y2="823.4" stroke-width="1.6"/>
<line x1="581.3" y1="823.4" x2="576.3" y2="823.4" stroke-width="1.6"/>
<line x1="78.9" y1="814.12" x2="83.9" y2="814.12" stroke-width="1.6"/>
<line x1="581.3" y1="814.12" x2="576.3" y2="814.12" stroke-width="1.6"/>
<line x1="78.9" y1="806.08" x2="83.9" y2="806.08" stroke-width="1.6"/>
<line x1="581.3" y1="806.08" x2="576.3" y2="806.08" stroke-width="1.6"/>
<line x1="78.9" y1="798.99" x2="83.9" y2="798.99" stroke-width="1.6"/>
<line x1="581.3" y1="798.99" x2="576.3" y2="798.99" stroke-width="1.6"/>
<line x1="78.9" y1="792.64" x2="87.7" y2="792.64" stroke-width="2.2"/>
<line x1="581.3" y1="792.64" x2="572.5" y2="792.64" stroke-width="2.2"/>
<line x1="78.9" y1="750.9" x2="83.9" y2="750.9" stroke-width="1.6"/>
<line x1="581.3" y1="750.9" x2="576.3" y2="750.9" stroke-width="1.6"/>
<line x1="78.9" y1="726.48" x2="83.9" y2="726.48" stroke-width="1.6"/>
<line x1="581.3" y1="726.48" x2="576.3" y2="726.48" stroke-width="1.6"/>
<line x1="78.9" y1="709.15" x2="83.9" y2="709.15" stroke-width="1.6"/>
<line x1="581.3" y1="709.15" x2="576.3" y2="709.15" stroke-width="1.6"/>
<line x1="78.9" y1="695.71" x2="83.9" y2="695.71" stroke-width="1.6"/>
<line x1="581.3" y1="695.71" x2="576.3" y2="695.71" stroke-width="1.6"/>
<line x1="78.9" y1="684.73" x2="83.9" y2="684.73" stroke-width="1.6"/>
<line x1="581.3" y1="684.73" x2="576.3" y2="684.73" stroke-width="1.6"/>
<line x1="78.9" y1="675.45" x2="83.9" y2="675.45" stroke-width="1.6"/>
<line x1="581.3" y1="675.45" x2="576.3" y2="675.45" stroke-width="1.6"/>
<line x1="78.9" y1="667.41" x2="83.9" y2="667.41" stroke-width="1.6"/>
<line x1="581.3" y1="667.41" x2="576.3" y2="667.41" stroke-width="1.6"/>
<line x1="78.9" y1="660.32" x2="83.9" y2="660.32" stroke-width="1.6"/>
<line x1="581.3" y1="660.32" x2="576.3" y2="660.32" stroke-width="1.6"/>
<line x1="78.9" y1="653.97" x2="87.7" y2="653.97" stroke-width="2.2"/>
<line x1="581.3" y1="653.97" x2="572.5" y2="653.97" stroke-width="2.2"/>
<line x1="78.9" y1="612.23" x2="83.9" y2="612.23" stroke-width="1.6"/>
<line x1="581.3" y1="612.23" x2="576.3" y2="612.23" stroke-width="1.6"/>
<line x1="78.9" y1="587.81" x2="83.9" y2="587.81" stroke-width="1.6"/>
<line x1="581.3" y1="587.81" x2="576.3" y2="587.81" stroke-width="1.6"/>
<line x1="78.9" y1="570.48" x2="83.9" y2="570.48" stroke-width="1.6"/>
<line x1="581.3" y1="570.48" x2="576.3" y2="570.48" stroke-width="1.6"/>
<line x1="78.9" y1="557.04" x2="83.9" y2="557.04" stroke-width="1.6"/>
<line x1="581.3" y1="557.04" x2="576.3" y2="557.04" stroke-width="1.6"/>
<line x1="78.9" y1="546.06" x2="83.9" y2="546.06" stroke-width="1.6"/>
<line x1="581.3" y1="546.06" x2="576.3" y2="546.06" stroke-width="1.6"/>
<line x1="78.9" y1="536.78" x2="83.9" y2="536.78" stroke-width="1.6"/>
<line x1="581.3" y1="536.78" x2="576.3" y2="536.78" stroke-width="1.6"/>
<line x1="78.9" y1="528.74" x2="83.9" y2="528.74" stroke-width="1.6"/>
<line x1="581.3" y1="528.74" x2="576.3" y2="528.74" stroke-width="1.6"/>
<line x1="78.9" y1="521.65" x2="83.9" y2="521.65" stroke-width="1.6"/>
<line x1="581.3" y1="521.65" x2="576.3" y2="521.65" stroke-width="1.6"/>
<line x1="78.9" y1="515.3" x2="87.7" y2="515.3" stroke-width="2.2"/>
<line x1="581.3" y1="515.3" x2="572.5" y2="515.3" stroke-width="2.2"/>
</g>
<g transform="translate(104.29,954.3) scale(1,1.08)"><text x="0" y="0" font-family='"Liberation Serif", serif' font-size="22.0">10<tspan font-size="16.3" dx="0.6" dy="-8.24">2</tspan></text></g>
<g transform="translate(237.25,954.3) scale(1,1.08)"><text x="0" y="0" font-family='"Liberation Serif", serif' font-size="22.0">10<tspan font-size="16.3" dx="0.6" dy="-8.24">3</tspan></text></g>
<g transform="translate(370.21,954.3) scale(1,1.08)"><text x="0" y="0" font-family='"Liberation Serif", serif' font-size="22.0">10<tspan font-size="16.3" dx="0.6" dy="-8.24">4</tspan></text></g>
<g transform="translate(503.17,954.3) scale(1,1.08)"><text x="0" y="0" font-family='"Liberation Serif", serif' font-size="22.0">10<tspan font-size="16.3" dx="0.6" dy="-8.24">5</tspan></text></g>
<g transform="translate(0,939.21) scale(1,1.08)">
<text x="50.54" y="0" text-anchor="end" font-family='"Liberation Serif", serif' font-size="22.0">10</text>
<text x="71.1" y="-7.59" text-anchor="end" font-family='"Liberation Serif", serif' font-size="16.3">5</text>
<rect x="51.6" y="-12.13" width="9.6" height="1.06" fill="#000"/>
</g>
<g transform="translate(0,800.54) scale(1,1.08)">
<text x="50.54" y="0" text-anchor="end" font-family='"Liberation Serif", serif' font-size="22.0">10</text>
<text x="71.1" y="-7.59" text-anchor="end" font-family='"Liberation Serif", serif' font-size="16.3">4</text>
<rect x="51.6" y="-12.13" width="9.6" height="1.06" fill="#000"/>
</g>
<g transform="translate(0,661.87) scale(1,1.08)">
<text x="50.54" y="0" text-anchor="end" font-family='"Liberation Serif", serif' font-size="22.0">10</text>
<text x="71.1" y="-7.59" text-anchor="end" font-family='"Liberation Serif", serif' font-size="16.3">3</text>
<rect x="51.6" y="-12.13" width="9.6" height="1.06" fill="#000"/>
</g>
<g transform="translate(0,523.2) scale(1,1.08)">
<text x="50.54" y="0" text-anchor="end" font-family='"Liberation Serif", serif' font-size="22.0">10</text>
<text x="71.1" y="-7.59" text-anchor="end" font-family='"Liberation Serif", serif' font-size="16.3">2</text>
<rect x="51.6" y="-12.13" width="9.6" height="1.06" fill="#000"/>
</g>
<g font-family='"Liberation Serif", serif' font-size="22.4" fill="#000">
<text x="330.1" y="510.4" text-anchor="middle">MJD 58224.65603 – 58231.65603</text>
<text x="330.1" y="976.6" text-anchor="middle">Energy (MeV)</text>
<g transform="translate(19.55,845.95) rotate(-90)">
<text x="0" y="0" font-size="22.4">E</text>
<text x="13.9" y="-7.4" font-size="16">2</text>
<text x="27.39" y="0" font-size="22.4">dN/dE</text>
<text x="90.61" y="0" font-size="22.4">(MeV</text>
<text x="150.75" y="0" font-size="22.4">cm</text>
<text x="191.8" y="-7.4" font-size="16">2</text>
<text x="206.18" y="0" font-size="22.4">s</text>
<text x="228.09" y="-7.4" font-size="16">1</text>
<text x="236.21" y="0" font-size="22.4">)</text>
<rect x="180.8" y="-12.42" width="8.9" height="1.15" fill="#000"/>
<rect x="216.7" y="-12.42" width="9" height="1.15" fill="#000"/>
</g>
</g>
<rect x="408.3" y="528.6" width="30.6" height="11.4" fill="#ccccff" stroke="#b8b8f5" stroke-width="0.8"/>
<rect x="408.3" y="549.6" width="30.6" height="11.4" fill="#ffccff" stroke="#f5b8f5" stroke-width="0.8"/>
<rect x="508" y="528.6" width="30.6" height="11.4" fill="#cce6cc" stroke="#bcdcbc" stroke-width="0.8"/>
<g font-family='"Liberation Serif", serif' font-size="15.6" fill="#000">
<text x="450.45" y="539.4">BPL</text>
<text x="450.45" y="560.8">LP</text>
<text x="550.25" y="539.4">PL</text>
</g>
<clipPath id="c3"><rect x="671.3" y="515.3" width="502.4" height="416"/></clipPath>
<g clip-path="url(#c3)">
<polygon points="711.32,669.5 713.26,669.07 715.19,668.64 717.13,668.21 719.06,667.78 721,667.35 722.93,666.92 724.87,666.5 726.8,666.07 728.74,665.64 730.67,665.21 732.61,664.78 734.54,664.35 736.48,663.92 738.41,663.49 740.34,663.06 742.28,662.63 744.21,662.2 746.15,661.78 748.08,661.35 750.02,660.92 751.95,660.49 753.89,660.06 755.82,659.63 757.76,659.2 759.69,658.77 761.63,658.34 763.56,657.91 765.49,657.48 767.43,657.05 769.36,656.63 771.3,656.2 773.23,655.77 775.17,655.34 777.1,654.91 779.04,654.48 780.97,654.05 782.91,653.62 784.84,653.19 786.78,652.76 788.71,652.33 790.64,651.9 792.58,651.48 794.51,651.05 796.45,650.62 798.38,650.19 800.32,649.76 802.25,649.33 804.19,648.9 806.12,648.47 808.06,648.04 809.99,647.61 811.93,647.18 813.86,646.75 815.79,646.33 817.73,645.9 819.66,645.47 821.6,645.04 823.53,644.61 825.47,644.18 827.4,643.75 829.34,643.32 831.27,642.89 833.21,642.46 835.14,642.03 837.08,641.61 839.01,641.18 840.94,640.76 842.88,640.34 844.81,639.95 846.75,639.61 848.68,639.37 850.62,639.33 852,639.49 852.55,639.6 854.49,640.18 856.42,641.01 858.36,641.98 860.29,643.02 862.23,644.09 864.16,645.17 866.09,646.26 868.03,647.34 869.96,648.44 871.9,649.53 873.83,650.62 875.77,651.71 877.7,652.8 879.64,653.89 881.57,654.98 883.51,656.08 885.44,657.17 887.38,658.26 889.31,659.35 891.24,660.39 893.18,661.4 895.11,662.41 897.05,663.42 898.98,664.43 900.92,665.44 902.85,666.46 904.79,667.47 906.72,668.48 908.66,669.49 910.59,670.5 912.53,671.51 914.46,672.52 916.4,673.53 918.33,674.54 920.26,675.55 922.2,676.56 924.13,677.57 926.07,678.59 928,679.6 929.94,680.61 931.87,681.62 933.81,682.63 935.74,683.64 937.68,684.65 939.61,685.66 941.55,686.67 943.48,687.68 945.41,688.69 947.35,689.71 949.28,690.72 951.22,691.72 953.15,692.71 955.09,693.71 957.02,694.71 958.96,695.7 960.89,696.7 962.83,697.7 964.76,698.69 966.7,699.69 968.63,700.69 970.56,701.68 972.5,702.68 974.43,703.67 976.37,704.67 978.3,705.67 980.24,706.66 982.17,707.66 984.11,708.66 986.04,709.65 987.98,710.65 989.91,711.65 991.85,712.64 993.78,713.64 995.71,714.63 997.65,715.63 999.58,716.63 1001.52,717.62 1003.45,718.62 1005.39,719.62 1007.32,720.61 1009.26,721.61 1011.19,722.6 1013.13,723.5 1015.06,724.41 1017,725.31 1018.93,726.21 1020.86,727.12 1022.8,728.02 1024.73,728.93 1026.67,729.83 1028.6,730.74 1030.54,731.64 1032.47,732.55 1034.41,733.45 1036.34,734.36 1038.28,735.26 1040.21,736.16 1042.15,737.07 1044.08,737.97 1046.01,738.88 1047.95,739.78 1049.88,740.69 1051.82,741.59 1053.75,742.5 1055.69,743.4 1057.62,744.31 1059.56,745.21 1061.49,746.12 1063.43,747.02 1065.36,747.92 1067.3,748.83 1069.23,749.73 1071.16,750.66 1073.1,751.61 1075.03,752.55 1076.97,753.49 1078.9,754.44 1080.84,755.38 1082.77,756.33 1084.71,757.27 1086.64,758.21 1088.58,759.16 1090.51,760.1 1092.45,761.05 1094.38,761.99 1096.32,762.94 1098.25,763.88 1100.18,764.82 1102.12,765.77 1104.05,766.71 1105.99,767.66 1107.92,768.6 1109.86,769.54 1111.79,770.49 1113.73,771.43 1115.66,772.38 1117.6,773.32 1119.53,774.26 1121.47,775.21 1123.4,776.15 1125.33,777.1 1127.27,778.04 1129.2,778.99 1131.14,779.93 1133.07,780.87 1135.01,781.82 1136.94,782.76 1138.88,783.71 1140.81,784.65 1142.75,785.59 1144.68,786.54 1146.62,787.48 1148.55,788.43 1150.48,789.37 1152.42,790.31 1154.35,791.26 1156.29,792.2 1158.22,793.15 1160.16,794.09 1162.09,795.04 1164.03,795.98 1165.96,796.92 1167.9,797.87 1169.83,798.81 1171.77,799.76 1173.7,800.7 1173.7,845.9 1171.77,844.66 1169.83,843.42 1167.9,842.18 1165.96,840.94 1164.03,839.71 1162.09,838.47 1160.16,837.23 1158.22,835.99 1156.29,834.75 1154.35,833.51 1152.42,832.27 1150.48,831.03 1148.55,829.79 1146.62,828.56 1144.68,827.32 1142.75,826.08 1140.81,824.84 1138.88,823.6 1136.94,822.36 1135.01,821.12 1133.07,819.88 1131.14,818.64 1129.2,817.41 1127.27,816.17 1125.33,814.93 1123.4,813.69 1121.47,812.45 1119.53,811.21 1117.6,809.97 1115.66,808.73 1113.73,807.49 1111.79,806.26 1109.86,805.02 1107.92,803.78 1105.99,802.54 1104.05,801.3 1102.12,800.06 1100.18,798.82 1098.25,797.58 1096.32,796.34 1094.38,795.11 1092.45,793.87 1090.51,792.63 1088.58,791.39 1086.64,790.15 1084.71,788.91 1082.77,787.67 1080.84,786.43 1078.9,785.19 1076.97,783.96 1075.03,782.72 1073.1,781.48 1071.16,780.24 1069.23,778.98 1067.3,777.71 1065.36,776.43 1063.43,775.15 1061.49,773.87 1059.56,772.59 1057.62,771.31 1055.69,770.04 1053.75,768.76 1051.82,767.48 1049.88,766.2 1047.95,764.92 1046.01,763.64 1044.08,762.37 1042.15,761.09 1040.21,759.81 1038.28,758.53 1036.34,757.25 1034.41,755.97 1032.47,754.7 1030.54,753.42 1028.6,752.14 1026.67,750.86 1024.73,749.58 1022.8,748.3 1020.86,747.02 1018.93,745.75 1017,744.47 1015.06,743.19 1013.13,741.91 1011.19,740.63 1009.26,739.44 1007.32,738.25 1005.39,737.06 1003.45,735.88 1001.52,734.69 999.58,733.5 997.65,732.32 995.71,731.13 993.78,729.94 991.85,728.76 989.91,727.57 987.98,726.38 986.04,725.2 984.11,724.01 982.17,722.82 980.24,721.64 978.3,720.45 976.37,719.26 974.43,718.08 972.5,716.89 970.56,715.7 968.63,714.52 966.7,713.33 964.76,712.14 962.83,710.96 960.89,709.77 958.96,708.58 957.02,707.4 955.09,706.21 953.15,705.02 951.22,703.84 949.28,702.66 947.35,701.48 945.41,700.31 943.48,699.14 941.55,697.97 939.61,696.8 937.68,695.62 935.74,694.45 933.81,693.28 931.87,692.11 929.94,690.94 928,689.76 926.07,688.59 924.13,687.42 922.2,686.25 920.26,685.08 918.33,683.9 916.4,682.73 914.46,681.56 912.53,680.39 910.59,679.21 908.66,678.04 906.72,676.87 904.79,675.7 902.85,674.53 900.92,673.35 898.98,672.18 897.05,671.01 895.11,669.84 893.18,668.67 891.24,667.49 889.31,666.35 887.38,665.26 885.44,664.17 883.51,663.08 881.57,661.98 879.64,660.89 877.7,659.8 875.77,658.71 873.83,657.62 871.9,656.53 869.96,655.44 868.03,654.34 866.09,653.26 864.16,652.17 862.23,651.09 860.29,650.02 858.36,648.98 856.42,648.01 854.49,647.18 852.55,646.6 852,646.49 850.62,646.33 848.68,646.35 846.75,646.56 844.81,646.88 842.88,647.25 840.94,647.64 839.01,648.04 837.08,648.45 835.14,648.85 833.21,649.26 831.27,649.67 829.34,650.07 827.4,650.48 825.47,650.89 823.53,651.29 821.6,651.7 819.66,652.11 817.73,652.52 815.79,652.92 813.86,653.33 811.93,653.74 809.99,654.14 808.06,654.55 806.12,654.96 804.19,655.36 802.25,655.77 800.32,656.18 798.38,656.59 796.45,656.99 794.51,657.4 792.58,657.81 790.64,658.21 788.71,658.62 786.78,659.03 784.84,659.43 782.91,659.84 780.97,660.25 779.04,660.66 777.1,661.06 775.17,661.47 773.23,661.88 771.3,662.28 769.36,662.69 767.43,663.1 765.49,663.5 763.56,663.91 761.63,664.32 759.69,664.73 757.76,665.13 755.82,665.54 753.89,665.95 751.95,666.35 750.02,666.76 748.08,667.17 746.15,667.57 744.21,667.98 742.28,668.39 740.34,668.8 738.41,669.2 736.48,669.61 734.54,670.02 732.61,670.42 730.67,670.83 728.74,671.24 726.8,671.64 724.87,672.05 722.93,672.46 721,672.87 719.06,673.27 717.13,673.68 715.19,674.09 713.26,674.49 711.32,674.9" fill="#ccccff"/>
<polygon points="711.32,654.5 719.16,654.84 727,655.17 734.84,655.5 742.67,655.82 750.51,656.14 758.35,656.46 766.18,656.77 774.02,657.07 781.86,657.36 789.69,657.65 797.53,657.93 805.37,658.2 813.2,658.47 821.04,658.71 828.88,658.95 836.71,659.17 844.55,659.38 852.39,659.58 860.23,659.77 868.06,659.95 875.9,660.13 883.74,660.3 891.57,660.46 899.41,660.62 907.25,660.78 915.08,660.93 922.92,661.08 930.76,661.23 938.59,661.37 946.43,661.51 954.27,661.65 962.1,661.79 969.94,661.93 977.78,662.07 985.62,662.2 993.45,662.34 1001.29,662.47 1009.13,662.61 1016.96,662.74 1024.8,662.87 1032.64,663 1040.47,663.13 1048.31,663.26 1056.15,663.39 1063.98,663.52 1071.82,663.65 1079.66,663.78 1087.49,663.91 1095.33,664.03 1103.17,664.16 1111.01,664.29 1118.84,664.42 1126.68,664.54 1134.52,664.67 1142.35,664.8 1150.19,664.92 1158.03,665.05 1165.86,665.17 1173.7,665.3 1173.7,679.7 1165.86,679.28 1158.03,678.87 1150.19,678.45 1142.35,678.03 1134.52,677.62 1126.68,677.2 1118.84,676.79 1111.01,676.37 1103.17,675.96 1095.33,675.54 1087.49,675.13 1079.66,674.71 1071.82,674.3 1063.98,673.89 1056.15,673.47 1048.31,673.06 1040.47,672.65 1032.64,672.24 1024.8,671.82 1016.96,671.41 1009.13,671 1001.29,670.6 993.45,670.19 985.62,669.78 977.78,669.37 969.94,668.97 962.1,668.56 954.27,668.16 946.43,667.76 938.59,667.36 930.76,666.96 922.92,666.57 915.08,666.17 907.25,665.78 899.41,665.4 891.57,665.01 883.74,664.64 875.9,664.26 868.06,663.9 860.23,663.54 852.39,663.18 844.55,662.84 836.71,662.51 828.88,662.19 821.04,661.88 813.2,661.58 805.37,661.3 797.53,661.03 789.69,660.77 781.86,660.52 774.02,660.27 766.18,660.03 758.35,659.8 750.51,659.57 742.67,659.35 734.84,659.13 727,658.91 719.16,658.71 711.32,658.5" fill="#cce6cc"/>
<polygon points="711.32,649.48 712.87,649.9 714.42,650.33 715.96,650.78 717.51,651.25 719.06,651.73 720.6,652.22 722.15,652.72 723.7,653.24 725.24,653.78 726.79,654.33 728.34,654.89 729.88,655.47 731.43,656.06 732.97,656.67 734.52,657.29 736.07,657.92 737.61,658.57 739.16,659.24 740.71,659.89 742.25,660.53 743.8,661.19 745.35,661.85 746.89,662.54 748.44,663.24 749.99,663.95 751.53,664.68 753.08,665.42 754.62,666.18 756.17,666.95 757.72,667.74 759.26,668.55 760.81,669.37 762.36,670.2 763.9,671.05 765.45,671.91 767,672.79 768.54,673.69 770.09,674.6 771.63,675.52 773.18,676.47 774.73,677.42 776.27,678.4 777.82,679.38 779.37,680.39 780.91,681.39 782.46,682.4 784.01,683.42 785.55,684.45 787.1,685.51 788.65,686.57 790.19,687.66 791.74,688.76 793.28,689.88 794.83,691.01 796.38,692.16 797.92,693.32 799.47,694.5 801.02,695.7 802.56,696.92 804.11,698.15 805.66,699.39 807.2,700.65 808.75,701.93 810.29,703.23 811.84,704.54 813.39,705.87 814.93,707.22 816.48,708.58 818.03,709.96 819.57,711.35 821.12,712.76 822.67,714.19 824.21,715.64 825.76,717.1 827.31,718.58 828.85,720.08 830.4,721.59 831.94,723.12 833.49,724.67 835.04,726.23 836.58,727.82 838.13,729.41 839.68,731.03 841.22,732.66 842.77,734.32 844.32,735.98 845.86,737.67 847.41,739.37 848.95,741.09 850.5,742.83 852.05,744.59 853.59,746.36 855.14,748.15 856.69,749.96 858.23,751.79 859.78,753.63 861.33,755.5 862.87,757.38 864.42,759.28 865.97,761.19 867.51,763.13 869.06,765.08 870.6,767.05 872.15,769.04 873.7,771.04 875.24,773.07 876.79,775.11 878.34,777.17 879.88,779.25 881.43,781.35 882.98,783.47 884.52,785.6 886.07,787.76 887.62,789.93 889.16,792.12 890.71,794.33 892.25,796.56 893.8,798.8 895.35,801.07 896.89,803.35 898.44,805.66 899.99,807.98 901.53,810.32 903.08,812.68 904.63,815.06 906.17,817.45 907.72,819.87 909.26,822.31 910.81,824.76 912.36,827.24 913.9,829.73 915.45,832.24 917,834.78 918.54,837.33 920.09,839.9 921.64,842.49 923.18,845.1 924.73,847.73 926.28,850.38 927.82,853.05 929.37,855.74 930.91,858.44 932.46,861.17 934.01,863.92 935.55,866.69 937.1,869.47 938.65,872.28 940.19,875.11 941.74,877.96 943.29,880.82 944.83,883.71 946.38,886.62 947.92,889.54 949.47,892.49 951.02,895.46 952.56,898.45 954.11,901.46 955.66,904.49 957.2,907.54 958.75,910.61 960.3,913.7 961.84,916.81 963.39,919.94 964.94,923.09 966.48,926.26 968.03,929.46 969.57,932.67 971.12,935.91 972.67,939.16 974.21,942.44 975.76,945.74 977.31,949.05 978.85,952.39 980.4,955.75 981.95,959.14 983.49,962.54 985.04,965.96 986.59,969.41 988.13,972.87 989.68,976.36 991.22,979.87 992.77,983.4 994.32,986.95 995.86,990.52 997.41,994.12 998.96,997.74 1000.5,1001.37 1002.05,1005.03 1003.6,1008.71 1005.14,1012.42 1006.69,1016.14 1008.23,1019.89 1009.78,1023.65 1011.33,1027.44 1012.87,1031.26 1014.42,1035.09 1015.97,1038.94 1017.51,1042.82 1019.06,1046.72 1020.61,1050.64 1022.15,1054.59 1023.7,1058.55 1025.25,1062.54 1026.79,1066.55 1028.34,1070.59 1029.88,1074.64 1031.43,1078.72 1032.98,1082.82 1034.52,1086.94 1036.07,1091.09 1037.62,1095.25 1039.16,1099.44 1040.71,1103.66 1042.26,1107.89 1043.8,1112.15 1045.35,1116.43 1046.89,1120.74 1048.44,1125.06 1049.99,1129.41 1051.53,1133.79 1053.08,1138.18 1054.63,1142.6 1056.17,1147.04 1057.72,1151.51 1059.27,1155.99 1060.81,1160.5 1062.36,1165.04 1063.91,1169.6 1065.45,1174.18 1067,1178.78 1068.54,1183.41 1070.09,1188.06 1071.64,1192.73 1073.18,1197.43 1074.73,1202.15 1076.28,1206.9 1077.82,1211.67 1079.37,1216.46 1080.92,1221.28 1082.46,1226.12 1084.01,1230.98 1085.55,1235.87 1087.1,1240.78 1088.65,1245.71 1090.19,1250.67 1091.74,1255.66 1093.29,1260.66 1094.83,1265.7 1096.38,1270.75 1097.93,1275.83 1099.47,1280.94 1101.02,1286.06 1102.57,1291.22 1104.11,1296.39 1105.66,1301.59 1107.2,1306.82 1108.75,1312.07 1110.3,1317.35 1111.84,1322.64 1113.39,1327.97 1114.94,1333.32 1116.48,1338.69 1118.03,1344.09 1119.58,1349.51 1121.12,1354.96 1122.67,1360.43 1124.22,1365.93 1125.76,1371.45 1127.31,1377 1128.85,1382.57 1130.4,1388.17 1131.95,1393.79 1133.49,1399.43 1135.04,1405.11 1136.59,1410.81 1138.13,1416.53 1139.68,1422.28 1141.23,1428.05 1142.77,1433.85 1144.32,1439.67 1145.86,1445.52 1147.41,1451.4 1148.96,1457.3 1150.5,1463.23 1152.05,1469.18 1153.6,1475.16 1155.14,1481.16 1156.69,1487.19 1158.24,1493.24 1159.78,1499.32 1161.33,1505.43 1162.88,1511.56 1164.42,1517.72 1165.97,1523.91 1167.51,1530.12 1169.06,1536.35 1170.61,1542.62 1172.15,1548.9 1173.7,1555.22 1173.7,1558.22 1172.15,1551.9 1170.61,1545.6 1169.06,1539.34 1167.51,1533.09 1165.97,1526.88 1164.42,1520.69 1162.88,1514.52 1161.33,1508.39 1159.78,1502.27 1158.24,1496.19 1156.69,1490.13 1155.14,1484.09 1153.6,1478.08 1152.05,1472.1 1150.5,1466.14 1148.96,1460.21 1147.41,1454.3 1145.86,1448.42 1144.32,1442.57 1142.77,1436.74 1141.23,1430.93 1139.68,1425.16 1138.13,1419.4 1136.59,1413.67 1135.04,1407.97 1133.49,1402.29 1131.95,1396.64 1130.4,1391.01 1128.85,1385.41 1127.31,1379.83 1125.76,1374.28 1124.22,1368.75 1122.67,1363.25 1121.12,1357.77 1119.58,1352.32 1118.03,1346.89 1116.48,1341.49 1114.94,1336.11 1113.39,1330.75 1111.84,1325.42 1110.3,1320.12 1108.75,1314.84 1107.2,1309.58 1105.66,1304.35 1104.11,1299.15 1102.57,1293.96 1101.02,1288.81 1099.47,1283.67 1097.93,1278.56 1096.38,1273.48 1094.83,1268.42 1093.29,1263.38 1091.74,1258.37 1090.19,1253.38 1088.65,1248.41 1087.1,1243.47 1085.55,1238.55 1084.01,1233.66 1082.46,1228.79 1080.92,1223.95 1079.37,1219.12 1077.82,1214.33 1076.28,1209.55 1074.73,1204.8 1073.18,1200.07 1071.64,1195.37 1070.09,1190.69 1068.54,1186.03 1067,1181.4 1065.45,1176.79 1063.91,1172.21 1062.36,1167.64 1060.81,1163.1 1059.27,1158.59 1057.72,1154.09 1056.17,1149.62 1054.63,1145.18 1053.08,1140.75 1051.53,1136.35 1049.99,1131.97 1048.44,1127.62 1046.89,1123.29 1045.35,1118.98 1043.8,1114.69 1042.26,1110.43 1040.71,1106.18 1039.16,1101.97 1037.62,1097.77 1036.07,1093.6 1034.52,1089.45 1032.98,1085.32 1031.43,1081.21 1029.88,1077.13 1028.34,1073.07 1026.79,1069.03 1025.25,1065.01 1023.7,1061.02 1022.15,1057.05 1020.61,1053.1 1019.06,1049.17 1017.51,1045.27 1015.97,1041.38 1014.42,1037.52 1012.87,1033.68 1011.33,1029.87 1009.78,1026.07 1008.23,1022.3 1006.69,1018.55 1005.14,1014.82 1003.6,1011.11 1002.05,1007.42 1000.5,1003.76 998.96,1000.11 997.41,996.49 995.86,992.89 994.32,989.31 992.77,985.76 991.22,982.22 989.68,978.71 988.13,975.21 986.59,971.74 985.04,968.29 983.49,964.86 981.95,961.45 980.4,958.07 978.85,954.7 977.31,951.36 975.76,948.03 974.21,944.73 972.67,941.45 971.12,938.19 969.57,934.95 968.03,931.73 966.48,928.53 964.94,925.35 963.39,922.19 961.84,919.05 960.3,915.94 958.75,912.84 957.2,909.77 955.66,906.71 954.11,903.68 952.56,900.66 951.02,897.67 949.47,894.7 947.92,891.74 946.38,888.81 944.83,885.9 943.29,883 941.74,880.13 940.19,877.28 938.65,874.45 937.1,871.63 935.55,868.84 934.01,866.07 932.46,863.31 930.91,860.58 929.37,857.87 927.82,855.17 926.28,852.5 924.73,849.84 923.18,847.21 921.64,844.59 920.09,842 918.54,839.42 917,836.86 915.45,834.33 913.9,831.81 912.36,829.31 910.81,826.83 909.26,824.37 907.72,821.93 906.17,819.5 904.63,817.1 903.08,814.72 901.53,812.35 899.99,810 898.44,807.68 896.89,805.37 895.35,803.08 893.8,800.81 892.25,798.56 890.71,796.32 889.16,794.11 887.62,791.91 886.07,789.73 884.52,787.57 882.98,785.43 881.43,783.31 879.88,781.21 878.34,779.12 876.79,777.06 875.24,775.01 873.7,772.98 872.15,770.96 870.6,768.97 869.06,766.99 867.51,765.04 865.97,763.1 864.42,761.18 862.87,759.27 861.33,757.39 859.78,755.52 858.23,753.67 856.69,751.84 855.14,750.02 853.59,748.22 852.05,746.45 850.5,744.68 848.95,742.94 847.41,741.21 845.86,739.5 844.32,737.81 842.77,736.14 841.22,734.48 839.68,732.84 838.13,731.22 836.58,729.62 835.04,728.03 833.49,726.46 831.94,724.91 830.4,723.37 828.85,721.85 827.31,720.35 825.76,718.86 824.21,717.4 822.67,715.94 821.12,714.51 819.57,713.09 818.03,711.69 816.48,710.31 814.93,708.94 813.39,707.59 811.84,706.25 810.29,704.94 808.75,703.64 807.2,702.35 805.66,701.08 804.11,699.83 802.56,698.6 801.02,697.38 799.47,696.17 797.92,694.99 796.38,693.82 794.83,692.66 793.28,691.52 791.74,690.4 790.19,689.3 788.65,688.21 787.1,687.13 785.55,686.07 784.01,685.03 782.46,684 780.91,682.99 779.37,682.01 777.82,681.06 776.27,680.13 774.73,679.21 773.18,678.3 771.63,677.42 770.09,676.55 768.54,675.69 767,674.85 765.45,674.02 763.9,673.21 762.36,672.42 760.81,671.64 759.26,670.87 757.72,670.12 756.17,669.39 754.62,668.67 753.08,667.96 751.53,667.28 749.99,666.6 748.44,665.94 746.89,665.3 745.35,664.67 743.8,664.05 742.25,663.45 740.71,662.87 739.16,662.32 737.61,661.82 736.07,661.33 734.52,660.86 732.97,660.4 731.43,659.96 729.88,659.53 728.34,659.11 726.79,658.71 725.24,658.32 723.7,657.95 722.15,657.59 720.6,657.25 719.06,656.91 717.51,656.6 715.96,656.3 714.42,656.01 712.87,655.73 711.32,655.47" fill="#ffccff"/>
<line x1="711.32" y1="665.6" x2="768.31" y2="665.6" stroke="#ff0000" stroke-width="2.2"/>
<line x1="768.31" y1="653.1" x2="825.29" y2="653.1" stroke="#ff0000" stroke-width="2.2"/>
<line x1="825.29" y1="649.5" x2="882.27" y2="649.5" stroke="#ff0000" stroke-width="2.2"/>
<line x1="882.27" y1="671.7" x2="939.26" y2="671.7" stroke="#ff0000" stroke-width="2.2"/>
<line x1="910.76" y1="666.6" x2="910.76" y2="677.2" stroke="#ff0000" stroke-width="2.2"/>
<line x1="939.26" y1="708.3" x2="996.24" y2="708.3" stroke="#ff0000" stroke-width="2.2"/>
<line x1="967.75" y1="697.4" x2="967.75" y2="721.8" stroke="#ff0000" stroke-width="2.2"/>
<line x1="996.24" y1="739.8" x2="1053.22" y2="739.8" stroke="#ff0000" stroke-width="2.2"/>
<line x1="1024.73" y1="721.1" x2="1024.73" y2="767.5" stroke="#ff0000" stroke-width="2.2"/>
<line x1="1053.22" y1="803.1" x2="1173.64" y2="803.1" stroke="#ff0000" stroke-width="2.2"/>
<line x1="1113.43" y1="803.1" x2="1113.43" y2="845.8" stroke="#ff0000" stroke-width="2.2"/>
<polygon points="1110.43,843.8 1116.43,843.8 1113.43,849.1" fill="#ff0000"/>
<path d="M711.32,672.2 L713.26,671.78 L715.19,671.36 L717.13,670.95 L719.06,670.53 L721,670.11 L722.93,669.69 L724.87,669.27 L726.8,668.86 L728.74,668.44 L730.67,668.02 L732.61,667.6 L734.54,667.18 L736.48,666.77 L738.41,666.35 L740.34,665.93 L742.28,665.51 L744.21,665.09 L746.15,664.67 L748.08,664.26 L750.02,663.84 L751.95,663.42 L753.89,663 L755.82,662.58 L757.76,662.17 L759.69,661.75 L761.63,661.33 L763.56,660.91 L765.49,660.49 L767.43,660.08 L769.36,659.66 L771.3,659.24 L773.23,658.82 L775.17,658.4 L777.1,657.99 L779.04,657.57 L780.97,657.15 L782.91,656.73 L784.84,656.31 L786.78,655.9 L788.71,655.48 L790.64,655.06 L792.58,654.64 L794.51,654.22 L796.45,653.8 L798.38,653.39 L800.32,652.97 L802.25,652.55 L804.19,652.13 L806.12,651.71 L808.06,651.3 L809.99,650.88 L811.93,650.46 L813.86,650.04 L815.79,649.62 L817.73,649.21 L819.66,648.79 L821.6,648.37 L823.53,647.95 L825.47,647.53 L827.4,647.12 L829.34,646.7 L831.27,646.28 L833.21,645.86 L835.14,645.44 L837.08,645.03 L839.01,644.61 L840.94,644.2 L842.88,643.8 L844.81,643.42 L846.75,643.09 L848.68,642.86 L850.62,642.83 L852,642.99 L852.55,643.1 L854.49,643.68 L856.42,644.51 L858.36,645.48 L860.29,646.52 L862.23,647.59 L864.16,648.67 L866.09,649.76 L868.03,650.84 L869.96,651.94 L871.9,653.03 L873.83,654.12 L875.77,655.21 L877.7,656.3 L879.64,657.39 L881.57,658.48 L883.51,659.58 L885.44,660.67 L887.38,661.76 L889.31,662.85 L891.24,663.94 L893.18,665.03 L895.11,666.12 L897.05,667.22 L898.98,668.31 L900.92,669.4 L902.85,670.49 L904.79,671.58 L906.72,672.67 L908.66,673.77 L910.59,674.86 L912.53,675.95 L914.46,677.04 L916.4,678.13 L918.33,679.22 L920.26,680.31 L922.2,681.41 L924.13,682.5 L926.07,683.59 L928,684.68 L929.94,685.77 L931.87,686.86 L933.81,687.95 L935.74,689.05 L937.68,690.14 L939.61,691.23 L941.55,692.32 L943.48,693.41 L945.41,694.5 L947.35,695.59 L949.28,696.69 L951.22,697.78 L953.15,698.87 L955.09,699.96 L957.02,701.05 L958.96,702.14 L960.89,703.24 L962.83,704.33 L964.76,705.42 L966.7,706.51 L968.63,707.6 L970.56,708.69 L972.5,709.78 L974.43,710.88 L976.37,711.97 L978.3,713.06 L980.24,714.15 L982.17,715.24 L984.11,716.33 L986.04,717.42 L987.98,718.52 L989.91,719.61 L991.85,720.7 L993.78,721.79 L995.71,722.88 L997.65,723.97 L999.58,725.07 L1001.52,726.16 L1003.45,727.25 L1005.39,728.34 L1007.32,729.43 L1009.26,730.52 L1011.19,731.61 L1013.13,732.71 L1015.06,733.8 L1017,734.89 L1018.93,735.98 L1020.86,737.07 L1022.8,738.16 L1024.73,739.25 L1026.67,740.35 L1028.6,741.44 L1030.54,742.53 L1032.47,743.62 L1034.41,744.71 L1036.34,745.8 L1038.28,746.9 L1040.21,747.99 L1042.15,749.08 L1044.08,750.17 L1046.01,751.26 L1047.95,752.35 L1049.88,753.44 L1051.82,754.54 L1053.75,755.63 L1055.69,756.72 L1057.62,757.81 L1059.56,758.9 L1061.49,759.99 L1063.43,761.08 L1065.36,762.18 L1067.3,763.27 L1069.23,764.36 L1071.16,765.45 L1073.1,766.54 L1075.03,767.63 L1076.97,768.73 L1078.9,769.82 L1080.84,770.91 L1082.77,772 L1084.71,773.09 L1086.64,774.18 L1088.58,775.27 L1090.51,776.37 L1092.45,777.46 L1094.38,778.55 L1096.32,779.64 L1098.25,780.73 L1100.18,781.82 L1102.12,782.91 L1104.05,784.01 L1105.99,785.1 L1107.92,786.19 L1109.86,787.28 L1111.79,788.37 L1113.73,789.46 L1115.66,790.56 L1117.6,791.65 L1119.53,792.74 L1121.47,793.83 L1123.4,794.92 L1125.33,796.01 L1127.27,797.1 L1129.2,798.2 L1131.14,799.29 L1133.07,800.38 L1135.01,801.47 L1136.94,802.56 L1138.88,803.65 L1140.81,804.74 L1142.75,805.84 L1144.68,806.93 L1146.62,808.02 L1148.55,809.11 L1150.48,810.2 L1152.42,811.29 L1154.35,812.39 L1156.29,813.48 L1158.22,814.57 L1160.16,815.66 L1162.09,816.75 L1164.03,817.84 L1165.96,818.93 L1167.9,820.03 L1169.83,821.12 L1171.77,822.21 L1173.7,823.3" fill="none" stroke="#0000ff" stroke-width="1.1" stroke-dasharray="2.8,1.1"/>
<path d="M711.32,656.5 L1173.7,672.5" fill="none" stroke="#008000" stroke-width="1.1" stroke-dasharray="2.8,1.1"/>
<path d="M711.32,652.47 L712.87,652.82 L714.42,653.17 L715.96,653.54 L717.51,653.92 L719.06,654.32 L720.6,654.73 L722.15,655.16 L723.7,655.6 L725.24,656.05 L726.79,656.52 L728.34,657 L729.88,657.5 L731.43,658.01 L732.97,658.53 L734.52,659.07 L736.07,659.63 L737.61,660.2 L739.16,660.78 L740.71,661.38 L742.25,661.99 L743.8,662.62 L745.35,663.26 L746.89,663.92 L748.44,664.59 L749.99,665.28 L751.53,665.98 L753.08,666.69 L754.62,667.43 L756.17,668.17 L757.72,668.93 L759.26,669.71 L760.81,670.5 L762.36,671.31 L763.9,672.13 L765.45,672.97 L767,673.82 L768.54,674.69 L770.09,675.57 L771.63,676.47 L773.18,677.39 L774.73,678.32 L776.27,679.26 L777.82,680.22 L779.37,681.2 L780.91,682.19 L782.46,683.2 L784.01,684.22 L785.55,685.26 L787.1,686.32 L788.65,687.39 L790.19,688.48 L791.74,689.58 L793.28,690.7 L794.83,691.84 L796.38,692.99 L797.92,694.16 L799.47,695.34 L801.02,696.54 L802.56,697.76 L804.11,698.99 L805.66,700.24 L807.2,701.5 L808.75,702.78 L810.29,704.08 L811.84,705.4 L813.39,706.73 L814.93,708.08 L816.48,709.44 L818.03,710.82 L819.57,712.22 L821.12,713.64 L822.67,715.07 L824.21,716.52 L825.76,717.98 L827.31,719.46 L828.85,720.96 L830.4,722.48 L831.94,724.01 L833.49,725.56 L835.04,727.13 L836.58,728.72 L838.13,730.32 L839.68,731.94 L841.22,733.57 L842.77,735.23 L844.32,736.9 L845.86,738.59 L847.41,740.29 L848.95,742.02 L850.5,743.76 L852.05,745.52 L853.59,747.29 L855.14,749.09 L856.69,750.9 L858.23,752.73 L859.78,754.58 L861.33,756.44 L862.87,758.32 L864.42,760.23 L865.97,762.14 L867.51,764.08 L869.06,766.04 L870.6,768.01 L872.15,770 L873.7,772.01 L875.24,774.04 L876.79,776.08 L878.34,778.15 L879.88,780.23 L881.43,782.33 L882.98,784.45 L884.52,786.59 L886.07,788.74 L887.62,790.92 L889.16,793.11 L890.71,795.33 L892.25,797.56 L893.8,799.81 L895.35,802.07 L896.89,804.36 L898.44,806.67 L899.99,808.99 L901.53,811.33 L903.08,813.7 L904.63,816.08 L906.17,818.48 L907.72,820.9 L909.26,823.34 L910.81,825.8 L912.36,828.27 L913.9,830.77 L915.45,833.28 L917,835.82 L918.54,838.37 L920.09,840.95 L921.64,843.54 L923.18,846.15 L924.73,848.79 L926.28,851.44 L927.82,854.11 L929.37,856.8 L930.91,859.51 L932.46,862.24 L934.01,864.99 L935.55,867.76 L937.1,870.55 L938.65,873.36 L940.19,876.19 L941.74,879.04 L943.29,881.91 L944.83,884.8 L946.38,887.71 L947.92,890.64 L949.47,893.59 L951.02,896.56 L952.56,899.56 L954.11,902.57 L955.66,905.6 L957.2,908.65 L958.75,911.72 L960.3,914.82 L961.84,917.93 L963.39,921.06 L964.94,924.22 L966.48,927.4 L968.03,930.59 L969.57,933.81 L971.12,937.05 L972.67,940.3 L974.21,943.58 L975.76,946.88 L977.31,950.21 L978.85,953.55 L980.4,956.91 L981.95,960.3 L983.49,963.7 L985.04,967.13 L986.59,970.57 L988.13,974.04 L989.68,977.53 L991.22,981.05 L992.77,984.58 L994.32,988.13 L995.86,991.71 L997.41,995.31 L998.96,998.92 L1000.5,1002.57 L1002.05,1006.23 L1003.6,1009.91 L1005.14,1013.62 L1006.69,1017.34 L1008.23,1021.09 L1009.78,1024.86 L1011.33,1028.66 L1012.87,1032.47 L1014.42,1036.31 L1015.97,1040.16 L1017.51,1044.04 L1019.06,1047.95 L1020.61,1051.87 L1022.15,1055.82 L1023.7,1059.79 L1025.25,1063.78 L1026.79,1067.79 L1028.34,1071.83 L1029.88,1075.89 L1031.43,1079.97 L1032.98,1084.07 L1034.52,1088.19 L1036.07,1092.34 L1037.62,1096.51 L1039.16,1100.71 L1040.71,1104.92 L1042.26,1109.16 L1043.8,1113.42 L1045.35,1117.7 L1046.89,1122.01 L1048.44,1126.34 L1049.99,1130.69 L1051.53,1135.07 L1053.08,1139.47 L1054.63,1143.89 L1056.17,1148.33 L1057.72,1152.8 L1059.27,1157.29 L1060.81,1161.8 L1062.36,1166.34 L1063.91,1170.9 L1065.45,1175.48 L1067,1180.09 L1068.54,1184.72 L1070.09,1189.38 L1071.64,1194.05 L1073.18,1198.75 L1074.73,1203.48 L1076.28,1208.23 L1077.82,1213 L1079.37,1217.79 L1080.92,1222.61 L1082.46,1227.45 L1084.01,1232.32 L1085.55,1237.21 L1087.1,1242.12 L1088.65,1247.06 L1090.19,1252.03 L1091.74,1257.01 L1093.29,1262.02 L1094.83,1267.06 L1096.38,1272.11 L1097.93,1277.2 L1099.47,1282.3 L1101.02,1287.43 L1102.57,1292.59 L1104.11,1297.77 L1105.66,1302.97 L1107.2,1308.2 L1108.75,1313.46 L1110.3,1318.73 L1111.84,1324.03 L1113.39,1329.36 L1114.94,1334.71 L1116.48,1340.09 L1118.03,1345.49 L1119.58,1350.91 L1121.12,1356.36 L1122.67,1361.84 L1124.22,1367.34 L1125.76,1372.86 L1127.31,1378.41 L1128.85,1383.99 L1130.4,1389.59 L1131.95,1395.21 L1133.49,1400.86 L1135.04,1406.54 L1136.59,1412.24 L1138.13,1417.96 L1139.68,1423.72 L1141.23,1429.49 L1142.77,1435.29 L1144.32,1441.12 L1145.86,1446.97 L1147.41,1452.85 L1148.96,1458.75 L1150.5,1464.68 L1152.05,1470.64 L1153.6,1476.62 L1155.14,1482.63 L1156.69,1488.66 L1158.24,1494.72 L1159.78,1500.8 L1161.33,1506.91 L1162.88,1513.04 L1164.42,1519.2 L1165.97,1525.39 L1167.51,1531.61 L1169.06,1537.84 L1170.61,1544.11 L1172.15,1550.4 L1173.7,1556.72" fill="none" stroke="#ff00ff" stroke-width="1.1" stroke-dasharray="2.8,1.1"/>
<circle cx="739.82" cy="665.6" r="3.8" fill="#ff0000" stroke="#000" stroke-width="1.1"/>
<circle cx="796.8" cy="653.1" r="3.8" fill="#ff0000" stroke="#000" stroke-width="1.1"/>
<circle cx="853.78" cy="649.5" r="3.8" fill="#ff0000" stroke="#000" stroke-width="1.1"/>
<circle cx="910.76" cy="671.7" r="3.8" fill="#ff0000" stroke="#000" stroke-width="1.1"/>
<circle cx="967.75" cy="708.3" r="3.8" fill="#ff0000" stroke="#000" stroke-width="1.1"/>
<circle cx="1024.73" cy="739.8" r="3.8" fill="#ff0000" stroke="#000" stroke-width="1.1"/>
</g>
<rect x="671.3" y="515.3" width="502.4" height="416" fill="none" stroke="#000" stroke-width="0.55"/>
<g stroke="#000">
<line x1="671.3" y1="931.3" x2="671.3" y2="926.3" stroke-width="1.6"/>
<line x1="671.3" y1="515.3" x2="671.3" y2="520.3" stroke-width="1.6"/>
<line x1="681.83" y1="931.3" x2="681.83" y2="926.3" stroke-width="1.6"/>
<line x1="681.83" y1="515.3" x2="681.83" y2="520.3" stroke-width="1.6"/>
<line x1="690.73" y1="931.3" x2="690.73" y2="926.3" stroke-width="1.6"/>
<line x1="690.73" y1="515.3" x2="690.73" y2="520.3" stroke-width="1.6"/>
<line x1="698.44" y1="931.3" x2="698.44" y2="926.3" stroke-width="1.6"/>
<line x1="698.44" y1="515.3" x2="698.44" y2="520.3" stroke-width="1.6"/>
<line x1="705.24" y1="931.3" x2="705.24" y2="926.3" stroke-width="1.6"/>
<line x1="705.24" y1="515.3" x2="705.24" y2="520.3" stroke-width="1.6"/>
<line x1="711.32" y1="931.3" x2="711.32" y2="922.5" stroke-width="2.2"/>
<line x1="711.32" y1="515.3" x2="711.32" y2="524.1" stroke-width="2.2"/>
<line x1="751.35" y1="931.3" x2="751.35" y2="926.3" stroke-width="1.6"/>
<line x1="751.35" y1="515.3" x2="751.35" y2="520.3" stroke-width="1.6"/>
<line x1="774.76" y1="931.3" x2="774.76" y2="926.3" stroke-width="1.6"/>
<line x1="774.76" y1="515.3" x2="774.76" y2="520.3" stroke-width="1.6"/>
<line x1="791.37" y1="931.3" x2="791.37" y2="926.3" stroke-width="1.6"/>
<line x1="791.37" y1="515.3" x2="791.37" y2="520.3" stroke-width="1.6"/>
<line x1="804.26" y1="931.3" x2="804.26" y2="926.3" stroke-width="1.6"/>
<line x1="804.26" y1="515.3" x2="804.26" y2="520.3" stroke-width="1.6"/>
<line x1="814.79" y1="931.3" x2="814.79" y2="926.3" stroke-width="1.6"/>
<line x1="814.79" y1="515.3" x2="814.79" y2="520.3" stroke-width="1.6"/>
<line x1="823.69" y1="931.3" x2="823.69" y2="926.3" stroke-width="1.6"/>
<line x1="823.69" y1="515.3" x2="823.69" y2="520.3" stroke-width="1.6"/>
<line x1="831.4" y1="931.3" x2="831.4" y2="926.3" stroke-width="1.6"/>
<line x1="831.4" y1="515.3" x2="831.4" y2="520.3" stroke-width="1.6"/>
<line x1="838.2" y1="931.3" x2="838.2" y2="926.3" stroke-width="1.6"/>
<line x1="838.2" y1="515.3" x2="838.2" y2="520.3" stroke-width="1.6"/>
<line x1="844.28" y1="931.3" x2="844.28" y2="922.5" stroke-width="2.2"/>
<line x1="844.28" y1="515.3" x2="844.28" y2="524.1" stroke-width="2.2"/>
<line x1="884.31" y1="931.3" x2="884.31" y2="926.3" stroke-width="1.6"/>
<line x1="884.31" y1="515.3" x2="884.31" y2="520.3" stroke-width="1.6"/>
<line x1="907.72" y1="931.3" x2="907.72" y2="926.3" stroke-width="1.6"/>
<line x1="907.72" y1="515.3" x2="907.72" y2="520.3" stroke-width="1.6"/>
<line x1="924.33" y1="931.3" x2="924.33" y2="926.3" stroke-width="1.6"/>
<line x1="924.33" y1="515.3" x2="924.33" y2="520.3" stroke-width="1.6"/>
<line x1="937.22" y1="931.3" x2="937.22" y2="926.3" stroke-width="1.6"/>
<line x1="937.22" y1="515.3" x2="937.22" y2="520.3" stroke-width="1.6"/>
<line x1="947.75" y1="931.3" x2="947.75" y2="926.3" stroke-width="1.6"/>
<line x1="947.75" y1="515.3" x2="947.75" y2="520.3" stroke-width="1.6"/>
<line x1="956.65" y1="931.3" x2="956.65" y2="926.3" stroke-width="1.6"/>
<line x1="956.65" y1="515.3" x2="956.65" y2="520.3" stroke-width="1.6"/>
<line x1="964.36" y1="931.3" x2="964.36" y2="926.3" stroke-width="1.6"/>
<line x1="964.36" y1="515.3" x2="964.36" y2="520.3" stroke-width="1.6"/>
<line x1="971.16" y1="931.3" x2="971.16" y2="926.3" stroke-width="1.6"/>
<line x1="971.16" y1="515.3" x2="971.16" y2="520.3" stroke-width="1.6"/>
<line x1="977.24" y1="931.3" x2="977.24" y2="922.5" stroke-width="2.2"/>
<line x1="977.24" y1="515.3" x2="977.24" y2="524.1" stroke-width="2.2"/>
<line x1="1017.27" y1="931.3" x2="1017.27" y2="926.3" stroke-width="1.6"/>
<line x1="1017.27" y1="515.3" x2="1017.27" y2="520.3" stroke-width="1.6"/>
<line x1="1040.68" y1="931.3" x2="1040.68" y2="926.3" stroke-width="1.6"/>
<line x1="1040.68" y1="515.3" x2="1040.68" y2="520.3" stroke-width="1.6"/>
<line x1="1057.29" y1="931.3" x2="1057.29" y2="926.3" stroke-width="1.6"/>
<line x1="1057.29" y1="515.3" x2="1057.29" y2="520.3" stroke-width="1.6"/>
<line x1="1070.18" y1="931.3" x2="1070.18" y2="926.3" stroke-width="1.6"/>
<line x1="1070.18" y1="515.3" x2="1070.18" y2="520.3" stroke-width="1.6"/>
<line x1="1080.71" y1="931.3" x2="1080.71" y2="926.3" stroke-width="1.6"/>
<line x1="1080.71" y1="515.3" x2="1080.71" y2="520.3" stroke-width="1.6"/>
<line x1="1089.61" y1="931.3" x2="1089.61" y2="926.3" stroke-width="1.6"/>
<line x1="1089.61" y1="515.3" x2="1089.61" y2="520.3" stroke-width="1.6"/>
<line x1="1097.32" y1="931.3" x2="1097.32" y2="926.3" stroke-width="1.6"/>
<line x1="1097.32" y1="515.3" x2="1097.32" y2="520.3" stroke-width="1.6"/>
<line x1="1104.12" y1="931.3" x2="1104.12" y2="926.3" stroke-width="1.6"/>
<line x1="1104.12" y1="515.3" x2="1104.12" y2="520.3" stroke-width="1.6"/>
<line x1="1110.2" y1="931.3" x2="1110.2" y2="922.5" stroke-width="2.2"/>
<line x1="1110.2" y1="515.3" x2="1110.2" y2="524.1" stroke-width="2.2"/>
<line x1="1150.23" y1="931.3" x2="1150.23" y2="926.3" stroke-width="1.6"/>
<line x1="1150.23" y1="515.3" x2="1150.23" y2="520.3" stroke-width="1.6"/>
<line x1="1173.64" y1="931.3" x2="1173.64" y2="926.3" stroke-width="1.6"/>
<line x1="1173.64" y1="515.3" x2="1173.64" y2="520.3" stroke-width="1.6"/>
<line x1="671.3" y1="931.31" x2="680.1" y2="931.31" stroke-width="2.2"/>
<line x1="1173.7" y1="931.31" x2="1164.9" y2="931.31" stroke-width="2.2"/>
<line x1="671.3" y1="889.57" x2="676.3" y2="889.57" stroke-width="1.6"/>
<line x1="1173.7" y1="889.57" x2="1168.7" y2="889.57" stroke-width="1.6"/>
<line x1="671.3" y1="865.15" x2="676.3" y2="865.15" stroke-width="1.6"/>
<line x1="1173.7" y1="865.15" x2="1168.7" y2="865.15" stroke-width="1.6"/>
<line x1="671.3" y1="847.82" x2="676.3" y2="847.82" stroke-width="1.6"/>
<line x1="1173.7" y1="847.82" x2="1168.7" y2="847.82" stroke-width="1.6"/>
<line x1="671.3" y1="834.38" x2="676.3" y2="834.38" stroke-width="1.6"/>
<line x1="1173.7" y1="834.38" x2="1168.7" y2="834.38" stroke-width="1.6"/>
<line x1="671.3" y1="823.4" x2="676.3" y2="823.4" stroke-width="1.6"/>
<line x1="1173.7" y1="823.4" x2="1168.7" y2="823.4" stroke-width="1.6"/>
<line x1="671.3" y1="814.12" x2="676.3" y2="814.12" stroke-width="1.6"/>
<line x1="1173.7" y1="814.12" x2="1168.7" y2="814.12" stroke-width="1.6"/>
<line x1="671.3" y1="806.08" x2="676.3" y2="806.08" stroke-width="1.6"/>
<line x1="1173.7" y1="806.08" x2="1168.7" y2="806.08" stroke-width="1.6"/>
<line x1="671.3" y1="798.99" x2="676.3" y2="798.99" stroke-width="1.6"/>
<line x1="1173.7" y1="798.99" x2="1168.7" y2="798.99" stroke-width="1.6"/>
<line x1="671.3" y1="792.64" x2="680.1" y2="792.64" stroke-width="2.2"/>
<line x1="1173.7" y1="792.64" x2="1164.9" y2="792.64" stroke-width="2.2"/>
<line x1="671.3" y1="750.9" x2="676.3" y2="750.9" stroke-width="1.6"/>
<line x1="1173.7" y1="750.9" x2="1168.7" y2="750.9" stroke-width="1.6"/>
<line x1="671.3" y1="726.48" x2="676.3" y2="726.48" stroke-width="1.6"/>
<line x1="1173.7" y1="726.48" x2="1168.7" y2="726.48" stroke-width="1.6"/>
<line x1="671.3" y1="709.15" x2="676.3" y2="709.15" stroke-width="1.6"/>
<line x1="1173.7" y1="709.15" x2="1168.7" y2="709.15" stroke-width="1.6"/>
<line x1="671.3" y1="695.71" x2="676.3" y2="695.71" stroke-width="1.6"/>
<line x1="1173.7" y1="695.71" x2="1168.7" y2="695.71" stroke-width="1.6"/>
<line x1="671.3" y1="684.73" x2="676.3" y2="684.73" stroke-width="1.6"/>
<line x1="1173.7" y1="684.73" x2="1168.7" y2="684.73" stroke-width="1.6"/>
<line x1="671.3" y1="675.45" x2="676.3" y2="675.45" stroke-width="1.6"/>
<line x1="1173.7" y1="675.45" x2="1168.7" y2="675.45" stroke-width="1.6"/>
<line x1="671.3" y1="667.41" x2="676.3" y2="667.41" stroke-width="1.6"/>
<line x1="1173.7" y1="667.41" x2="1168.7" y2="667.41" stroke-width="1.6"/>
<line x1="671.3" y1="660.32" x2="676.3" y2="660.32" stroke-width="1.6"/>
<line x1="1173.7" y1="660.32" x2="1168.7" y2="660.32" stroke-width="1.6"/>
<line x1="671.3" y1="653.97" x2="680.1" y2="653.97" stroke-width="2.2"/>
<line x1="1173.7" y1="653.97" x2="1164.9" y2="653.97" stroke-width="2.2"/>
<line x1="671.3" y1="612.23" x2="676.3" y2="612.23" stroke-width="1.6"/>
<line x1="1173.7" y1="612.23" x2="1168.7" y2="612.23" stroke-width="1.6"/>
<line x1="671.3" y1="587.81" x2="676.3" y2="587.81" stroke-width="1.6"/>
<line x1="1173.7" y1="587.81" x2="1168.7" y2="587.81" stroke-width="1.6"/>
<line x1="671.3" y1="570.48" x2="676.3" y2="570.48" stroke-width="1.6"/>
<line x1="1173.7" y1="570.48" x2="1168.7" y2="570.48" stroke-width="1.6"/>
<line x1="671.3" y1="557.04" x2="676.3" y2="557.04" stroke-width="1.6"/>
<line x1="1173.7" y1="557.04" x2="1168.7" y2="557.04" stroke-width="1.6"/>
<line x1="671.3" y1="546.06" x2="676.3" y2="546.06" stroke-width="1.6"/>
<line x1="1173.7" y1="546.06" x2="1168.7" y2="546.06" stroke-width="1.6"/>
<line x1="671.3" y1="536.78" x2="676.3" y2="536.78" stroke-width="1.6"/>
<line x1="1173.7" y1="536.78" x2="1168.7" y2="536.78" stroke-width="1.6"/>
<line x1="671.3" y1="528.74" x2="676.3" y2="528.74" stroke-width="1.6"/>
<line x1="1173.7" y1="528.74" x2="1168.7" y2="528.74" stroke-width="1.6"/>
<line x1="671.3" y1="521.65" x2="676.3" y2="521.65" stroke-width="1.6"/>
<line x1="1173.7" y1="521.65" x2="1168.7" y2="521.65" stroke-width="1.6"/>
<line x1="671.3" y1="515.3" x2="680.1" y2="515.3" stroke-width="2.2"/>
<line x1="1173.7" y1="515.3" x2="1164.9" y2="515.3" stroke-width="2.2"/>
</g>
<g transform="translate(696.69,954.3) scale(1,1.08)"><text x="0" y="0" font-family='"Liberation Serif", serif' font-size="22.0">10<tspan font-size="16.3" dx="0.6" dy="-8.24">2</tspan></text></g>
<g transform="translate(829.65,954.3) scale(1,1.08)"><text x="0" y="0" font-family='"Liberation Serif", serif' font-size="22.0">10<tspan font-size="16.3" dx="0.6" dy="-8.24">3</tspan></text></g>
<g transform="translate(962.61,954.3) scale(1,1.08)"><text x="0" y="0" font-family='"Liberation Serif", serif' font-size="22.0">10<tspan font-size="16.3" dx="0.6" dy="-8.24">4</tspan></text></g>
<g transform="translate(1095.57,954.3) scale(1,1.08)"><text x="0" y="0" font-family='"Liberation Serif", serif' font-size="22.0">10<tspan font-size="16.3" dx="0.6" dy="-8.24">5</tspan></text></g>
<g transform="translate(0,939.21) scale(1,1.08)">
<text x="642.94" y="0" text-anchor="end" font-family='"Liberation Serif", serif' font-size="22.0">10</text>
<text x="663.5" y="-7.59" text-anchor="end" font-family='"Liberation Serif", serif' font-size="16.3">5</text>
<rect x="644" y="-12.13" width="9.6" height="1.06" fill="#000"/>
</g>
<g transform="translate(0,800.54) scale(1,1.08)">
<text x="642.94" y="0" text-anchor="end" font-family='"Liberation Serif", serif' font-size="22.0">10</text>
<text x="663.5" y="-7.59" text-anchor="end" font-family='"Liberation Serif", serif' font-size="16.3">4</text>
<rect x="644" y="-12.13" width="9.6" height="1.06" fill="#000"/>
</g>
<g transform="translate(0,661.87) scale(1,1.08)">
<text x="642.94" y="0" text-anchor="end" font-family='"Liberation Serif", serif' font-size="22.0">10</text>
<text x="663.5" y="-7.59" text-anchor="end" font-family='"Liberation Serif", serif' font-size="16.3">3</text>
<rect x="644" y="-12.13" width="9.6" height="1.06" fill="#000"/>
</g>
<g transform="translate(0,523.2) scale(1,1.08)">
<text x="642.94" y="0" text-anchor="end" font-family='"Liberation Serif", serif' font-size="22.0">10</text>
<text x="663.5" y="-7.59" text-anchor="end" font-family='"Liberation Serif", serif' font-size="16.3">2</text>
<rect x="644" y="-12.13" width="9.6" height="1.06" fill="#000"/>
</g>
<g font-family='"Liberation Serif", serif' font-size="22.4" fill="#000">
<text x="922.5" y="510.4" text-anchor="middle">MJD 58266.65603 – 58273.65603</text>
<text x="922.5" y="976.6" text-anchor="middle">Energy (MeV)</text>
<g transform="translate(611.95,845.95) rotate(-90)">
<text x="0" y="0" font-size="22.4">E</text>
<text x="13.9" y="-7.4" font-size="16">2</text>
<text x="27.39" y="0" font-size="22.4">dN/dE</text>
<text x="90.61" y="0" font-size="22.4">(MeV</text>
<text x="150.75" y="0" font-size="22.4">cm</text>
<text x="191.8" y="-7.4" font-size="16">2</text>
<text x="206.18" y="0" font-size="22.4">s</text>
<text x="228.09" y="-7.4" font-size="16">1</text>
<text x="236.21" y="0" font-size="22.4">)</text>
<rect x="180.8" y="-12.42" width="8.9" height="1.15" fill="#000"/>
<rect x="216.7" y="-12.42" width="9" height="1.15" fill="#000"/>
</g>
</g>
<rect x="1000.7" y="528.6" width="30.6" height="11.4" fill="#ccccff" stroke="#b8b8f5" stroke-width="0.8"/>
<rect x="1000.7" y="549.6" width="30.6" height="11.4" fill="#ffccff" stroke="#f5b8f5" stroke-width="0.8"/>
<rect x="1100.4" y="528.6" width="30.6" height="11.4" fill="#cce6cc" stroke="#bcdcbc" stroke-width="0.8"/>
<g font-family='"Liberation Serif", serif' font-size="15.6" fill="#000">
<text x="1042.85" y="539.4">BPL</text>
<text x="1042.85" y="560.8">LP</text>
<text x="1142.65" y="539.4">PL</text>
</g></svg>
</body></html>
